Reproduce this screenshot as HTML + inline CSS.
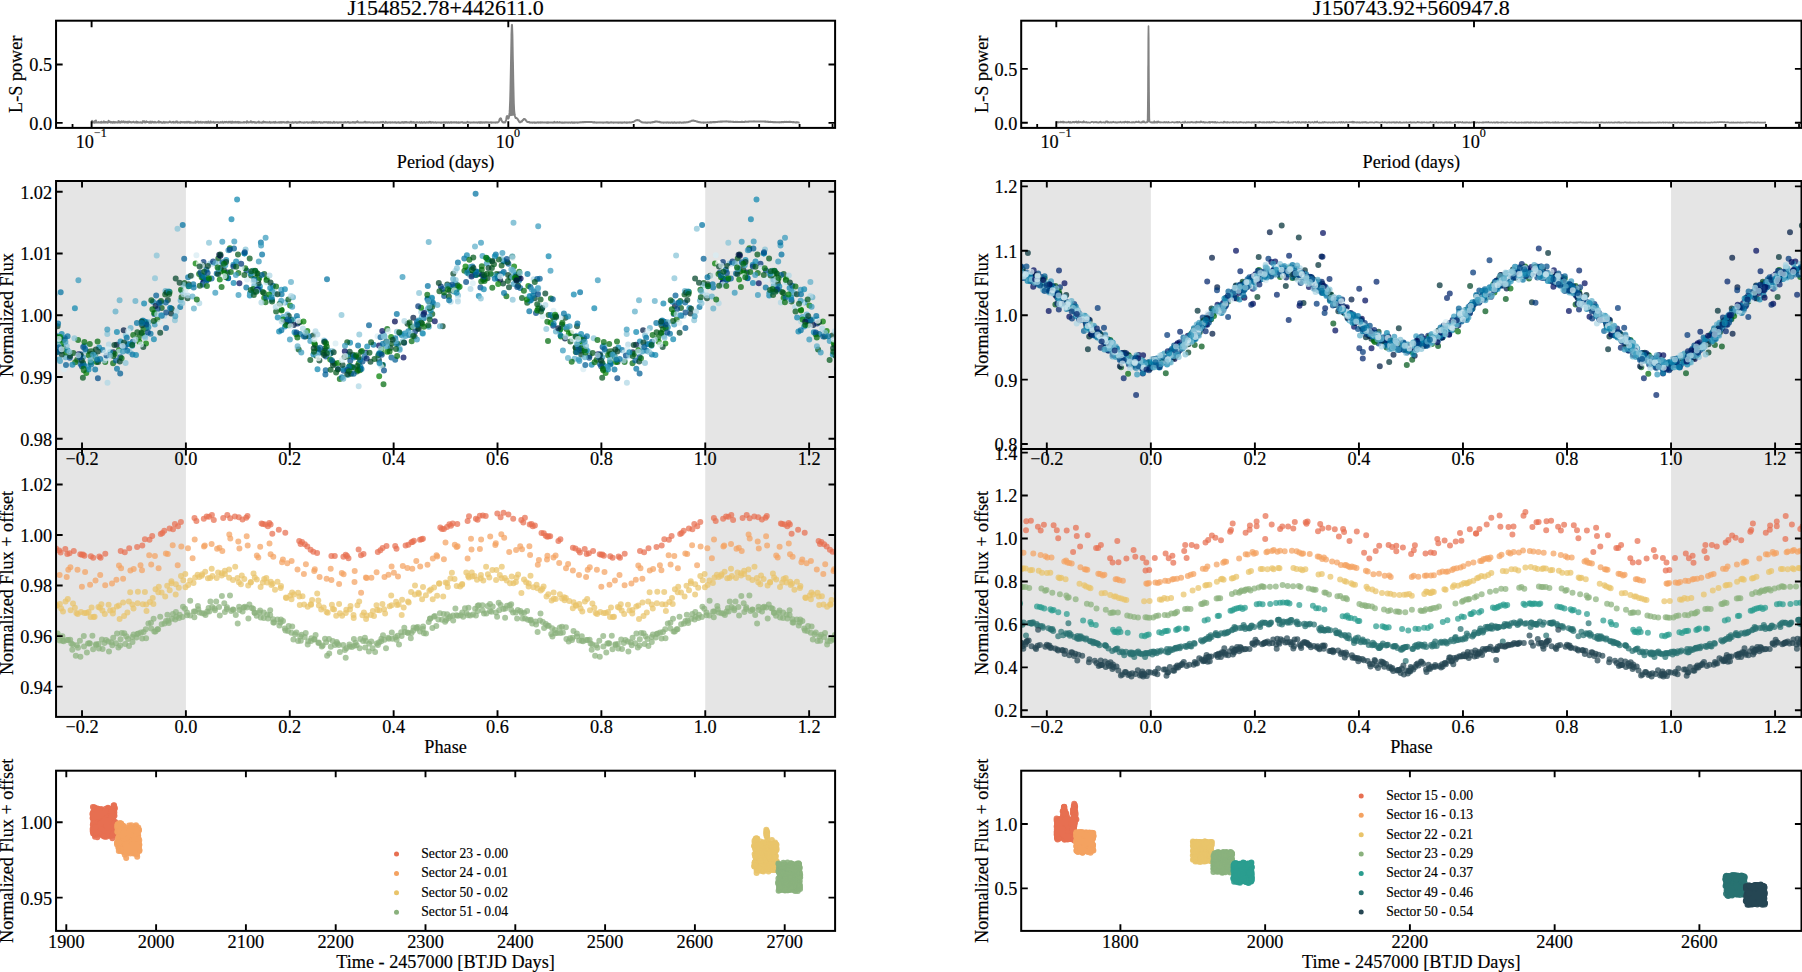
<!DOCTYPE html>
<html lang="en"><head><meta charset="utf-8"><title>Light curves</title>
<style>html,body{margin:0;padding:0;background:#fff;overflow:hidden}svg{display:block}</style>
</head><body>
<svg width="1802" height="972" viewBox="0 0 1802 972" font-family="'Liberation Serif', serif" fill="#000">
<style>text{stroke:#000;stroke-width:0.18px}.m{stroke:none}</style>
<style>.d{fill:none;stroke-linecap:round;stroke-width:6.00px}.e{stroke-width:6.00px}</style>
<rect width="1802" height="972" fill="#fff"/>
<path d="M91.6 121.3 92.1 120.9 92.5 122.4 93.0 122.3 93.5 122.4 94.0 122.6 94.4 121.3 94.9 122.6 95.4 122.1 95.9 120.4 96.3 122.6 96.8 122.5 97.3 122.5 97.7 122.3 98.2 122.0 98.7 122.5 99.2 122.4 99.6 122.6 100.1 122.1 100.6 122.6 101.0 122.7 101.5 121.7 102.0 122.4 102.5 122.4 102.9 122.6 103.4 122.4 103.9 121.4 104.4 122.5 104.8 122.6 105.3 122.0 105.8 122.1 106.2 122.5 106.7 122.1 107.2 122.3 107.7 122.7 108.1 122.3 108.6 120.8 109.1 122.0 109.5 122.1 110.0 121.6 110.5 122.5 111.0 122.3 111.4 122.4 111.9 122.0 112.4 122.7 112.9 122.7 113.3 121.8 113.8 122.2 114.3 122.6 114.7 122.0 115.2 122.6 115.7 122.1 116.2 122.3 116.6 122.3 117.1 122.6 117.6 122.2 118.0 122.6 118.5 121.1 119.0 122.3 119.5 122.4 119.9 121.6 120.4 122.7 120.9 122.1 121.4 122.2 121.8 121.4 122.3 122.1 122.8 122.3 123.2 122.0 123.7 121.3 124.2 122.4 124.7 122.5 125.1 122.3 125.6 121.7 126.1 121.9 126.5 122.5 127.0 122.0 127.5 121.8 128.0 122.7 128.4 122.5 128.9 121.6 129.4 121.6 129.9 122.2 130.3 122.2 130.8 122.0 131.3 122.5 131.7 122.3 132.2 122.2 132.7 122.2 133.2 121.8 133.6 121.8 134.1 122.3 134.6 122.5 135.1 122.6 135.5 122.4 136.0 121.9 136.5 121.6 136.9 122.7 137.4 122.0 137.9 122.2 138.4 122.6 138.8 122.5 139.3 122.5 139.8 122.6 140.2 122.2 140.7 122.2 141.2 122.6 141.7 122.7 142.1 122.4 142.6 122.6 143.1 121.1 143.6 121.8 144.0 121.8 144.5 121.4 145.0 122.5 145.4 122.3 145.9 122.4 146.4 121.3 146.9 122.0 147.3 122.1 147.8 121.9 148.3 122.1 148.7 122.2 149.2 122.7 149.7 122.3 150.2 121.5 150.6 122.6 151.1 122.3 151.6 122.6 152.1 121.6 152.5 122.3 153.0 121.9 153.5 122.1 153.9 122.6 154.4 122.2 154.9 121.8 155.4 122.3 155.8 122.5 156.3 122.4 156.8 122.4 157.2 122.3 157.7 122.2 158.2 122.4 158.7 121.2 159.1 122.6 159.6 122.4 160.1 122.0 160.6 121.9 161.0 122.4 161.5 122.2 162.0 122.7 162.4 122.5 162.9 122.7 163.4 122.6 163.9 121.8 164.3 122.5 164.8 122.7 165.3 122.3 165.7 122.4 166.2 122.2 166.7 122.5 167.2 122.2 167.6 122.5 168.1 122.6 168.6 122.2 169.1 122.3 169.5 121.7 170.0 121.5 170.5 122.2 170.9 122.4 171.4 122.6 171.9 122.2 172.4 122.1 172.8 122.1 173.3 122.6 173.8 121.8 174.3 122.6 174.7 122.6 175.2 122.3 175.7 122.4 176.1 121.5 176.6 122.1 177.1 121.5 177.6 122.7 178.0 122.5 178.5 122.6 179.0 122.3 179.4 122.4 179.9 122.5 180.4 122.7 180.9 121.8 181.3 122.3 181.8 122.1 182.3 122.4 182.8 122.2 183.2 122.3 183.7 122.0 184.2 122.6 184.6 122.1 185.1 122.6 185.6 122.4 186.1 121.8 186.5 122.6 187.0 122.6 187.5 122.6 187.9 121.8 188.4 122.3 188.9 121.7 189.4 122.4 189.8 122.7 190.3 122.1 190.8 122.7 191.3 122.3 191.7 122.5 192.2 122.4 192.7 122.6 193.1 122.7 193.6 122.6 194.1 122.6 194.6 122.3 195.0 122.6 195.5 121.5 196.0 122.6 196.4 122.1 196.9 122.1 197.4 122.0 197.9 121.6 198.3 122.6 198.8 122.7 199.3 122.1 199.8 122.4 200.2 122.5 200.7 121.7 201.2 122.6 201.6 122.6 202.1 122.7 202.6 122.0 203.1 122.4 203.5 122.3 204.0 122.1 204.5 122.4 204.9 122.7 205.4 122.4 205.9 121.8 206.4 122.6 206.8 122.2 207.3 122.3 207.8 122.7 208.3 121.5 208.7 122.6 209.2 122.7 209.7 122.4 210.1 122.7 210.6 121.5 211.1 122.4 211.6 122.3 212.0 122.6 212.5 122.4 213.0 122.1 213.5 121.8 213.9 122.7 214.4 122.7 214.9 122.2 215.3 122.3 215.8 122.4 216.3 122.2 216.8 122.3 217.2 122.1 217.7 122.3 218.2 122.7 218.6 122.3 219.1 122.4 219.6 122.7 220.1 122.3 220.5 122.0 221.0 122.6 221.5 122.5 222.0 122.3 222.4 121.7 222.9 122.6 223.4 122.7 223.8 122.7 224.3 122.1 224.8 121.8 225.3 122.5 225.7 122.1 226.2 122.3 226.7 121.9 227.1 122.4 227.6 122.4 228.1 122.6 228.6 121.9 229.0 122.4 229.5 121.8 230.0 122.3 230.5 121.8 230.9 122.7 231.4 122.2 231.9 122.7 232.3 121.6 232.8 122.4 233.3 122.6 233.8 122.1 234.2 122.0 234.7 122.5 235.2 122.4 235.6 121.9 236.1 122.4 236.6 122.3 237.1 122.5 237.5 122.2 238.0 121.9 238.5 122.7 239.0 122.1 239.4 122.1 239.9 122.7 240.4 122.3 240.8 122.6 241.3 122.4 241.8 122.5 242.3 122.6 242.7 122.5 243.2 122.6 243.7 122.1 244.1 121.9 244.6 122.5 245.1 122.2 245.6 122.2 246.0 122.4 246.5 122.7 247.0 121.3 247.5 122.3 247.9 122.4 248.4 122.3 248.9 122.5 249.3 122.4 249.8 122.2 250.3 122.3 250.8 121.2 251.2 122.3 251.7 122.4 252.2 122.0 252.7 122.4 253.1 122.1 253.6 122.0 254.1 122.2 254.5 122.6 255.0 122.0 255.5 122.7 256.0 122.7 256.4 122.7 256.9 122.3 257.4 122.3 257.8 122.4 258.3 122.4 258.8 121.6 259.3 122.6 259.7 122.3 260.2 122.4 260.7 122.5 261.2 122.6 261.6 122.7 262.1 122.2 262.6 122.4 263.0 122.7 263.5 121.5 264.0 122.3 264.5 122.0 264.9 122.4 265.4 122.4 265.9 122.1 266.3 122.4 266.8 122.6 267.3 122.2 267.8 122.4 268.2 122.6 268.7 122.4 269.2 122.4 269.7 121.9 270.1 122.5 270.6 122.7 271.1 122.5 271.5 122.6 272.0 122.3 272.5 122.6 273.0 122.2 273.4 122.5 273.9 122.1 274.4 122.3 274.8 122.7 275.3 121.8 275.8 122.6 276.3 122.4 276.7 122.6 277.2 122.5 277.7 122.5 278.2 122.5 278.6 122.3 279.1 122.1 279.6 122.7 280.0 122.5 280.5 122.1 281.0 122.7 281.5 122.1 281.9 122.5 282.4 122.4 282.9 122.1 283.3 122.1 283.8 122.3 284.3 122.4 284.8 122.2 285.2 122.5 285.7 122.4 286.2 122.4 286.7 122.0 287.1 122.6 287.6 121.8 288.1 121.8 288.5 122.4 289.0 122.3 289.5 122.6 290.0 122.5 290.4 122.4 290.9 122.5 291.4 122.5 291.9 122.7 292.3 122.3 292.8 122.1 293.3 122.7 293.7 122.7 294.2 122.6 294.7 122.3 295.2 122.2 295.6 122.1 296.1 122.7 296.6 122.2 297.0 122.5 297.5 122.7 298.0 122.5 298.5 122.2 298.9 122.4 299.4 121.9 299.9 122.5 300.4 122.0 300.8 122.2 301.3 122.4 301.8 122.5 302.2 122.4 302.7 122.5 303.2 122.5 303.7 122.7 304.1 122.7 304.6 122.3 305.1 122.4 305.5 122.5 306.0 122.5 306.5 122.2 307.0 122.3 307.4 122.2 307.9 122.7 308.4 122.7 308.9 122.4 309.3 122.6 309.8 122.4 310.3 122.4 310.7 122.4 311.2 122.7 311.7 122.7 312.2 122.0 312.6 121.6 313.1 122.7 313.6 122.7 314.0 121.7 314.5 122.6 315.0 122.7 315.5 122.3 315.9 122.4 316.4 122.0 316.9 122.6 317.4 122.7 317.8 122.2 318.3 122.4 318.8 122.3 319.2 122.1 319.7 122.1 320.2 122.5 320.7 122.7 321.1 122.2 321.6 122.6 322.1 122.7 322.5 122.7 323.0 122.4 323.5 122.6 324.0 122.0 324.4 122.1 324.9 122.4 325.4 122.3 325.9 122.2 326.3 122.4 326.8 122.2 327.3 122.4 327.7 122.7 328.2 122.0 328.7 122.7 329.2 122.5 329.6 122.6 330.1 122.0 330.6 122.7 331.1 122.6 331.5 122.6 332.0 122.5 332.5 122.7 332.9 122.7 333.4 122.6 333.9 121.9 334.4 122.6 334.8 122.7 335.3 122.6 335.8 122.4 336.2 122.2 336.7 122.4 337.2 122.7 337.7 122.5 338.1 122.7 338.6 122.5 339.1 122.4 339.6 122.5 340.0 122.1 340.5 122.6 341.0 122.6 341.4 122.5 341.9 122.3 342.4 122.6 342.9 122.6 343.3 122.6 343.8 122.7 344.3 122.2 344.7 122.3 345.2 122.0 345.7 122.6 346.2 122.6 346.6 122.6 347.1 122.4 347.6 122.1 348.1 122.1 348.5 122.5 349.0 122.2 349.5 122.7 349.9 122.6 350.4 122.7 350.9 122.4 351.4 122.4 351.8 122.6 352.3 122.5 352.8 122.0 353.2 122.2 353.7 122.5 354.2 122.7 354.7 122.3 355.1 122.3 355.6 122.7 356.1 122.0 356.6 122.3 357.0 121.8 357.5 121.4 358.0 122.3 358.4 122.3 358.9 122.5 359.4 122.6 359.9 122.5 360.3 122.4 360.8 122.6 361.3 122.4 361.7 122.5 362.2 122.6 362.7 122.5 363.2 122.5 363.6 122.6 364.1 122.2 364.6 121.7 365.1 122.4 365.5 121.9 366.0 122.6 366.5 122.6 366.9 122.3 367.4 122.3 367.9 122.4 368.4 122.4 368.8 122.2 369.3 122.3 369.8 122.3 370.3 122.6 370.7 122.4 371.2 122.5 371.7 122.4 372.1 122.4 372.6 122.3 373.1 122.6 373.6 122.7 374.0 122.6 374.5 122.3 375.0 122.6 375.4 122.5 375.9 122.4 376.4 122.6 376.9 122.4 377.3 122.4 377.8 122.3 378.3 122.6 378.8 122.6 379.2 122.2 379.7 122.6 380.2 122.5 380.6 122.1 381.1 122.3 381.6 122.1 382.1 122.6 382.5 122.5 383.0 121.8 383.5 122.3 383.9 122.4 384.4 122.7 384.9 122.7 385.4 122.7 385.8 121.8 386.3 122.4 386.8 122.5 387.3 122.7 387.7 122.7 388.2 122.4 388.7 122.6 389.1 122.4 389.6 122.5 390.1 122.2 390.6 122.6 391.0 122.2 391.5 122.6 392.0 122.5 392.4 122.2 392.9 122.4 393.4 122.4 393.9 122.5 394.3 122.6 394.8 122.3 395.3 122.4 395.8 122.3 396.2 122.7 396.7 122.7 397.2 122.6 397.6 122.6 398.1 122.2 398.6 122.3 399.1 122.7 399.5 122.4 400.0 122.5 400.5 122.7 400.9 122.7 401.4 122.6 401.9 122.1 402.4 122.4 402.8 122.3 403.3 122.7 403.8 122.5 404.3 122.2 404.7 122.6 405.2 122.0 405.7 122.5 406.1 122.5 406.6 122.1 407.1 122.4 407.6 122.4 408.0 122.6 408.5 122.4 409.0 122.4 409.5 122.7 409.9 122.4 410.4 121.8 410.9 122.4 411.3 121.9 411.8 122.7 412.3 122.6 412.8 122.3 413.2 122.1 413.7 122.5 414.2 122.7 414.6 122.2 415.1 122.7 415.6 122.4 416.1 122.7 416.5 122.5 417.0 122.2 417.5 122.6 418.0 122.4 418.4 122.5 418.9 122.6 419.4 122.3 419.8 122.1 420.3 122.7 420.8 122.7 421.3 122.5 421.7 122.0 422.2 122.7 422.7 122.7 423.1 122.6 423.6 122.3 424.1 122.6 424.6 122.1 425.0 122.6 425.5 122.7 426.0 122.7 426.5 122.3 426.9 122.2 427.4 122.5 427.9 122.6 428.3 122.7 428.8 122.1 429.3 122.1 429.8 121.7 430.2 122.6 430.7 122.0 431.2 122.7 431.6 122.6 432.1 122.3 432.6 122.3 433.1 122.3 433.5 122.6 434.0 122.7 434.5 122.4 435.0 122.4 435.4 122.3 435.9 122.5 436.4 122.7 436.8 122.6 437.3 122.6 437.8 122.4 438.3 122.6 438.7 122.5 439.2 122.6 439.7 122.6 440.1 122.5 440.6 122.7 441.1 122.6 441.6 122.7 442.0 122.4 442.5 122.4 443.0 122.4 443.5 122.7 443.9 122.2 444.4 122.4 444.9 122.7 445.3 122.2 445.8 122.6 446.3 122.2 446.8 122.6 447.2 122.5 447.7 122.7 448.2 122.2 448.7 122.6 449.1 122.5 449.6 122.7 450.1 122.6 450.5 122.5 451.0 122.1 451.5 122.7 452.0 122.2 452.4 122.6 452.9 122.6 453.4 122.2 453.8 122.6 454.3 122.5 454.8 122.3 455.3 122.4 455.7 122.6 456.2 122.1 456.7 122.7 457.2 122.4 457.6 122.5 458.1 122.7 458.6 122.2 459.0 122.7 459.5 122.5 460.0 122.6 460.5 122.5 460.9 122.3 461.4 122.2 461.9 122.3 462.3 122.4 462.8 122.2 463.3 122.7 463.8 122.7 464.2 122.6 464.7 122.7 465.2 122.6 465.7 122.7 466.1 122.7 466.6 122.7 467.1 122.1 467.5 121.8 468.0 122.5 468.5 122.2 469.0 122.6 469.4 122.5 469.9 122.6 470.4 122.6 470.8 122.7 471.3 122.4 471.8 122.5 472.3 122.4 472.7 122.5 473.2 122.6 473.7 122.3 474.2 122.5 474.6 122.4 475.1 122.4 475.6 122.5 476.0 122.4 476.5 122.6 477.0 122.4 477.5 122.7 477.9 122.4 478.4 122.4 478.9 122.2 479.3 122.7 479.8 122.2 480.3 122.6 480.8 122.1 481.2 122.7 481.7 122.3 482.2 122.3 482.7 122.7 483.1 122.4 483.6 122.5 484.1 122.2 484.5 122.7 485.0 122.4 485.5 122.3 486.0 122.5 486.4 122.2 486.9 122.3 487.4 122.6 487.9 122.2 488.3 122.7 488.8 122.7 489.3 122.5 489.7 122.6 490.2 122.6 490.7 122.3 491.2 122.3 491.6 122.7 492.1 122.5 492.6 122.5 493.0 122.6 493.5 122.4 494.0 122.5 494.5 122.4 494.9 122.4 495.4 122.7 495.9 122.6 496.4 122.3 496.8 122.6 497.3 122.6 497.8 122.5 498.2 122.0 498.7 121.6 499.2 120.6 499.7 119.1 500.1 118.6 500.6 118.3 501.1 118.8 501.5 120.5 502.0 121.2 502.5 122.1 503.0 122.3 503.4 122.5 503.9 122.3 504.4 122.5 504.9 122.6 505.3 122.2 505.8 121.0 506.3 119.2 506.7 116.6 507.2 116.0 507.7 117.5 508.2 118.6 508.6 118.2 509.1 116.2 509.3 115.1 509.6 112.7 509.8 110.2 510.0 104.7 510.2 100.5 510.5 88.5 510.6 83.2 511.0 63.6 511.1 58.5 511.5 37.3 511.5 35.0 511.9 25.0 512.0 24.9 512.4 35.2 512.4 35.7 512.8 58.7 512.9 61.7 513.3 83.1 513.4 87.5 513.7 100.5 513.8 103.8 514.1 110.1 514.3 112.0 514.6 114.5 514.8 115.4 515.2 116.8 515.7 118.0 516.2 117.9 516.7 118.3 517.1 118.4 517.6 119.1 518.1 120.0 518.5 120.4 519.0 121.5 519.5 122.2 520.0 122.3 520.4 122.3 520.9 121.9 521.4 121.2 521.9 121.5 522.3 120.8 522.8 120.0 523.3 119.9 523.7 119.2 524.2 118.9 524.7 119.1 525.2 119.4 525.6 119.9 526.1 120.6 526.6 121.2 527.1 121.7 527.5 122.1 528.0 122.0 528.5 122.1 528.9 122.2 529.4 122.0 529.9 122.7 530.4 122.4 530.8 122.5 531.3 122.6 531.8 122.6 532.2 122.7 532.7 122.5 533.2 122.5 533.7 122.5 534.1 122.7 534.6 122.5 535.1 122.5 535.6 122.7 536.0 122.7 536.5 122.7 537.0 122.4 537.4 122.4 537.9 122.3 538.4 122.6 538.9 122.7 539.3 122.5 539.8 122.4 540.3 122.2 540.7 122.7 541.2 122.6 541.7 122.5 542.2 122.2 542.6 122.5 543.1 122.5 543.6 122.4 544.1 122.6 544.5 122.6 545.0 122.6 545.5 122.6 545.9 122.6 546.4 122.5 546.9 122.7 547.4 122.5 547.8 122.2 548.3 122.7 548.8 122.6 549.2 122.6 549.7 122.5 550.2 122.5 550.7 122.6 551.1 122.5 551.6 122.4 552.1 122.6 552.6 122.6 553.0 122.7 553.5 122.6 554.0 122.2 554.4 121.9 554.9 122.5 555.4 122.6 555.9 122.5 556.3 122.5 556.8 122.6 557.3 122.0 557.7 122.5 558.2 122.5 558.7 122.5 559.2 122.5 559.6 122.1 560.1 122.4 560.6 122.6 561.1 122.5 561.5 122.7 562.0 122.7 562.5 122.5 562.9 122.7 563.4 122.7 563.9 122.6 564.4 122.4 564.8 122.7 565.3 122.6 565.8 122.6 566.3 122.6 566.7 122.4 567.2 122.4 567.7 122.6 568.1 122.7 568.6 122.6 569.1 122.5 569.6 122.6 570.0 122.6 570.5 122.7 571.0 122.6 571.4 122.5 571.9 122.2 572.4 122.7 572.9 122.5 573.3 122.5 573.8 122.7 574.3 122.6 574.8 122.7 575.2 122.4 575.7 122.4 576.2 122.6 576.6 122.6 577.1 122.6 577.6 122.7 578.1 122.5 578.5 122.6 579.0 122.6 579.5 122.4 579.9 122.2 580.4 122.2 580.9 122.5 581.4 122.2 581.8 122.2 582.3 122.2 582.8 122.1 583.3 122.2 583.7 122.2 584.2 122.0 584.7 122.0 585.1 122.2 585.6 121.9 586.1 122.1 586.6 121.9 587.0 122.1 587.5 121.9 588.0 122.1 588.4 122.0 588.9 122.0 589.4 122.0 589.9 121.9 590.3 122.1 590.8 122.0 591.3 122.0 591.8 122.1 592.2 122.1 592.7 122.3 593.2 122.4 593.6 122.5 594.1 122.0 594.6 122.6 595.1 122.5 595.5 122.4 596.0 122.6 596.5 122.4 596.9 122.7 597.4 122.4 597.9 122.5 598.4 122.6 598.8 122.6 599.3 122.6 599.8 122.4 600.3 122.6 600.7 122.6 601.2 122.6 601.7 122.6 602.1 122.6 602.6 122.5 603.1 122.7 603.6 122.7 604.0 122.5 604.5 122.5 605.0 122.4 605.5 122.4 605.9 122.4 606.4 122.6 606.9 122.2 607.3 122.4 607.8 122.7 608.3 122.5 608.8 122.6 609.2 122.7 609.7 122.6 610.2 122.5 610.6 122.6 611.1 122.3 611.6 122.5 612.1 122.4 612.5 122.5 613.0 122.6 613.5 122.7 614.0 122.5 614.4 122.5 614.9 122.5 615.4 122.5 615.8 122.4 616.3 122.5 616.8 122.5 617.3 122.6 617.7 122.5 618.2 122.7 618.7 122.6 619.1 122.7 619.6 122.4 620.1 122.6 620.6 122.4 621.0 122.7 621.5 122.5 622.0 122.7 622.5 122.6 622.9 122.7 623.4 122.4 623.9 122.5 624.3 122.2 624.8 122.5 625.3 122.4 625.8 122.4 626.2 122.7 626.7 122.6 627.2 122.7 627.6 122.4 628.1 122.6 628.6 122.6 629.1 122.6 629.5 122.3 630.0 122.4 630.5 122.6 631.0 122.4 631.4 122.4 631.9 122.2 632.4 122.1 632.8 122.1 633.3 121.7 633.8 121.7 634.3 121.4 634.7 121.1 635.2 120.7 635.7 120.6 636.1 120.2 636.6 120.2 637.1 120.1 637.6 119.9 638.0 120.3 638.5 120.3 639.0 120.2 639.5 120.8 639.9 121.0 640.4 121.3 640.9 121.7 641.3 122.0 641.8 122.2 642.3 122.3 642.8 122.4 643.2 122.5 643.7 122.4 644.2 122.4 644.7 122.5 645.1 122.7 645.6 122.6 646.1 122.6 646.5 122.7 647.0 122.6 647.5 122.7 648.0 122.6 648.4 122.4 648.9 122.5 649.4 122.5 649.8 122.6 650.3 122.7 650.8 122.5 651.3 122.5 651.7 122.2 652.2 122.2 652.7 122.4 653.2 122.0 653.6 122.0 654.1 122.0 654.6 121.9 655.0 121.6 655.5 121.7 656.0 121.5 656.5 121.6 656.9 121.5 657.4 121.7 657.9 121.7 658.3 121.8 658.8 121.9 659.3 121.8 659.8 122.2 660.2 122.1 660.7 122.3 661.2 122.5 661.7 122.5 662.1 122.5 662.6 122.5 663.1 122.6 663.5 122.7 664.0 122.5 664.5 122.5 665.0 122.5 665.4 122.4 665.9 122.6 666.4 122.7 666.8 122.5 667.3 122.6 667.8 122.3 668.3 122.6 668.7 122.7 669.2 122.5 669.7 122.5 670.2 122.6 670.6 122.7 671.1 122.6 671.6 122.4 672.0 122.3 672.5 122.7 673.0 122.7 673.5 122.6 673.9 122.7 674.4 122.3 674.9 122.5 675.3 122.7 675.8 122.7 676.3 122.6 676.8 122.7 677.2 122.6 677.7 122.6 678.2 122.4 678.7 122.7 679.1 122.7 679.6 122.5 680.1 122.3 680.5 122.5 681.0 122.6 681.5 122.7 682.0 122.7 682.4 122.6 682.9 122.6 683.4 122.7 683.9 122.4 684.3 122.3 684.8 122.4 685.3 122.5 685.7 122.5 686.2 122.3 686.7 122.3 687.2 122.3 687.6 122.2 688.1 122.2 688.6 121.9 689.0 121.8 689.5 121.7 690.0 121.6 690.5 121.3 690.9 121.1 691.4 120.8 691.9 120.7 692.4 120.6 692.8 120.7 693.3 120.6 693.8 120.6 694.2 120.8 694.7 120.9 695.2 121.1 695.7 121.0 696.1 121.3 696.6 121.4 697.1 121.7 697.5 121.6 698.0 121.9 698.5 121.9 699.0 122.2 699.4 122.3 699.9 122.1 700.4 122.3 700.9 122.4 701.3 122.4 701.8 122.6 702.3 122.5 702.7 122.6 703.2 122.5 703.7 122.7 704.2 122.5 704.6 122.5 705.1 122.5 705.6 122.5 706.0 122.4 706.5 122.5 707.0 122.6 707.5 122.3 707.9 122.4 708.4 122.4 708.9 122.5 709.4 122.2 709.8 122.5 710.3 122.4 710.8 122.0 711.2 122.4 711.7 122.4 712.2 122.2 712.7 122.2 713.1 122.0 713.6 122.2 714.1 122.0 714.5 122.0 715.0 122.2 715.5 122.0 716.0 122.0 716.4 121.9 716.9 121.9 717.4 121.9 717.9 121.8 718.3 121.8 718.8 121.8 719.3 121.8 719.7 121.7 720.2 121.6 720.7 121.7 721.2 121.6 721.6 121.5 722.1 121.7 722.6 121.6 723.1 121.6 723.5 121.5 724.0 121.6 724.5 121.6 724.9 121.6 725.4 121.4 725.9 121.6 726.4 121.3 726.8 121.5 727.3 121.6 727.8 121.6 728.2 121.5 728.7 121.7 729.2 121.7 729.7 121.6 730.1 121.5 730.6 121.7 731.1 121.8 731.6 121.7 732.0 121.8 732.5 121.8 733.0 121.9 733.4 121.8 733.9 121.9 734.4 122.0 734.9 122.0 735.3 121.8 735.8 121.9 736.3 122.0 736.7 121.8 737.2 122.1 737.7 121.8 738.2 122.1 738.6 121.9 739.1 122.0 739.6 121.9 740.1 122.0 740.5 121.9 741.0 122.0 741.5 122.0 741.9 121.6 742.4 122.0 742.9 122.0 743.4 121.9 743.8 122.0 744.3 121.9 744.8 121.9 745.2 121.5 745.7 121.7 746.2 121.7 746.7 121.7 747.1 121.8 747.6 121.8 748.1 121.6 748.6 121.7 749.0 121.6 749.5 121.6 750.0 121.5 750.4 121.6 750.9 121.6 751.4 121.6 751.9 121.6 752.3 121.5 752.8 121.6 753.3 121.5 753.7 121.5 754.2 121.3 754.7 121.6 755.2 121.5 755.6 121.5 756.1 121.5 756.6 121.5 757.1 121.6 757.5 121.5 758.0 121.4 758.5 121.4 758.9 121.5 759.4 121.5 759.9 121.4 760.4 121.6 760.8 121.5 761.3 121.5 761.8 121.5 762.2 121.4 762.7 121.5 763.2 121.6 763.7 121.4 764.1 121.5 764.6 121.5 765.1 121.7 765.6 121.5 766.0 121.7 766.5 121.7 767.0 121.7 767.4 121.6 767.9 121.9 768.4 121.8 768.9 121.9 769.3 121.9 769.8 122.0 770.3 121.8 770.8 122.0 771.2 121.9 771.7 121.9 772.2 122.1 772.6 122.0 773.1 122.2 773.6 122.2 774.1 122.1 774.5 122.3 775.0 122.1 775.5 122.2 775.9 122.2 776.4 122.2 776.9 122.2 777.4 122.2 777.8 122.3 778.3 122.2 778.8 122.3 779.3 122.4 779.7 122.2 780.2 122.3 780.7 122.3 781.1 122.0 781.6 122.0 782.1 122.2 782.6 122.1 783.0 121.9 783.5 122.2 784.0 122.0 784.4 122.0 784.9 121.8 785.4 121.9 785.9 121.9 786.3 121.9 786.8 121.8 787.3 121.9 787.8 121.9 788.2 121.9 788.7 122.0 789.2 121.8 789.6 122.0 790.1 121.7 790.6 122.0 791.1 122.0 791.5 122.0 792.0 122.1 792.5 122.2 792.9 122.2 793.4 122.1 793.9 122.2 794.4 122.2 794.8 122.2 795.3 122.4 795.8 122.4 796.3 122.3 796.7 122.4 797.2 122.2 797.7 122.5 798.1 122.5 798.6 122.5 799.1 122.6 799.6 122.4" fill="none" stroke="#838383" stroke-width="2.00" stroke-linejoin="round"/>
<path d="M509.1 116.2 509.3 115.1 509.6 112.7 509.8 110.2 510.0 104.7 510.2 100.5 510.5 88.5 510.6 83.2 511.0 63.6 511.1 58.5 511.5 37.3 511.5 35.0 511.9 25.0 512.0 24.9 512.4 35.2 512.4 35.7 512.8 58.7 512.9 61.7 513.3 83.1 513.4 87.5 513.7 100.5 513.8 103.8 514.1 110.1 514.3 112.0 514.6 114.5 514.8 115.4Z" fill="#838383"/>
<rect x="56.05" y="20.70" width="779.05" height="107.20" fill="none" stroke="#000" stroke-width="2.00"/>
<path d="M91.60 127.90v-6.60M91.60 20.70v6.60M508.30 127.90v-6.60M508.30 20.70v6.60" stroke="#000" stroke-width="1.90" fill="none"/>
<path d="M72.53 127.90v-3.80M217.04 127.90v-3.80M290.42 127.90v-3.80M342.48 127.90v-3.80M382.86 127.90v-3.80M415.86 127.90v-3.80M443.75 127.90v-3.80M467.92 127.90v-3.80M489.23 127.90v-3.80M633.74 127.90v-3.80M707.12 127.90v-3.80M759.18 127.90v-3.80M799.56 127.90v-3.80M832.56 127.90v-3.80" stroke="#000" stroke-width="1.80" fill="none"/>
<text x="91.30" y="147.60" text-anchor="middle" font-size="18.30">10<tspan dy="-10.4" font-size="12.08"><tspan class="m">−</tspan>1</tspan></text>
<text x="508.00" y="147.60" text-anchor="middle" font-size="18.30">10<tspan dy="-10.4" font-size="12.08">0</tspan></text>
<path d="M56.05 122.90h6.60M835.10 122.90h-6.60M56.05 64.50h6.60M835.10 64.50h-6.60" stroke="#000" stroke-width="1.90" fill="none"/>
<text x="52.15" y="129.80" text-anchor="end" font-size="18.30">0.0</text>
<text x="52.15" y="71.40" text-anchor="end" font-size="18.30">0.5</text>
<text x="445.57" y="168.10" text-anchor="middle" font-size="18.20">Period (days)</text>
<text transform="translate(22.20 74.30) rotate(-90)" text-anchor="middle" font-size="18.20">L-S power</text>
<text x="445.57" y="14.90" text-anchor="middle" font-size="22.00">J154852.78+442611.0</text>
<path d="M1056.3 122.2 1056.8 121.8 1057.2 122.5 1057.7 122.4 1058.2 121.9 1058.7 122.6 1059.1 122.3 1059.6 122.2 1060.1 122.2 1060.6 121.6 1061.0 122.5 1061.5 121.9 1062.0 122.1 1062.5 121.6 1062.9 122.5 1063.4 121.6 1063.9 122.6 1064.3 121.9 1064.8 122.3 1065.3 122.4 1065.8 122.2 1066.2 122.3 1066.7 122.6 1067.2 122.3 1067.7 122.4 1068.1 122.1 1068.6 121.6 1069.1 122.5 1069.6 122.1 1070.0 122.6 1070.5 121.9 1071.0 122.7 1071.4 122.6 1071.9 122.5 1072.4 122.0 1072.9 122.4 1073.3 122.0 1073.8 121.8 1074.3 122.5 1074.8 122.0 1075.2 121.9 1075.7 122.2 1076.2 121.4 1076.7 122.5 1077.1 122.0 1077.6 122.7 1078.1 122.6 1078.6 121.4 1079.0 122.5 1079.5 122.5 1080.0 122.1 1080.4 121.9 1080.9 122.2 1081.4 122.0 1081.9 122.5 1082.3 122.2 1082.8 121.8 1083.3 122.3 1083.8 121.2 1084.2 122.3 1084.7 122.2 1085.2 122.2 1085.7 122.3 1086.1 122.6 1086.6 121.9 1087.1 122.4 1087.5 122.6 1088.0 122.7 1088.5 122.3 1089.0 122.5 1089.4 122.6 1089.9 122.5 1090.4 122.6 1090.9 122.2 1091.3 122.1 1091.8 121.9 1092.3 122.0 1092.8 121.9 1093.2 122.1 1093.7 122.5 1094.2 122.1 1094.6 122.0 1095.1 122.4 1095.6 122.0 1096.1 121.9 1096.5 122.3 1097.0 122.0 1097.5 122.5 1098.0 122.7 1098.4 122.4 1098.9 122.6 1099.4 121.9 1099.9 122.4 1100.3 121.9 1100.8 121.6 1101.3 122.6 1101.7 122.5 1102.2 122.5 1102.7 122.4 1103.2 122.4 1103.6 122.2 1104.1 122.4 1104.6 122.6 1105.1 122.4 1105.5 122.6 1106.0 121.4 1106.5 121.8 1107.0 121.3 1107.4 121.5 1107.9 122.5 1108.4 122.1 1108.8 122.1 1109.3 122.7 1109.8 122.3 1110.3 122.3 1110.7 122.1 1111.2 122.6 1111.7 122.1 1112.2 122.5 1112.6 122.4 1113.1 121.6 1113.6 122.0 1114.1 122.5 1114.5 122.5 1115.0 122.1 1115.5 122.1 1116.0 122.7 1116.4 122.4 1116.9 122.4 1117.4 122.6 1117.8 122.3 1118.3 122.5 1118.8 122.2 1119.3 122.4 1119.7 122.4 1120.2 121.6 1120.7 122.3 1121.2 122.6 1121.6 122.3 1122.1 122.2 1122.6 122.5 1123.1 122.2 1123.5 122.3 1124.0 121.8 1124.5 122.7 1124.9 121.9 1125.4 121.6 1125.9 122.1 1126.4 122.1 1126.8 121.9 1127.3 122.7 1127.8 121.7 1128.3 122.4 1128.7 122.4 1129.2 121.8 1129.7 122.2 1130.2 122.5 1130.6 122.5 1131.1 122.5 1131.6 122.2 1132.0 122.6 1132.5 122.1 1133.0 122.3 1133.5 122.2 1133.9 122.0 1134.4 122.6 1134.9 122.3 1135.4 122.3 1135.8 121.8 1136.3 121.6 1136.8 122.2 1137.3 122.1 1137.7 122.2 1138.2 121.9 1138.7 121.4 1139.1 122.4 1139.6 122.5 1140.1 122.3 1140.6 122.6 1141.0 122.5 1141.5 122.6 1142.0 121.7 1142.5 121.5 1142.9 122.4 1143.4 122.2 1143.9 121.2 1144.4 122.1 1144.8 122.4 1145.3 122.7 1145.8 122.4 1146.3 122.1 1146.7 122.5 1147.2 122.2 1147.5 121.3 1147.7 118.3 1147.7 117.3 1147.8 109.8 1148.0 91.0 1148.1 68.0 1148.2 64.0 1148.3 38.2 1148.5 26.2 1148.6 32.7 1148.7 38.5 1148.8 64.2 1149.0 91.2 1149.1 102.3 1149.2 109.3 1149.3 118.1 1149.5 121.5 1149.6 121.1 1150.0 121.8 1150.5 122.2 1151.0 122.5 1151.5 122.1 1151.9 122.6 1152.4 122.6 1152.9 122.2 1153.4 122.7 1153.8 122.6 1154.3 121.2 1154.8 122.6 1155.2 122.0 1155.7 122.0 1156.2 122.6 1156.7 122.1 1157.1 121.5 1157.6 122.6 1158.1 122.2 1158.6 121.4 1159.0 122.1 1159.5 122.1 1160.0 122.5 1160.5 122.1 1160.9 122.5 1161.4 122.4 1161.9 122.3 1162.3 122.4 1162.8 122.5 1163.3 122.3 1163.8 122.6 1164.2 122.0 1164.7 122.5 1165.2 122.3 1165.7 122.6 1166.1 122.0 1166.6 122.3 1167.1 122.3 1167.6 122.6 1168.0 122.2 1168.5 121.8 1169.0 122.6 1169.4 122.5 1169.9 122.5 1170.4 122.5 1170.9 122.5 1171.3 122.5 1171.8 122.2 1172.3 122.2 1172.8 122.0 1173.2 122.3 1173.7 122.5 1174.2 122.6 1174.7 122.4 1175.1 122.5 1175.6 122.4 1176.1 122.1 1176.5 122.3 1177.0 121.8 1177.5 122.1 1178.0 122.7 1178.4 122.3 1178.9 122.0 1179.4 121.8 1179.9 122.3 1180.3 122.6 1180.8 122.5 1181.3 122.6 1181.8 122.6 1182.2 122.5 1182.7 122.1 1183.2 122.0 1183.7 122.7 1184.1 122.6 1184.6 122.6 1185.1 121.5 1185.5 122.4 1186.0 122.5 1186.5 122.5 1187.0 122.6 1187.4 122.2 1187.9 122.3 1188.4 122.3 1188.9 122.2 1189.3 122.3 1189.8 122.6 1190.3 122.3 1190.8 122.4 1191.2 121.9 1191.7 122.2 1192.2 122.2 1192.6 122.1 1193.1 122.6 1193.6 122.3 1194.1 122.4 1194.5 122.4 1195.0 122.2 1195.5 122.6 1196.0 122.2 1196.4 121.7 1196.9 122.6 1197.4 122.1 1197.9 122.2 1198.3 122.0 1198.8 122.4 1199.3 122.3 1199.7 122.0 1200.2 122.4 1200.7 121.4 1201.2 122.0 1201.6 121.7 1202.1 122.2 1202.6 122.4 1203.1 122.5 1203.5 121.8 1204.0 122.4 1204.5 122.6 1205.0 122.1 1205.4 122.6 1205.9 122.3 1206.4 122.3 1206.8 122.3 1207.3 122.6 1207.8 122.5 1208.3 122.3 1208.7 122.1 1209.2 122.6 1209.7 121.8 1210.2 122.7 1210.6 122.1 1211.1 122.1 1211.6 122.1 1212.1 122.3 1212.5 122.0 1213.0 122.5 1213.5 122.5 1213.9 122.0 1214.4 122.5 1214.9 122.1 1215.4 121.9 1215.8 122.6 1216.3 122.7 1216.8 122.4 1217.3 122.2 1217.7 122.4 1218.2 122.5 1218.7 122.5 1219.2 122.6 1219.6 122.5 1220.1 122.5 1220.6 122.4 1221.1 122.5 1221.5 122.4 1222.0 122.4 1222.5 122.5 1222.9 122.6 1223.4 122.7 1223.9 121.5 1224.4 121.5 1224.8 122.5 1225.3 122.5 1225.8 122.0 1226.3 122.3 1226.7 122.6 1227.2 122.7 1227.7 122.0 1228.2 122.3 1228.6 122.4 1229.1 122.4 1229.6 122.6 1230.0 122.5 1230.5 122.3 1231.0 122.5 1231.5 122.5 1231.9 122.3 1232.4 122.5 1232.9 121.9 1233.4 122.5 1233.8 122.1 1234.3 122.3 1234.8 122.3 1235.3 122.3 1235.7 122.2 1236.2 122.5 1236.7 122.0 1237.1 122.4 1237.6 122.7 1238.1 122.4 1238.6 122.5 1239.0 122.2 1239.5 122.0 1240.0 122.5 1240.5 122.0 1240.9 121.9 1241.4 122.2 1241.9 122.4 1242.4 122.4 1242.8 122.5 1243.3 122.6 1243.8 122.4 1244.2 122.3 1244.7 122.3 1245.2 122.6 1245.7 122.5 1246.1 122.6 1246.6 122.2 1247.1 122.1 1247.6 122.5 1248.0 122.5 1248.5 122.1 1249.0 122.4 1249.5 122.4 1249.9 122.1 1250.4 122.5 1250.9 122.5 1251.3 122.6 1251.8 122.0 1252.3 122.1 1252.8 122.5 1253.2 122.5 1253.7 122.2 1254.2 122.7 1254.7 122.1 1255.1 122.0 1255.6 122.5 1256.1 122.4 1256.6 122.4 1257.0 122.3 1257.5 122.5 1258.0 122.2 1258.5 122.4 1258.9 122.6 1259.4 121.8 1259.9 122.3 1260.3 122.1 1260.8 122.2 1261.3 122.4 1261.8 122.3 1262.2 122.3 1262.7 122.6 1263.2 122.3 1263.7 122.2 1264.1 122.6 1264.6 122.2 1265.1 122.5 1265.6 122.5 1266.0 122.4 1266.5 122.6 1267.0 121.9 1267.4 122.3 1267.9 122.4 1268.4 122.2 1268.9 122.5 1269.3 121.9 1269.8 122.6 1270.3 122.6 1270.8 122.5 1271.2 122.0 1271.7 122.4 1272.2 122.4 1272.7 122.5 1273.1 121.9 1273.6 122.0 1274.1 121.6 1274.5 121.9 1275.0 122.2 1275.5 122.3 1276.0 122.4 1276.4 122.5 1276.9 122.3 1277.4 122.5 1277.9 122.4 1278.3 122.6 1278.8 122.5 1279.3 122.5 1279.8 122.4 1280.2 122.5 1280.7 122.5 1281.2 122.1 1281.6 122.1 1282.1 122.0 1282.6 122.4 1283.1 122.3 1283.5 121.9 1284.0 122.4 1284.5 122.3 1285.0 122.3 1285.4 122.4 1285.9 122.4 1286.4 122.3 1286.9 122.3 1287.3 122.6 1287.8 122.6 1288.3 121.5 1288.8 122.6 1289.2 122.6 1289.7 122.6 1290.2 122.6 1290.6 122.5 1291.1 122.3 1291.6 122.5 1292.1 122.6 1292.5 122.3 1293.0 122.6 1293.5 122.1 1294.0 122.1 1294.4 122.0 1294.9 122.0 1295.4 121.9 1295.9 122.6 1296.3 122.6 1296.8 122.4 1297.3 122.3 1297.7 121.9 1298.2 122.6 1298.7 122.6 1299.2 121.9 1299.6 122.3 1300.1 122.4 1300.6 122.7 1301.1 122.6 1301.5 122.2 1302.0 122.2 1302.5 122.3 1303.0 122.2 1303.4 122.2 1303.9 122.5 1304.4 122.2 1304.8 122.6 1305.3 122.7 1305.8 121.9 1306.3 122.0 1306.7 122.4 1307.2 122.5 1307.7 122.6 1308.2 122.5 1308.6 122.0 1309.1 122.5 1309.6 122.3 1310.1 122.1 1310.5 122.7 1311.0 122.6 1311.5 122.3 1311.9 122.2 1312.4 122.0 1312.9 122.4 1313.4 122.6 1313.8 122.6 1314.3 122.5 1314.8 121.7 1315.3 122.5 1315.7 122.4 1316.2 122.1 1316.7 122.4 1317.2 121.5 1317.6 122.2 1318.1 122.5 1318.6 122.7 1319.0 122.6 1319.5 122.4 1320.0 122.6 1320.5 122.6 1320.9 122.6 1321.4 122.7 1321.9 122.6 1322.4 122.1 1322.8 122.1 1323.3 122.6 1323.8 122.4 1324.3 122.3 1324.7 121.8 1325.2 122.5 1325.7 122.3 1326.2 122.4 1326.6 122.5 1327.1 122.3 1327.6 122.7 1328.0 122.6 1328.5 122.4 1329.0 122.3 1329.5 122.4 1329.9 122.3 1330.4 122.6 1330.9 122.6 1331.4 122.6 1331.8 122.4 1332.3 122.2 1332.8 122.6 1333.3 122.3 1333.7 122.6 1334.2 122.0 1334.7 122.4 1335.1 122.6 1335.6 122.5 1336.1 122.4 1336.6 122.3 1337.0 122.5 1337.5 122.6 1338.0 122.4 1338.5 122.4 1338.9 122.1 1339.4 122.1 1339.9 122.4 1340.4 122.6 1340.8 122.6 1341.3 121.8 1341.8 122.3 1342.2 122.6 1342.7 122.6 1343.2 121.9 1343.7 122.4 1344.1 122.4 1344.6 122.6 1345.1 122.6 1345.6 122.3 1346.0 122.0 1346.5 122.3 1347.0 122.2 1347.5 122.6 1347.9 122.5 1348.4 122.4 1348.9 122.2 1349.3 122.0 1349.8 122.4 1350.3 122.2 1350.8 122.1 1351.2 121.9 1351.7 122.4 1352.2 122.5 1352.7 121.6 1353.1 122.6 1353.6 122.0 1354.1 122.5 1354.6 122.0 1355.0 122.4 1355.5 122.4 1356.0 122.3 1356.4 122.4 1356.9 122.6 1357.4 122.1 1357.9 122.5 1358.3 122.3 1358.8 122.7 1359.3 122.1 1359.8 122.5 1360.2 122.7 1360.7 122.6 1361.2 122.4 1361.7 122.4 1362.1 122.2 1362.6 122.6 1363.1 122.1 1363.6 122.4 1364.0 122.4 1364.5 122.4 1365.0 122.0 1365.4 122.4 1365.9 122.1 1366.4 122.6 1366.9 122.4 1367.3 122.5 1367.8 122.6 1368.3 122.6 1368.8 122.6 1369.2 122.4 1369.7 122.5 1370.2 122.2 1370.7 122.5 1371.1 122.5 1371.6 122.3 1372.1 122.2 1372.5 122.5 1373.0 122.5 1373.5 122.6 1374.0 122.6 1374.4 122.4 1374.9 122.6 1375.4 122.3 1375.9 122.1 1376.3 122.0 1376.8 122.4 1377.3 122.1 1377.8 122.5 1378.2 122.5 1378.7 122.4 1379.2 122.6 1379.6 122.5 1380.1 122.6 1380.6 122.5 1381.1 122.3 1381.5 122.3 1382.0 122.4 1382.5 122.1 1383.0 122.5 1383.4 122.5 1383.9 122.5 1384.4 122.3 1384.9 122.2 1385.3 122.4 1385.8 122.3 1386.3 122.6 1386.7 122.5 1387.2 122.7 1387.7 122.4 1388.2 122.5 1388.6 122.3 1389.1 122.3 1389.6 122.6 1390.1 122.3 1390.5 122.5 1391.0 122.6 1391.5 122.6 1392.0 122.1 1392.4 122.4 1392.9 122.4 1393.4 122.4 1393.8 122.2 1394.3 122.6 1394.8 122.4 1395.3 122.6 1395.7 122.4 1396.2 122.6 1396.7 122.2 1397.2 122.5 1397.6 122.3 1398.1 122.6 1398.6 122.5 1399.1 122.6 1399.5 122.3 1400.0 122.0 1400.5 122.6 1401.0 122.6 1401.4 122.6 1401.9 122.6 1402.4 122.6 1402.8 122.6 1403.3 122.6 1403.8 122.3 1404.3 122.5 1404.7 122.6 1405.2 122.4 1405.7 122.5 1406.2 122.6 1406.6 122.1 1407.1 122.5 1407.6 122.6 1408.1 122.5 1408.5 122.6 1409.0 122.4 1409.5 122.5 1409.9 122.4 1410.4 122.1 1410.9 122.6 1411.4 122.4 1411.8 122.5 1412.3 122.6 1412.8 122.3 1413.3 122.4 1413.7 122.4 1414.2 122.6 1414.7 122.3 1415.2 122.5 1415.6 122.6 1416.1 122.6 1416.6 122.5 1417.0 122.3 1417.5 121.9 1418.0 122.4 1418.5 122.2 1418.9 122.5 1419.4 122.3 1419.9 122.4 1420.4 122.5 1420.8 122.6 1421.3 122.7 1421.8 122.2 1422.3 122.6 1422.7 122.6 1423.2 122.3 1423.7 122.4 1424.1 122.2 1424.6 122.3 1425.1 122.5 1425.6 122.5 1426.0 122.5 1426.5 122.4 1427.0 122.6 1427.5 122.7 1427.9 122.4 1428.4 122.6 1428.9 122.6 1429.4 122.6 1429.8 122.4 1430.3 121.8 1430.8 122.4 1431.3 122.4 1431.7 122.4 1432.2 122.3 1432.7 122.5 1433.1 122.3 1433.6 122.4 1434.1 122.7 1434.6 122.6 1435.0 122.6 1435.5 122.4 1436.0 122.4 1436.5 122.0 1436.9 122.6 1437.4 122.5 1437.9 122.6 1438.4 122.4 1438.8 122.6 1439.3 122.5 1439.8 122.3 1440.2 122.5 1440.7 122.6 1441.2 122.2 1441.7 122.4 1442.1 122.4 1442.6 122.6 1443.1 122.6 1443.6 122.7 1444.0 122.6 1444.5 122.4 1445.0 122.6 1445.5 122.5 1445.9 122.2 1446.4 122.6 1446.9 122.2 1447.3 122.6 1447.8 122.6 1448.3 122.3 1448.8 122.6 1449.2 122.6 1449.7 122.1 1450.2 122.5 1450.7 122.1 1451.1 122.6 1451.6 122.6 1452.1 122.6 1452.6 122.6 1453.0 122.5 1453.5 122.5 1454.0 122.6 1454.4 122.4 1454.9 122.6 1455.4 122.2 1455.9 122.2 1456.3 122.5 1456.8 122.4 1457.3 122.5 1457.8 122.0 1458.2 122.6 1458.7 122.4 1459.2 122.1 1459.7 122.4 1460.1 122.3 1460.6 122.0 1461.1 122.5 1461.5 122.5 1462.0 122.6 1462.5 121.9 1463.0 122.6 1463.4 122.7 1463.9 122.6 1464.4 122.6 1464.9 122.4 1465.3 122.6 1465.8 122.4 1466.3 122.6 1466.8 122.3 1467.2 122.3 1467.7 122.4 1468.2 122.6 1468.7 122.6 1469.1 122.6 1469.6 122.4 1470.1 122.6 1470.5 122.5 1471.0 122.6 1471.5 122.5 1472.0 122.2 1472.4 122.4 1472.9 122.2 1473.4 122.4 1473.9 122.5 1474.3 122.6 1474.8 122.2 1475.3 122.6 1475.8 122.4 1476.2 122.6 1476.7 122.6 1477.2 122.3 1477.6 122.3 1478.1 122.5 1478.6 122.6 1479.1 122.7 1479.5 122.4 1480.0 122.5 1480.5 122.5 1481.0 122.5 1481.4 122.5 1481.9 122.6 1482.4 122.6 1482.9 122.2 1483.3 122.4 1483.8 122.6 1484.3 122.3 1484.7 122.4 1485.2 122.4 1485.7 122.2 1486.2 122.5 1486.6 122.3 1487.1 122.2 1487.6 122.3 1488.1 122.4 1488.5 122.0 1489.0 122.4 1489.5 122.5 1490.0 122.6 1490.4 122.5 1490.9 122.4 1491.4 122.3 1491.8 122.5 1492.3 122.6 1492.8 122.6 1493.3 122.5 1493.7 122.3 1494.2 122.4 1494.7 122.6 1495.2 122.6 1495.6 122.6 1496.1 122.4 1496.6 122.4 1497.1 122.1 1497.5 122.6 1498.0 122.4 1498.5 122.6 1498.9 122.5 1499.4 122.5 1499.9 122.5 1500.4 122.6 1500.8 122.4 1501.3 122.4 1501.8 122.6 1502.3 122.3 1502.7 122.3 1503.2 122.3 1503.7 122.6 1504.2 122.6 1504.6 122.6 1505.1 122.5 1505.6 122.7 1506.1 122.6 1506.5 122.6 1507.0 122.3 1507.5 122.4 1507.9 122.5 1508.4 122.5 1508.9 122.5 1509.4 122.5 1509.8 122.6 1510.3 122.5 1510.8 122.4 1511.3 122.5 1511.7 122.3 1512.2 122.6 1512.7 122.5 1513.2 122.5 1513.6 122.6 1514.1 122.6 1514.6 122.5 1515.0 122.1 1515.5 122.4 1516.0 122.6 1516.5 122.6 1516.9 122.5 1517.4 122.6 1517.9 122.6 1518.4 122.7 1518.8 122.4 1519.3 122.6 1519.8 122.5 1520.3 122.5 1520.7 122.5 1521.2 122.6 1521.7 122.3 1522.1 122.6 1522.6 122.5 1523.1 122.5 1523.6 122.7 1524.0 122.5 1524.5 122.6 1525.0 122.2 1525.5 122.6 1525.9 122.6 1526.4 122.6 1526.9 122.2 1527.4 122.3 1527.8 122.5 1528.3 122.6 1528.8 122.3 1529.2 122.7 1529.7 122.6 1530.2 122.4 1530.7 122.6 1531.1 122.3 1531.6 122.4 1532.1 122.6 1532.6 122.5 1533.0 122.5 1533.5 122.4 1534.0 122.4 1534.5 122.7 1534.9 122.6 1535.4 122.4 1535.9 122.6 1536.4 122.4 1536.8 122.3 1537.3 122.6 1537.8 122.5 1538.2 122.6 1538.7 122.5 1539.2 122.6 1539.7 122.4 1540.1 122.6 1540.6 122.6 1541.1 122.5 1541.6 122.7 1542.0 122.4 1542.5 122.6 1543.0 122.6 1543.5 122.5 1543.9 122.5 1544.4 122.3 1544.9 122.5 1545.3 122.4 1545.8 122.3 1546.3 122.6 1546.8 122.4 1547.2 122.2 1547.7 122.5 1548.2 122.6 1548.7 122.4 1549.1 122.3 1549.6 122.6 1550.1 122.6 1550.6 122.6 1551.0 122.6 1551.5 122.5 1552.0 122.5 1552.4 122.4 1552.9 122.6 1553.4 122.6 1553.9 122.4 1554.3 122.6 1554.8 122.4 1555.3 122.6 1555.8 122.1 1556.2 122.7 1556.7 122.7 1557.2 122.7 1557.7 122.6 1558.1 122.1 1558.6 122.6 1559.1 122.5 1559.5 122.6 1560.0 122.5 1560.5 122.5 1561.0 122.5 1561.4 122.5 1561.9 122.6 1562.4 122.6 1562.9 122.5 1563.3 122.6 1563.8 122.5 1564.3 122.4 1564.8 122.3 1565.2 122.6 1565.7 122.7 1566.2 122.3 1566.6 122.6 1567.1 122.6 1567.6 122.6 1568.1 122.6 1568.5 122.5 1569.0 122.6 1569.5 122.6 1570.0 122.3 1570.4 122.3 1570.9 122.4 1571.4 122.5 1571.9 122.5 1572.3 122.5 1572.8 122.6 1573.3 122.5 1573.8 122.7 1574.2 122.5 1574.7 122.7 1575.2 122.6 1575.6 122.5 1576.1 122.4 1576.6 122.6 1577.1 122.5 1577.5 122.6 1578.0 122.4 1578.5 122.5 1579.0 122.4 1579.4 122.5 1579.9 122.4 1580.4 122.5 1580.9 122.2 1581.3 122.5 1581.8 122.6 1582.3 122.6 1582.7 122.6 1583.2 122.3 1583.7 122.6 1584.2 122.7 1584.6 122.5 1585.1 122.5 1585.6 122.6 1586.1 122.3 1586.5 122.6 1587.0 122.5 1587.5 122.6 1588.0 122.7 1588.4 122.6 1588.9 122.5 1589.4 122.6 1589.8 122.5 1590.3 122.4 1590.8 122.6 1591.3 122.5 1591.7 122.5 1592.2 122.5 1592.7 122.6 1593.2 122.6 1593.6 122.4 1594.1 122.6 1594.6 122.6 1595.1 122.7 1595.5 122.3 1596.0 122.5 1596.5 122.7 1596.9 122.4 1597.4 122.5 1597.9 122.4 1598.4 122.5 1598.8 122.6 1599.3 122.6 1599.8 122.6 1600.3 122.6 1600.7 122.4 1601.2 122.6 1601.7 122.4 1602.2 122.4 1602.6 122.5 1603.1 122.7 1603.6 122.6 1604.0 122.7 1604.5 122.6 1605.0 122.6 1605.5 122.6 1605.9 122.6 1606.4 122.4 1606.9 122.5 1607.4 122.6 1607.8 122.6 1608.3 122.6 1608.8 122.3 1609.3 122.6 1609.7 122.6 1610.2 122.6 1610.7 122.5 1611.2 122.3 1611.6 122.5 1612.1 122.6 1612.6 122.6 1613.0 122.5 1613.5 122.6 1614.0 122.5 1614.5 122.7 1614.9 122.4 1615.4 122.4 1615.9 122.5 1616.4 122.6 1616.8 122.4 1617.3 122.4 1617.8 122.6 1618.3 122.5 1618.7 122.1 1619.2 122.6 1619.7 122.4 1620.1 122.5 1620.6 122.6 1621.1 122.5 1621.6 122.7 1622.0 122.6 1622.5 122.5 1623.0 122.5 1623.5 122.6 1623.9 122.5 1624.4 122.4 1624.9 122.4 1625.4 122.4 1625.8 122.3 1626.3 122.6 1626.8 122.5 1627.2 122.6 1627.7 122.7 1628.2 122.5 1628.7 122.6 1629.1 122.7 1629.6 122.4 1630.1 122.4 1630.6 122.6 1631.0 122.6 1631.5 122.7 1632.0 122.6 1632.5 122.6 1632.9 122.7 1633.4 122.6 1633.9 122.7 1634.3 122.6 1634.8 122.6 1635.3 122.5 1635.8 122.6 1636.2 122.5 1636.7 122.5 1637.2 122.6 1637.7 122.6 1638.1 122.4 1638.6 122.6 1639.1 122.4 1639.6 122.6 1640.0 122.6 1640.5 122.6 1641.0 122.6 1641.4 122.5 1641.9 122.7 1642.4 122.6 1642.9 122.4 1643.3 122.6 1643.8 122.6 1644.3 122.6 1644.8 122.6 1645.2 122.5 1645.7 122.6 1646.2 122.6 1646.7 122.5 1647.1 122.7 1647.6 122.6 1648.1 122.6 1648.6 122.7 1649.0 122.4 1649.5 122.5 1650.0 122.6 1650.4 122.4 1650.9 122.6 1651.4 122.6 1651.9 122.5 1652.3 122.6 1652.8 122.7 1653.3 122.5 1653.8 122.6 1654.2 122.6 1654.7 122.6 1655.2 122.6 1655.7 122.6 1656.1 122.6 1656.6 122.7 1657.1 122.6 1657.5 122.4 1658.0 122.4 1658.5 122.6 1659.0 122.7 1659.4 122.3 1659.9 122.4 1660.4 122.5 1660.9 122.6 1661.3 122.6 1661.8 122.5 1662.3 122.5 1662.8 122.3 1663.2 122.4 1663.7 122.7 1664.2 122.5 1664.6 122.5 1665.1 122.4 1665.6 122.6 1666.1 122.5 1666.5 122.5 1667.0 122.4 1667.5 122.5 1668.0 122.7 1668.4 122.6 1668.9 122.6 1669.4 122.6 1669.9 122.4 1670.3 122.7 1670.8 122.6 1671.3 122.7 1671.7 122.5 1672.2 122.5 1672.7 122.6 1673.2 122.5 1673.6 122.4 1674.1 122.5 1674.6 122.6 1675.1 122.4 1675.5 122.6 1676.0 122.6 1676.5 122.6 1677.0 122.6 1677.4 122.6 1677.9 122.4 1678.4 122.5 1678.9 122.4 1679.3 122.6 1679.8 122.5 1680.3 122.6 1680.7 122.6 1681.2 122.4 1681.7 122.6 1682.2 122.5 1682.6 122.6 1683.1 122.6 1683.6 122.3 1684.1 122.5 1684.5 122.5 1685.0 122.4 1685.5 122.7 1686.0 122.5 1686.4 122.5 1686.9 122.6 1687.4 122.6 1687.8 122.6 1688.3 122.5 1688.8 122.7 1689.3 122.7 1689.7 122.5 1690.2 122.6 1690.7 122.7 1691.2 122.4 1691.6 122.5 1692.1 122.6 1692.6 122.6 1693.1 122.6 1693.5 122.6 1694.0 122.7 1694.5 122.3 1694.9 122.6 1695.4 122.6 1695.9 122.4 1696.4 122.5 1696.8 122.4 1697.3 122.6 1697.8 122.5 1698.3 122.6 1698.7 122.6 1699.2 122.6 1699.7 122.6 1700.2 122.4 1700.6 122.4 1701.1 122.6 1701.6 122.6 1702.0 122.5 1702.5 122.6 1703.0 122.6 1703.5 122.5 1703.9 122.7 1704.4 122.4 1704.9 122.7 1705.4 122.4 1705.8 122.6 1706.3 122.5 1706.8 122.5 1707.3 122.6 1707.7 122.6 1708.2 122.6 1708.7 122.6 1709.1 122.6 1709.6 122.6 1710.1 122.6 1710.6 122.6 1711.0 122.4 1711.5 122.4 1712.0 122.5 1712.5 122.6 1712.9 122.4 1713.4 122.5 1713.9 122.5 1714.4 122.2 1714.8 122.5 1715.3 122.4 1715.8 122.3 1716.3 122.4 1716.7 122.4 1717.2 122.2 1717.7 122.2 1718.1 122.3 1718.6 122.3 1719.1 122.1 1719.6 122.1 1720.0 122.1 1720.5 122.2 1721.0 122.2 1721.5 122.2 1721.9 122.2 1722.4 122.2 1722.9 122.2 1723.4 122.3 1723.8 122.2 1724.3 122.2 1724.8 122.2 1725.2 122.4 1725.7 122.3 1726.2 122.4 1726.7 122.3 1727.1 122.2 1727.6 122.3 1728.1 122.5 1728.6 122.4 1729.0 122.5 1729.5 122.6 1730.0 122.6 1730.5 122.6 1730.9 122.6 1731.4 122.6 1731.9 122.4 1732.3 122.6 1732.8 122.6 1733.3 122.4 1733.8 122.6 1734.2 122.7 1734.7 122.5 1735.2 122.6 1735.7 122.7 1736.1 122.6 1736.6 122.5 1737.1 122.7 1737.6 122.4 1738.0 122.4 1738.5 122.5 1739.0 122.6 1739.4 122.6 1739.9 122.6 1740.4 122.4 1740.9 122.6 1741.3 122.6 1741.8 122.6 1742.3 122.6 1742.8 122.5 1743.2 122.6 1743.7 122.5 1744.2 122.5 1744.7 122.5 1745.1 122.5 1745.6 122.6 1746.1 122.7 1746.5 122.3 1747.0 122.5 1747.5 122.6 1748.0 122.4 1748.4 122.4 1748.9 122.4 1749.4 122.5 1749.9 122.4 1750.3 122.6 1750.8 122.3 1751.3 122.5 1751.8 122.6 1752.2 122.6 1752.7 122.6 1753.2 122.6 1753.7 122.5 1754.1 122.6 1754.6 122.4 1755.1 122.5 1755.5 122.6 1756.0 122.5 1756.5 122.6 1757.0 122.6 1757.4 122.6 1757.9 122.3 1758.4 122.5 1758.9 122.6 1759.3 122.6 1759.8 122.5 1760.3 122.7 1760.8 122.5 1761.2 122.6 1761.7 122.6 1762.2 122.6 1762.6 122.5 1763.1 122.6 1763.6 122.6 1764.1 122.6 1764.5 122.5 1765.0 122.4 1765.5 122.6 1766.0 122.6" fill="none" stroke="#838383" stroke-width="1.70" stroke-linejoin="round"/>
<path d="M1145.3 122.7 1145.8 122.4 1146.3 122.1 1146.7 122.5 1147.2 122.2 1147.5 121.3 1147.7 118.3 1147.7 117.3 1147.8 109.8 1148.0 91.0 1148.1 68.0 1148.2 64.0 1148.3 38.2 1148.5 26.2 1148.6 32.7 1148.7 38.5 1148.8 64.2 1149.0 91.2 1149.1 102.3 1149.2 109.3 1149.3 118.1 1149.5 121.5 1149.6 121.1 1150.0 121.8 1150.5 122.2 1151.0 122.5 1151.5 122.1Z" fill="#838383"/>
<rect x="1021.20" y="20.70" width="780.30" height="107.20" fill="none" stroke="#000" stroke-width="2.00"/>
<path d="M1056.30 127.90v-6.60M1056.30 20.70v6.60M1474.00 127.90v-6.60M1474.00 20.70v6.60" stroke="#000" stroke-width="1.90" fill="none"/>
<path d="M1037.19 127.90v-3.80M1182.04 127.90v-3.80M1255.59 127.90v-3.80M1307.78 127.90v-3.80M1348.26 127.90v-3.80M1381.33 127.90v-3.80M1409.30 127.90v-3.80M1433.52 127.90v-3.80M1454.89 127.90v-3.80M1599.74 127.90v-3.80M1673.29 127.90v-3.80M1725.48 127.90v-3.80M1765.96 127.90v-3.80M1799.03 127.90v-3.80" stroke="#000" stroke-width="1.80" fill="none"/>
<text x="1056.00" y="147.60" text-anchor="middle" font-size="18.30">10<tspan dy="-10.4" font-size="12.08"><tspan class="m">−</tspan>1</tspan></text>
<text x="1473.70" y="147.60" text-anchor="middle" font-size="18.30">10<tspan dy="-10.4" font-size="12.08">0</tspan></text>
<path d="M1021.20 122.80h6.60M1801.50 122.80h-6.60M1021.20 68.90h6.60M1801.50 68.90h-6.60" stroke="#000" stroke-width="1.90" fill="none"/>
<text x="1017.30" y="129.70" text-anchor="end" font-size="18.30">0.0</text>
<text x="1017.30" y="75.80" text-anchor="end" font-size="18.30">0.5</text>
<text x="1411.35" y="168.10" text-anchor="middle" font-size="18.20">Period (days)</text>
<text transform="translate(988.30 74.30) rotate(-90)" text-anchor="middle" font-size="18.20">L-S power</text>
<text x="1411.35" y="14.90" text-anchor="middle" font-size="22.00">J150743.92+560947.8</text>
<rect x="56.05" y="181.00" width="129.84" height="268.00" fill="#e5e5e5"/>
<rect x="705.26" y="181.00" width="129.84" height="268.00" fill="#e5e5e5"/>
<clipPath id="cL2"><rect x="56.05" y="181.00" width="779.05" height="268.00"/></clipPath>
<g clip-path="url(#cL2)">
<g class="d e" stroke-opacity="0.72"><path d="M105.4 359.8h0M130.6 328h0M180.6 300.5h0M85.7 350.7h0M115.5 311.5h0M144.6 336.1h0M170.3 308.1h0M165.5 291.1h0M119.6 300.2h0M158.8 302.9h0M181.7 291h0M62.9 346.7h0M65.5 357.3h0M148.5 322.3h0M55.2 358.7h0" stroke="#5eaec9"/><path d="M105.2 362h0M113.1 363.2h0M143.4 329.3h0M157.3 319.3h0M146.3 327.9h0M51.8 333h0M78.1 340.1h0M95.4 357.1h0M138.7 337.4h0M89.8 344h0M142 333.4h0M181 289.7h0" stroke="#006b0d"/><path d="M171.1 313.4h0" stroke="#002f36"/><path d="M154.8 324.6h0M78.4 280.3h0M59.5 340.4h0M142.4 320.9h0M94.4 354.3h0M56.7 335.8h0M59.4 340.6h0M87.5 366.4h0M83 357.2h0M50.2 326.3h0M84.4 345.8h0M88 366.9h0" stroke="#369abc"/><path d="M184.5 283.1h0M91.8 351.3h0M89.9 351.6h0M82.9 377.8h0M51.1 341.4h0M83.1 363.1h0M77.2 359.8h0M165.2 294.4h0M161.7 307.9h0M63.7 339.9h0M181.5 297.2h0M141.4 332.7h0M153.7 320.9h0M56.2 347.6h0" stroke="#00571b"/><path d="M154.3 313.9h0M120.2 357.1h0M144.1 321.6h0M81.8 366.3h0M69.8 357.8h0M83.2 347h0M157.7 309h0M97.9 378.2h0M80.7 354.2h0" stroke="#004a86"/><path d="M78.4 354.2h0" stroke="#000751"/><path d="M58.9 343.8h0M119 349.9h0M61 344h0M145.8 323.4h0M86.3 373.1h0M90.8 362.2h0M146 343.6h0M96.6 362.1h0M154.3 313.1h0" stroke="#008000"/><path d="M57.6 326.3h0M70.1 355.9h0M90.8 353.9h0M167.9 299.9h0M98.1 361.9h0M61.8 354.4h0M63.3 348.3h0M142.1 325.3h0M160.2 332.7h0M171.7 308.8h0M143.3 347.1h0M166.6 292.5h0" stroke="#004328"/><path d="M107.3 334.1h0M74.4 338.2h0M126 344.5h0M183.5 285h0M156.7 255.6h0M174.9 320.2h0M129.7 352.1h0M125.6 363h0M96.3 357.9h0M155 278.2h0" stroke="#86c3d7"/><path d="M108.8 344.5h0M125.7 334.7h0M104.4 360.6h0M183.6 294.2h0M164.3 316h0M119.1 351.8h0" stroke="#aed7e4"/><path d="M145.7 322h0M170.2 307.9h0M102.9 350h0M83.9 365.2h0M150.6 333.7h0M136.9 323h0M58.1 323.4h0M127.3 350.8h0M95.2 369.6h0M67.6 336.2h0M91.3 363.6h0M132.5 354.6h0M100.2 359h0M128.3 344h0M153 301.7h0M91.1 364.6h0M60.7 292.3h0M180.2 307h0" stroke="#0072a1"/><path d="M123.7 330.3h0M116.6 344.8h0M155.6 306.1h0M113.4 352.2h0" stroke="#001b43"/><path d="M106.2 358.3h0M89.9 356.4h0M185.4 290h0M53.1 339.3h0M64 369.2h0M160 322.7h0" stroke="#d7ebf2"/><path d="M148.4 327.3h0M54.4 294.4h0M120.5 341.6h0M88.6 369.6h0M144.1 303.4h0M99.1 347.4h0" stroke="#0d86ae"/><path d="M165.8 302.5h0M122.4 346.4h0M132.8 341.8h0M80.5 364.1h0M184.2 258.7h0M64.8 338.3h0M156.2 295.5h0M166 328h0M115.9 360.5h0M120.2 373.4h0" stroke="#005e94"/><path d="M114.6 353.9h0M88.7 355.2h0M83.8 370.2h0M169.6 292h0M61.4 348.4h0M66 352.5h0M121.6 358.3h0M52.3 361.8h0M133.2 335.1h0M75.2 362.3h0M84.4 342.1h0M65.2 350.3h0M152.4 309.3h0M97.6 341.4h0M83.5 368.7h0M229.9 248.3h0M201.6 277.2h0" stroke="#006b0d"/><path d="M53.7 331.1h0" stroke="#ffffff"/><path d="M130.3 344.2h0M153.9 339.2h0M168.8 291.4h0M72.4 364.8h0M61.7 333.9h0M116.9 332.1h0M142.9 320.5h0M136 354.9h0M67.4 350.3h0M160.4 302.4h0M132.2 345.7h0M110.1 352.2h0M74.9 308.2h0M541.9 308.9h0M259.9 286.5h0M667.8 327.3h0" stroke="#0d86ae"/><path d="M90.5 360.1h0M135.4 301.1h0M57.5 344h0M624.8 359.8h0M293 297.2h0M427.8 308.8h0" stroke="#5eaec9"/><path d="M97.9 351.5h0M61.3 350.7h0M80.5 355.3h0M95.9 349.6h0M119.8 361.4h0M179.6 282.8h0M175.7 278.5h0M56.2 347.8h0M81.8 360.5h0M124 342.4h0M141.7 321.5h0M114.4 344.9h0M390.6 348.1h0M313.1 335.6h0M503.1 283.6h0M223.9 270.1h0M516.2 279h0M487.5 278.2h0M471.9 274.8h0M534.8 298.3h0M577 326.3h0" stroke="#004328"/><path d="M161 300.9h0M113.4 356.1h0M169.2 294.1h0M73.3 352.9h0M56.3 336.8h0M137.3 332.2h0M151.3 300.3h0M132.2 345h0M56.4 352h0M218.3 258.5h0M703.8 283.1h0M391.6 343.6h0M432.3 314.1h0M357 371.5h0M258.4 280h0M324.5 350.8h0M264.3 274.1h0" stroke="#00571b"/><path d="M146.3 324.5h0M147.9 332.6h0M158.9 302.9h0M166.2 312.5h0M106.5 355.6h0M79.9 357.6h0M59.9 349.5h0" stroke="#004a86"/><path d="M60.1 337.1h0M139.3 341.7h0M256.4 273.1h0M578.3 343.8h0M381.5 348.8h0" stroke="#008000"/><path d="M58.6 346.2h0M107.5 382.7h0M157.2 314.2h0M135.4 339.5h0M176.6 311.6h0M78.2 355.2h0M533.7 279.2h0" stroke="#aed7e4"/><path d="M161.8 315.8h0M58.9 347.2h0M85.2 349h0M66 364.9h0M57.2 352.2h0M124.9 347h0M685.2 302.5h0M291.3 320.3h0M539.8 278.7h0" stroke="#005e94"/><path d="M145.2 337.8h0M69.4 352.1h0M125.9 336h0M109.8 355.5h0M177.5 228.7h0M182.2 303.3h0M66.7 346h0M539.3 305.8h0M324 340.6h0" stroke="#86c3d7"/><path d="M122.6 345.9h0M61.6 349.3h0M128.1 331.3h0M107.8 349.3h0M105 352.5h0M140.9 344.4h0M58.7 338.9h0M625.6 358.3h0M205.7 268.4h0M377.5 336.2h0" stroke="#d7ebf2"/><path d="M141.8 323.1h0M97.1 359.7h0M126.8 337.8h0M182.7 224.9h0M117 368.7h0M529.3 311.3h0M396.8 314.1h0M665 322h0" stroke="#0072a1"/><path d="M59.4 359.5h0M122.9 351.4h0M93 354.8h0M107.3 329.4h0M175.3 316.3h0M161.2 315.3h0M60 361.1h0M65.4 341.8h0M433.4 304h0M258.8 261.6h0M674.2 324.6h0M310.3 341.1h0" stroke="#369abc"/><path d="M348.3 374.8h0M554.4 319.1h0M486.8 263.5h0M489 261.1h0M597.8 280.3h0M538.2 226.3h0M578.9 340.4h0" stroke="#369abc"/><path d="M269.8 300.4h0M628.1 344.5h0M221 263.5h0M271.8 299h0" stroke="#aed7e4"/><path d="M503.5 261.6h0M641.7 346.4h0M391.4 357.4h0M212.2 263.7h0M272 299.8h0M395.2 359.8h0M380.5 337.2h0M652.1 341.8h0M472.4 266.4h0M497.7 278.2h0M503.7 272h0M211.6 278.6h0M599.9 364.1h0M273 285.7h0" stroke="#005e94"/><path d="M360.3 369h0M565 338.4h0M219.2 254.8h0M643.1 330.3h0" stroke="#001b43"/><path d="M381.3 353.3h0M624.6 362h0M348.1 356.5h0M632.5 363.2h0M359 368.3h0M358.8 363.2h0M257.6 290.1h0M291.4 320.1h0M456.6 289.4h0M550.9 298.6h0M199.1 274h0M478.2 274.3h0M359.9 370.3h0M662.8 329.3h0M339.8 378.9h0" stroke="#006b0d"/><path d="M449.6 286.1h0M337.9 369h0M399.4 332.9h0M246.5 270.4h0M362.5 361.4h0M467.6 270h0M673.7 313.9h0M444.2 296h0M639.5 357.1h0M350.3 360.8h0" stroke="#004a86"/><path d="M638.4 349.9h0M195.6 263.4h0M266.8 279.1h0M391.1 336.9h0M580.3 344h0M281.5 309.8h0M665.1 323.4h0M307.3 331h0M387.2 351.7h0M605.6 373.1h0M610.1 362.2h0" stroke="#008000"/><path d="M259.5 289.2h0M350.1 342.8h0M573.8 294.4h0M455.5 283.5h0M504.1 260.9h0M270.2 288.1h0M233.4 264.7h0M233.6 283.1h0M639.9 341.6h0" stroke="#0d86ae"/><path d="M560.1 317.2h0M196.4 255.3h0M609.3 356.4h0M297.2 348.7h0M704.8 290h0M266 282.5h0M247 279.6h0" stroke="#d7ebf2"/><path d="M330.5 353.5h0M187.6 298.3h0M442.7 326.2h0M453.3 273.8h0M351.1 373.8h0M338 369.5h0M589.5 355.9h0M315 344.8h0M610.2 353.9h0M407.5 323.7h0M687.3 299.9h0M220.9 268.1h0M617.5 361.9h0" stroke="#004328"/><path d="M220.5 255.7h0M597.8 354.2h0" stroke="#000751"/><path d="M649.9 328h0M428.7 242h0M700 300.5h0M605 350.7h0" stroke="#5eaec9"/><path d="M458.1 295.4h0M626.7 334.1h0M332.3 351.1h0M593.7 338.2h0M512.7 299.7h0M285.8 316.7h0M645.4 344.5h0M210.1 263.5h0" stroke="#86c3d7"/><path d="M297.7 323.5h0M499.5 274.2h0" stroke="#00226b"/><path d="M475.6 193.7h0M689.5 307.9h0M622.2 350h0M299.9 333.9h0M427.8 286h0M361.5 368.9h0M603.3 365.2h0M670 333.7h0M656.3 323h0M423.8 318.2h0M533 295.8h0M577.5 323.4h0M353.7 357.4h0M646.6 350.8h0M614.5 369.6h0M330.5 352.9h0M341.9 377.3h0" stroke="#0072a1"/><path d="M440.9 286.6h0M203.5 262h0M213.1 261.4h0" stroke="#003679"/><path d="M611.2 351.3h0M496.6 274h0M336.1 372.6h0M249.7 258.6h0M609.3 351.6h0M334.7 363.8h0M602.2 377.8h0M570.4 341.4h0M602.4 363.1h0M272.1 301.5h0M596.6 359.8h0M552.9 317.3h0M288.6 324.9h0M298.7 349.6h0M684.5 294.4h0" stroke="#00571b"/><path d="M343.7 370.7h0M228.2 278.3h0M200.4 272.6h0M203.6 281.2h0" stroke="#004a86"/><path d="M581.2 354.4h0M220.4 254.4h0M202.7 265.2h0M582.7 348.3h0M344.6 356.9h0M332.8 362.1h0M318.8 349.8h0M661.4 325.3h0M565.4 317.7h0M468.9 273.7h0M414.6 336.4h0M438.8 283.1h0M386.4 341.4h0M208.7 279.2h0M679.6 332.7h0M428.9 301.3h0M258.5 283.5h0" stroke="#004328"/><path d="M227.5 272.6h0" stroke="#00226b"/><path d="M281.6 310.4h0M220.7 271.5h0M492.3 287.8h0M238.4 273h0M676.7 319.3h0M665.7 327.9h0M288.7 325.2h0M566.5 329.1h0M479.1 273.3h0M571.1 333h0M597.5 340.1h0M411.7 341.3h0M614.8 357.1h0" stroke="#006b0d"/><path d="M452.9 289.9h0M335.5 343.6h0M572.5 339.3h0" stroke="#d7ebf2"/><path d="M645 334.7h0M623.7 360.6h0M538.3 287.8h0M317.4 334.5h0M538.1 292.1h0M256.7 279.4h0M702.9 294.2h0M204.4 273.1h0M422.1 310.2h0" stroke="#aed7e4"/><path d="M586.9 336.2h0M464.3 258.6h0M610.7 363.6h0M379.8 353.6h0M383 365h0M533.8 291.4h0M246.3 287.6h0M651.9 354.6h0M244.3 253.4h0M327 279.3h0M457.9 262.4h0" stroke="#0072a1"/><path d="M487.9 259.6h0M264.2 298h0M484.7 278.9h0M417.7 328.5h0M203 277.5h0M475.9 275.1h0M379.2 376.3h0M665.4 343.6h0M616 362.1h0M514.1 266.5h0M673.7 313.1h0M560.9 336.5h0" stroke="#008000"/><path d="M324.9 341.6h0M703.6 258.7h0M584.2 338.3h0M537.2 278.9h0M353.7 373.7h0M369 325.2h0M201.7 275.6h0M520.2 288h0M675.5 295.5h0M685.4 328h0M635.3 360.5h0" stroke="#005e94"/><path d="M470.1 266.9h0M482.5 256h0M661.8 320.9h0M281.3 289.7h0M235.9 275h0M283.1 317h0M458.4 287.5h0M292.3 319.5h0M428.8 326.8h0M238.5 295h0M562.9 350.6h0M513.6 284.1h0M297.6 319.4h0M253 270.7h0M566.9 327.1h0M285.2 302.6h0M234.3 241.5h0" stroke="#369abc"/><path d="M492.5 274.7h0M291 282.1h0M634.9 311.5h0M383.6 334h0M254.3 285.7h0M664 336.1h0M478.7 271.8h0M689.6 308.1h0M431.8 298.6h0M513.6 272.4h0M287.5 314.6h0M513.5 222.8h0" stroke="#5eaec9"/><path d="M500.1 279.7h0M636 344.8h0M293.8 325.1h0M674.9 306.1h0" stroke="#001b43"/><path d="M382.3 331h0M239.4 283.3h0M379 345.4h0" stroke="#000d5e"/><path d="M681 307.9h0M355.8 356.4h0M316.3 355.8h0M244.4 275h0M540.6 299.5h0M398.3 344.1h0M583 339.9h0M700.8 297.2h0M262.8 292.1h0M483.1 279.7h0M457.7 285.2h0M428.2 325.2h0M510.5 277.4h0M660.8 332.7h0M254.6 275.7h0" stroke="#00571b"/><path d="M466.9 255.3h0M348.4 354.6h0M226.2 260.1h0M272.1 291h0M279.1 331.6h0M313.4 354.6h0M452.3 287h0M608 369.6h0M515.8 274.8h0" stroke="#0d86ae"/><path d="M399.6 348.1h0M245.6 249.5h0M423 333.8h0M702.8 285h0" stroke="#86c3d7"/><path d="M203.2 282.7h0" stroke="#000d5e"/><path d="M522 297.9h0M251.2 275.5h0M548.6 314.9h0M518.9 276.7h0M448.9 296.6h0M382.3 365.1h0M238 254.4h0M432.2 306.8h0M673 320.9h0M352.8 354.8h0M347.2 342.3h0" stroke="#00571b"/><path d="M317.2 348.6h0M658.1 337.4h0M296.2 334.2h0M387.2 328.9h0M444 292.5h0M523.9 290.7h0M221.6 287.1h0M410.7 326.9h0M245.3 268.3h0M259.2 278.1h0M609.2 344h0M661.4 333.4h0M700.4 289.7h0M397.1 356h0" stroke="#006b0d"/><path d="M325.7 370.3h0M216.7 273.5h0M639.6 373.4h0M222.5 262.3h0M206.5 280.8h0M508.4 263.8h0M552.8 299.3h0" stroke="#005e94"/><path d="M480.4 287.4h0M663.4 321.6h0M601.1 366.3h0M452.3 284.5h0M589.2 357.8h0M538 294.3h0M353.2 367.6h0M289 321.2h0M319 352.7h0M536 313h0M602.6 347h0M677.1 309h0M617.3 378.2h0M404.2 342.7h0M529.6 297.3h0M600.1 354.2h0" stroke="#004a86"/><path d="M553.5 310.8h0M583.3 369.2h0M472.8 283.2h0M238.1 261.4h0M679.3 322.7h0M388.3 331.1h0M203 285.3h0" stroke="#d7ebf2"/><path d="M302.9 328.4h0M683.6 316h0M470.5 289.1h0M328.3 354.3h0M421.1 312.1h0M267.3 282.3h0M380.8 348.6h0" stroke="#aed7e4"/><path d="M378.9 359.9h0" stroke="#002f36"/><path d="M613.8 354.3h0M563.6 327h0M225.3 265.3h0M576.1 335.8h0M578.8 340.6h0M327.7 349.9h0M606.9 366.4h0M602.3 357.2h0M418.3 325.1h0M569.6 326.3h0M537.9 288.3h0M265.6 237.8h0M603.7 345.8h0" stroke="#369abc"/><path d="M424.2 313.1h0M394.9 321.6h0" stroke="#000751"/><path d="M396.7 344.1h0M427.4 299h0M204.2 276.7h0M360.1 360h0M254 291.7h0M619.6 359h0M647.6 344h0M262.1 254.4h0M254.2 279.7h0M308.7 336.3h0M360.4 366.8h0M188.1 277.3h0M228.1 277.9h0M672.4 301.7h0M296.9 315.9h0M560.5 335.6h0M610.4 364.6h0" stroke="#0072a1"/><path d="M430.6 310.4h0M317.5 369.2h0M478.8 296.1h0M663.4 303.4h0M317.6 353.9h0M284.9 289.2h0M568.1 316.5h0M519.1 280.6h0M618.4 347.4h0M236.1 261.6h0" stroke="#0d86ae"/><path d="M314.4 343.3h0M528.3 285.9h0M338 363.1h0" stroke="#008000"/><path d="M199 263.3h0" stroke="#ffffff"/><path d="M632.8 352.2h0M413.3 317.8h0" stroke="#001b43"/><path d="M676.1 255.6h0M341.5 315h0M501.7 259h0M396.9 331.8h0M694.2 320.2h0M649.1 352.1h0M517.6 284.9h0M645 363h0M359.3 334.5h0M615.7 357.9h0" stroke="#86c3d7"/><path d="M684.9 291.1h0M639 300.2h0M193.9 308.5h0M678.2 302.9h0M475 246.6h0M274.8 293.3h0M701.1 291h0M582.3 346.7h0M440 326.3h0" stroke="#5eaec9"/><path d="M370.5 361.8h0M691.1 308.8h0M471.6 274.6h0M305.4 336.6h0M349.7 351.7h0M324.9 348.6h0M508.1 275h0M324.2 342.1h0M288.8 316.1h0M662.7 347.1h0M447.3 284.5h0M226.1 262h0M509 287.2h0M686 292.5h0" stroke="#004328"/><path d="M584.9 357.3h0M667.9 322.3h0M574.6 358.7h0M512.1 277.4h0M384.6 336.6h0" stroke="#5eaec9"/><path d="M476.3 271.6h0M255.3 270.9h0M354 356.1h0M206.5 269.7h0M266.1 297.5h0M486.6 258.1h0M681.1 315.8h0M351.1 366.4h0M427.8 298.8h0M364.5 356.7h0" stroke="#005e94"/><path d="M674.4 278.2h0M664.5 337.8h0M317.2 354.8h0M377.8 356.8h0M455.7 280.1h0M285 316.8h0M588.8 352.1h0M419.1 292.9h0" stroke="#86c3d7"/><path d="M527.6 297h0M281.3 301.9h0M203.8 284.5h0M642 345.9h0M542.5 316.3h0M560.7 317.4h0M201.9 265.4h0M241.5 267.8h0M381.6 367h0M282.8 302.9h0M581 349.3h0M647.5 331.3h0M314.4 339.6h0" stroke="#d7ebf2"/><path d="M349.6 366.1h0M490.7 273.8h0M634 353.9h0M422.2 323.8h0M481.8 266.2h0M253.2 288.9h0M608.1 355.2h0M427.3 294.7h0M484.5 281h0M411.9 326.7h0M603.2 370.2h0M225.9 277.3h0M352 367.5h0M688.9 292h0M276.1 286.6h0M265.5 302.2h0" stroke="#006b0d"/><path d="M607.4 366.9h0M289.9 339.6h0M447.5 285.7h0M387.1 346.6h0M402.5 277h0M578.8 359.5h0M228.4 250.3h0M429.6 316.3h0M642.3 351.4h0M550.5 270.7h0" stroke="#369abc"/><path d="M288.4 299.5h0M360.8 351.9h0M575.6 347.6h0M680.3 300.9h0M562 324.4h0M429.8 307.9h0M512.3 256.7h0M204.2 271.8h0M527.2 302.7h0M537.2 304.2h0M330.6 369.7h0M358.5 357.5h0M276.1 311.6h0M378.4 355h0M498.8 259.6h0" stroke="#00571b"/><path d="M638.4 351.8h0M252.8 273.3h0M261.4 302.6h0M404.4 321.1h0M380.2 364.3h0M315.5 331.2h0M470.3 276.1h0M187.8 295.4h0M416.7 323.2h0M578 346.2h0M455.3 270.9h0M626.9 382.7h0" stroke="#aed7e4"/><path d="M568.8 333.6h0M290.1 305.5h0M579.4 337.1h0M269.1 294.5h0M486.1 257.7h0M537.2 310.6h0M219.8 279.4h0M658.7 341.7h0M283.3 319.5h0M224.9 273.1h0M421.1 307.8h0" stroke="#008000"/><path d="M382.9 343.8h0M580.1 292.3h0M379.2 353.2h0M699.5 307h0M281.6 294.3h0M432.8 302.4h0M281.4 330.2h0M475.6 271.7h0M193.7 287.6h0M409.2 334.9h0M395.3 338.3h0M661.2 323.1h0" stroke="#0072a1"/><path d="M408.3 331.3h0M649.7 344.2h0M673.2 339.2h0M497.5 276h0M483.8 289.3h0M688.2 291.4h0M431.9 297.7h0M250.7 273.7h0M404.6 333.6h0M529.9 300.7h0" stroke="#0d86ae"/><path d="M553.2 325.7h0M418.2 306.2h0M233.4 266.4h0" stroke="#003679"/><path d="M285.9 321.7h0" stroke="#001b43"/><path d="M344.8 351.2h0M365.6 352.7h0" stroke="#000d5e"/><path d="M518.2 277.1h0M449.7 290.8h0M507.5 262.3h0M617.3 351.5h0M580.6 350.7h0M218 274.1h0M333.7 352.3h0" stroke="#004328"/><path d="M466.1 282h0M665.7 324.5h0M667.3 332.6h0M442.4 289h0M325.9 356.5h0M258.1 289h0M678.3 302.9h0" stroke="#004a86"/><path d="M690.5 313.4h0" stroke="#002f36"/><path d="M256.9 289.7h0M471.6 276.5h0" stroke="#00226b"/><path d="M559.7 330.4h0M531.1 300.1h0M495.8 254.5h0M373.5 344.8h0M550.7 314.9h0M260.9 242.4h0M193.3 284.2h0M348.8 367h0" stroke="#0072a1"/><path d="M520.6 278.5h0" stroke="#000751"/><path d="M333 365.2h0M277.5 294.2h0M599.9 355.3h0M615.3 349.6h0M639.2 361.4h0M518.1 285.8h0M319.4 360.5h0M699 282.8h0M516 276.4h0M299.7 322.3h0M695.1 278.5h0M545.3 293.4h0M575.6 347.8h0" stroke="#004328"/><path d="M395.9 341.3h0M428 300.9h0M215.4 263.2h0M364.7 353.4h0M429.3 306.4h0M421.8 317.1h0M192.5 296.5h0M387.1 341.9h0M512.9 270.2h0" stroke="#5eaec9"/><path d="M530.4 287.1h0M417 321.8h0M320 347.7h0M578.3 347.2h0M234 248.4h0M604.5 349h0M206.1 279.9h0" stroke="#005e94"/><path d="M192 275.9h0M627.2 349.3h0M457.7 299.3h0M512.5 258h0M624.4 352.5h0M556.5 314.7h0M660.3 344.4h0" stroke="#d7ebf2"/><path d="M676.6 314.2h0M199.3 303.2h0M565.5 337.1h0M291.1 296h0M253.5 281.2h0M654.8 339.5h0M275.7 307h0M696 311.6h0M450.7 301.8h0" stroke="#aed7e4"/><path d="M685.5 312.5h0M517.2 286.9h0M202.8 284.6h0M483.7 276.8h0M625.9 355.6h0M207.6 273h0" stroke="#004a86"/><path d="M471.8 269.8h0M230.8 272h0M547.3 321.8h0M580.8 348.4h0M464.4 270.7h0M585.4 352.5h0M538.2 308.6h0M469.4 259.7h0M641 358.3h0M562.4 322.8h0M506.4 296.2h0M266.5 280h0M255.1 270.7h0M571.7 361.8h0M188.6 286.2h0M357.9 370.1h0M326.7 346.5h0M423.9 326.8h0M519.2 271.8h0M548 341h0M652.6 335.1h0M356.2 355.3h0" stroke="#006b0d"/><path d="M366.7 358.5h0M482 274.8h0" stroke="#00226b"/><path d="M498.2 283.9h0M550.7 322.7h0" stroke="#008000"/><path d="M292.2 306.8h0M612.4 354.8h0M218.6 269.1h0M626.7 329.4h0M694.7 316.3h0M399.7 349.7h0M301.3 352.6h0M416.9 339.4h0" stroke="#369abc"/><path d="M241.2 263.8h0M556 316.3h0M415.1 331.4h0" stroke="#003679"/><path d="M645.2 336h0M629.2 355.5h0M402.8 341.1h0M257 291.2h0M456.9 268.3h0M520 273.1h0M411 333.5h0M413.2 326.3h0M383.8 336.4h0" stroke="#86c3d7"/><path d="M573.1 331.1h0M318.3 358.2h0M298.4 320.7h0M212.2 267.9h0" stroke="#ffffff"/><path d="M591.7 364.8h0M581.1 333.9h0M231.5 219.2h0M494.8 256.2h0M367.2 346.4h0M401.5 335h0M422.6 333.2h0M249.8 295.5h0M418.6 320.6h0M636.2 332.1h0M379.5 362.9h0M343.7 369h0M662.2 320.5h0M277.7 317.6h0M250 293.3h0M244.7 253.4h0" stroke="#0d86ae"/><path d="M632.7 356.1h0M374.5 358.9h0M534.8 282h0M494 264.3h0M250.8 289.9h0M253.8 294.9h0M396 348.9h0M399.3 332.3h0M492.5 262h0M486.9 273.8h0M323.5 353h0M409.6 322.5h0M516.2 278.8h0M688.5 294.1h0M592.7 352.9h0M575.6 336.8h0M236.2 266.7h0M656.6 332.2h0M279.7 303.8h0" stroke="#00571b"/><path d="M418.7 328.9h0" stroke="#002f36"/><path d="M526.8 299.4h0M555.1 314.8h0M465.5 266.4h0M303.5 321.5h0M330.2 359.4h0M459.6 286.7h0M560.3 329.2h0M514.8 277.9h0M208.9 278.3h0" stroke="#008000"/><path d="M655.4 354.9h0M529.8 295.9h0M548.6 256.2h0M586.8 350.3h0M284.9 326.4h0M679.8 302.4h0M453.9 291.6h0M651.5 345.7h0M294.5 332.3h0M629.4 352.2h0M271.6 297.3h0M502.5 273.6h0M237.1 199.6h0M467.2 272.7h0M594.3 308.2h0" stroke="#0d86ae"/><path d="M585.3 364.9h0M331.8 360.3h0M287.5 319.6h0M303.9 336.6h0M261.7 275h0M325.4 374.4h0" stroke="#005e94"/><path d="M229.7 249.8h0M384 370.5h0M599.3 357.6h0M347.4 370.1h0M579.3 349.5h0M244.7 252.2h0M381.8 354.8h0" stroke="#004a86"/><path d="M361.8 350.9h0M594.6 362.3h0M447.9 289.3h0M224 263.8h0M285.9 324.9h0M326.1 343.3h0M453.6 290.2h0M389.6 351.5h0M603.8 342.1h0M584.6 350.3h0M671.8 309.3h0M418.2 324.5h0M348.9 371.2h0M196.8 299.4h0M617 341.4h0M206.9 286h0M383.5 384.3h0M481.8 269.8h0M217.6 267.4h0" stroke="#006b0d"/><path d="M326.9 353.2h0M263.9 293.1h0M199.8 285.7h0M429.8 319.5h0M484.2 274.9h0M507.9 280.9h0M257.5 273.5h0M670.7 300.3h0M256.1 291.8h0M556.1 317.1h0M413.2 335.9h0M251.4 271.3h0M310.3 359.9h0M651.5 345h0M575.8 352h0M501.6 265.6h0M439.4 291.3h0M541 311.6h0M491.9 268.1h0M369.5 352.7h0M357.2 366h0" stroke="#00571b"/><path d="M616.4 359.7h0M504 293h0M646.2 337.8h0M702.1 224.9h0M494.8 278.8h0M358.1 345.5h0M563.9 313.6h0M449.1 300.3h0M636.3 368.7h0M553.8 324.3h0" stroke="#0072a1"/><path d="M403.5 357.4h0M434.8 321.3h0" stroke="#000d5e"/><path d="M342.6 365h0M392.7 339.8h0M190.8 275.7h0M403.9 342.6h0M188.6 284.2h0M488.5 268h0M473.4 268.1h0M542.3 308.1h0M207.9 266.1h0M313.7 348.2h0M601.1 360.5h0M516.8 280h0M643.4 342.4h0M270.5 282.5h0M199.6 266.5h0M324.1 355.1h0M661.1 321.5h0" stroke="#004328"/><path d="M423.5 314.5h0" stroke="#00226b"/><path d="M511.3 269.4h0M453.1 279.1h0M555.9 331.6h0M609.9 360.1h0M437.4 305h0M297.6 346.3h0M654.8 301.1h0M576.8 344h0" stroke="#5eaec9"/><path d="M531.8 289.6h0M261.1 245.4h0M281.2 300.8h0M215.3 292.8h0M222.3 241.7h0M405.5 335.9h0M502.4 253.1h0M680.5 315.3h0M579.4 361.1h0" stroke="#369abc"/><path d="M696.8 228.7h0M305.7 332.7h0M546.3 329.1h0M209 242.7h0M701.6 303.3h0M512.3 256.2h0" stroke="#86c3d7"/><path d="M516.4 280.5h0M558.3 328.2h0" stroke="#001b43"/><path d="M224.4 276.2h0M345.2 355.9h0M279.1 305.3h0M341.8 360.2h0M500.3 276.4h0M290.5 326.3h0M454 290.5h0" stroke="#d7ebf2"/><path d="M281.7 321.5h0M597.6 355.2h0M358.7 386.3h0M457.9 301.4h0M269.5 275.5h0" stroke="#aed7e4"/><path d="M347.2 374.5h0M492.3 261.1h0M633.8 344.9h0M832.5 335.6h0M743.3 270.1h0M707 298.3h0M834.4 344.8h0M740.3 268.1h0M739.7 254.4h0M722.1 265.2h0M838.1 349.8h0M728.1 279.2h0M777.9 283.5h0M824.8 336.6h0" stroke="#004328"/><path d="M296.5 332.5h0M506.8 258.9h0M765.9 270.4h0M747.6 278.3h0M719.8 272.6h0M723 281.2h0M808.4 321.2h0M838.4 352.7h0" stroke="#004a86"/><path d="M456.6 292.7h0M188.9 285.9h0M779.3 286.5h0M778.9 289.2h0M789.6 288.1h0M752.8 264.7h0M752.9 283.1h0M745.5 260.1h0M791.4 291h0M798.4 331.6h0M832.8 354.6h0M836.9 369.2h0" stroke="#0d86ae"/><path d="M527.5 274h0M819.3 333.9h0M765.7 287.6h0M763.6 253.4h0M723.6 276.7h0M773.3 291.7h0M781.5 254.4h0M773.6 279.7h0" stroke="#0072a1"/><path d="M578.1 338.9h0M725 268.4h0M715.8 255.3h0M816.6 348.7h0M785.3 282.5h0M766.3 279.6h0M757.4 261.4h0" stroke="#d7ebf2"/><path d="M602.8 368.7h0M297.4 337.5h0M481.2 281.4h0M749.3 248.3h0M721 277.2h0M777 290.1h0M810.8 320.1h0M718.5 274h0M801 310.4h0M740.1 271.5h0M757.8 273h0M808.1 325.2h0M836.5 348.6h0M815.6 334.2h0M740.9 287.1h0" stroke="#006b0d"/><path d="M480.8 298.5h0M586.1 346h0M805.2 316.7h0M729.5 263.5h0M765 249.5h0" stroke="#86c3d7"/><path d="M481 242.8h0M584.7 341.8h0M345 345.7h0M778.2 261.6h0M829.7 341.1h0M800.7 289.7h0M755.2 275h0M802.5 317h0M811.7 319.5h0M757.9 295h0M817 319.4h0M772.3 270.7h0M804.6 302.6h0M753.7 241.5h0M744.7 265.3h0" stroke="#369abc"/><path d="M568 358.1h0M343.3 378.7h0M812.4 297.2h0M810.4 282.1h0M773.7 285.7h0M806.8 314.6h0M713.3 308.5h0M794.2 293.3h0" stroke="#5eaec9"/><path d="M739.8 255.7h0" stroke="#000751"/><path d="M371.1 342.3h0M421.2 322.8h0M314 351.7h0M473.3 257.4h0M737.7 258.5h0M777.7 280h0M783.7 274.1h0M769.1 258.6h0M791.5 301.5h0M808 324.9h0M818.1 349.6h0M835.6 355.8h0M763.8 275h0M782.1 292.1h0M773.9 275.7h0M770.6 275.5h0" stroke="#00571b"/><path d="M775.7 273.1h0M715 263.4h0M786.2 279.1h0M800.9 309.8h0M826.7 331h0M783.6 298h0M722.4 277.5h0M833.8 343.3h0" stroke="#008000"/><path d="M722.9 262h0M732.5 261.4h0" stroke="#003679"/><path d="M718.3 263.3h0" stroke="#ffffff"/><path d="M545.4 305h0M789.1 300.4h0M740.4 263.5h0M791.2 299h0M836.7 334.5h0M776.1 279.4h0M723.8 273.1h0M822.2 328.4h0" stroke="#aed7e4"/><path d="M758.8 283.3h0M722.6 282.7h0" stroke="#000d5e"/><path d="M738.6 254.8h0M813.2 325.1h0" stroke="#001b43"/><path d="M475.8 275.1h0M417.1 324.7h0M576.6 352.2h0M644.3 347h0M810.6 320.3h0M731.6 263.7h0M791.4 299.8h0M730.9 278.6h0M792.3 285.7h0M721 275.6h0M736 273.5h0" stroke="#005e94"/><path d="M817.1 323.5h0M746.8 272.6h0" stroke="#00226b"/><path d="M786.6 282.3h0M772.2 273.3h0M780.8 302.6h0M834.9 331.2h0M707.2 295.4h0M718.7 303.2h0M810.4 296h0M772.8 281.2h0M795.1 307h0M801.1 321.5h0M788.8 275.5h0" stroke="#aed7e4"/><path d="M836.5 354.8h0M804.4 316.8h0M776.4 291.2h0M825.1 332.7h0M728.3 242.7h0" stroke="#86c3d7"/><path d="M776.3 289.7h0" stroke="#00226b"/><path d="M741.9 262.3h0M725.8 280.8h0M774.7 270.9h0M725.9 269.7h0M785.5 297.5h0M839.3 347.7h0M753.4 248.4h0M725.5 279.9h0M806.8 319.6h0M823.2 336.6h0M781 275h0" stroke="#005e94"/><path d="M836.9 353.9h0M804.2 289.2h0M755.5 261.6h0M770.1 273.7h0M750.9 219.2h0M769.2 295.5h0M797.1 317.6h0M769.3 293.3h0M764.1 253.4h0M804.2 326.4h0M813.8 332.3h0M791 297.3h0M756.5 199.6h0M708.2 285.9h0" stroke="#0d86ae"/><path d="M809.4 305.5h0M788.5 294.5h0M739.2 279.4h0M802.6 319.5h0M744.3 273.1h0M822.9 321.5h0M728.3 278.3h0" stroke="#008000"/><path d="M752.8 266.4h0M760.5 263.8h0" stroke="#003679"/><path d="M808.2 316.1h0M745.5 262h0M737.4 274.1h0M796.8 294.2h0M838.7 360.5h0M819.1 322.3h0M710.2 275.7h0M707.9 284.2h0M727.3 266.1h0M833.1 348.2h0M789.9 282.5h0M719 266.5h0" stroke="#004328"/><path d="M777.5 289h0M722.2 284.6h0M726.9 273h0M749.1 249.8h0M764 252.2h0M815.8 332.5h0" stroke="#004a86"/><path d="M722.4 285.3h0M800.7 301.9h0M723.1 284.5h0M721.3 265.4h0M760.8 267.8h0M802.2 302.9h0M833.8 339.6h0M711.4 275.9h0M743.8 276.2h0M798.4 305.3h0M809.8 326.3h0" stroke="#d7ebf2"/><path d="M837.6 358.2h0M817.7 320.7h0M731.6 267.9h0" stroke="#ffffff"/><path d="M785 237.8h0M809.3 339.6h0M747.8 250.3h0M811.6 306.8h0M738 269.1h0M820.7 352.6h0M780.5 245.4h0M800.6 300.8h0M734.7 292.8h0M741.7 241.7h0" stroke="#369abc"/><path d="M805.2 321.7h0" stroke="#001b43"/><path d="M828.1 336.3h0M707.5 277.3h0M747.5 277.9h0M816.3 315.9h0M801 294.3h0M800.8 330.2h0M713.1 287.6h0M780.3 242.4h0M712.7 284.2h0" stroke="#0072a1"/><path d="M734.7 263.2h0M711.9 296.5h0M816.9 346.3h0" stroke="#5eaec9"/><path d="M764.7 268.3h0M778.6 278.1h0M772.5 288.9h0M745.3 277.3h0M795.5 286.6h0M784.9 302.2h0M750.2 272h0M785.8 280h0M774.4 270.7h0M708 286.2h0M743.3 263.8h0M805.2 324.9h0M716.2 299.4h0M726.3 286h0M737 267.4h0M816.8 337.5h0" stroke="#006b0d"/><path d="M757.4 254.4h0M807.7 299.5h0M723.5 271.8h0M795.5 311.6h0M770.1 289.9h0M773.1 294.9h0M755.5 266.7h0M799 303.8h0M783.3 293.1h0M719.1 285.7h0M776.8 273.5h0M775.4 291.8h0M770.8 271.3h0M829.6 359.9h0M833.3 351.7h0" stroke="#00571b"/></g>
</g>
<rect x="56.05" y="181.00" width="779.05" height="268.00" fill="none" stroke="#000" stroke-width="2.00"/>
<path d="M82.02 449.00v-6.60M82.02 181.00v6.60M185.89 449.00v-6.60M185.89 181.00v6.60M289.76 449.00v-6.60M289.76 181.00v6.60M393.64 449.00v-6.60M393.64 181.00v6.60M497.51 449.00v-6.60M497.51 181.00v6.60M601.38 449.00v-6.60M601.38 181.00v6.60M705.26 449.00v-6.60M705.26 181.00v6.60M809.13 449.00v-6.60M809.13 181.00v6.60" stroke="#000" stroke-width="1.90" fill="none"/>
<path d="M56.05 438.80h6.60M835.10 438.80h-6.60M56.05 377.05h6.60M835.10 377.05h-6.60M56.05 315.30h6.60M835.10 315.30h-6.60M56.05 253.55h6.60M835.10 253.55h-6.60M56.05 191.80h6.60M835.10 191.80h-6.60" stroke="#000" stroke-width="1.90" fill="none"/>
<text x="52.15" y="445.70" text-anchor="end" font-size="18.30">0.98</text>
<text x="52.15" y="383.95" text-anchor="end" font-size="18.30">0.99</text>
<text x="52.15" y="322.20" text-anchor="end" font-size="18.30">1.00</text>
<text x="52.15" y="260.45" text-anchor="end" font-size="18.30">1.01</text>
<text x="52.15" y="198.70" text-anchor="end" font-size="18.30">1.02</text>
<text transform="translate(13.40 315.00) rotate(-90)" text-anchor="middle" font-size="18.20">Normalized Flux</text>
<rect x="1020.80" y="181.00" width="130.05" height="268.00" fill="#e5e5e5"/>
<rect x="1671.05" y="181.00" width="130.05" height="268.00" fill="#e5e5e5"/>
<clipPath id="cR2"><rect x="1021.20" y="181.00" width="780.30" height="268.00"/></clipPath>
<g clip-path="url(#cR2)">
<g class="d e" stroke-opacity="0.72"><path d="M1043.8 280.8h0M1139.8 361h0M1051 281.3h0M1099.2 335.6h0M1105.7 343.8h0M1111.5 347.1h0M1138.7 364.1h0M1094.9 331.7h0M1095.9 334.2h0M1141.2 367.8h0M1121.5 358.9h0M1036 277.5h0" stroke="#369abc"/><path d="M1018.5 269.1h0M1150.5 364h0M1121.1 358.8h0M1121.2 360h0M1043.9 285.9h0M1126.3 357.9h0M1078.7 312.8h0M1107.8 339.2h0M1016 269.6h0M1109 342h0M1024.2 278h0M1057.2 292.6h0M1033.3 281h0M1104.1 339h0M1038.2 273.5h0" stroke="#004a86"/><path d="M1080.1 320.3h0M1079.4 319.5h0M1130.8 361.1h0M1117.5 354.5h0M1122.9 352.9h0M1091.5 334.8h0M1075.8 312h0M1140.2 364.6h0M1128.6 361h0M1111.4 347h0M1083.9 331.1h0M1018.8 268.5h0M1084.7 320.7h0M1015.1 269.1h0M1023.2 273.6h0M1048.8 284.1h0" stroke="#005e94"/><path d="M1087.9 349.2h0M1027.9 253.1h0M1025.6 276.2h0M1128 358.3h0M1138.4 364.4h0M1089.8 320.2h0M1148.3 362.4h0M1142.4 363.2h0M1086 322.3h0M1066.2 295h0M1038.2 284.2h0M1053 290.9h0M1089.2 336.5h0M1086.4 326.2h0M1021.2 273.5h0M1105.9 346.8h0M1124.6 352.8h0" stroke="#002f36"/><path d="M1069.3 316.8h0M1064.5 283.2h0M1048.7 310.9h0M1143.1 355.3h0M1142.6 369.3h0M1051.1 290.6h0M1021.7 277.9h0M1137.9 366.7h0M1034 274.7h0M1047.4 285.7h0M1058.6 294h0M1035.2 275.2h0M1117.2 353h0M1090.3 329.1h0M1114 354.9h0M1054.1 292.2h0M1107.7 349.9h0M1017.8 270.8h0M1132 364.2h0M1107.1 341.9h0M1016.3 266.6h0M1023.5 275.5h0M1066.2 303.2h0M1150.8 361.9h0M1120.6 356.2h0M1036.5 277.9h0M1142.8 373.5h0M1022.7 276.5h0M1033.7 270.3h0M1020.4 274.2h0M1138.8 355h0M1110.7 347h0M1055.9 295.7h0M1061.6 302.1h0M1094.7 334.8h0M1107.9 341h0M1033.2 286.8h0" stroke="#000d5e"/><path d="M1121.1 367.3h0M1055.4 304.6h0M1136.2 361.7h0M1118.7 355.2h0M1130.3 357.5h0M1055.4 285.9h0M1066.9 303h0M1073.1 306.7h0M1076.7 315h0M1148.7 363.6h0M1090.6 329.3h0M1044.6 278.6h0M1057.1 295h0M1030 275h0M1015 267h0" stroke="#00571b"/><path d="M1043.9 282.6h0" stroke="#008000"/><path d="M1057.3 303.6h0M1018.6 248.4h0M1136.1 394.9h0M1123.7 378.2h0M1059 270.6h0M1058.8 309.5h0M1030.4 274.5h0M1031.4 277.7h0M1085.8 323.6h0M1023.6 272h0M1030.4 277.4h0M1137.7 360.7h0M1100.6 347.8h0M1121.6 353h0M1056 290.6h0M1112.7 355h0M1145 362.5h0M1136.7 364.8h0M1088.8 319.4h0M1052.1 286.2h0M1037.1 284.3h0M1077.3 314.4h0M1016.9 272.7h0M1104.2 343.6h0M1105 335.2h0M1113.9 347.8h0M1136 367.5h0M1019.5 268.5h0M1135 367h0M1045.9 287.6h0M1051.2 289.6h0M1021 266.5h0M1144.9 368.5h0M1079.1 316.9h0" stroke="#00226b"/><path d="M1015.3 302.7h0M1104 327.7h0M1097.7 307.9h0M1050.9 289.6h0M1126 357.8h0M1140.5 362.9h0M1136.9 359h0M1128.9 364.6h0M1136.6 363.8h0M1041.2 277h0M1074.2 304h0M1066.7 301.7h0M1073.3 308.8h0M1099.2 332.4h0M1149 370.2h0M1034.5 277.8h0M1037 277.7h0M1072 318.4h0M1060 287.3h0M1132 361.4h0M1075.7 313.2h0M1034.6 281.9h0M1096.1 335.6h0M1108.4 350.8h0" stroke="#003679"/><path d="M1118 356.3h0M1022.7 269.2h0M1070.1 308h0M1059.4 293.7h0M1074.1 310.8h0M1125.1 360h0M1019.4 272.8h0" stroke="#004328"/><path d="M1127.9 355.3h0M1140.6 360.7h0M1032.1 276.6h0M1092.6 329.6h0M1059 296.3h0M1024.5 274h0M1110.2 349.2h0M1032.8 282.1h0M1031.2 279.8h0M1123.2 360.3h0M1135.9 364.2h0M1137.7 362.2h0M1056.4 295h0M1018.3 273.9h0M1027.6 272.8h0M1132 359.2h0M1140.8 361.9h0" stroke="#000751"/><path d="M1138.4 362.7h0M1117.7 354.6h0M1116.2 348.4h0" stroke="#d7ebf2"/><path d="M1076.7 323.4h0M1105.6 348.7h0M1072.1 307.2h0M1138.7 364.5h0" stroke="#aed7e4"/><path d="M1087.4 322.9h0M1119.9 366.3h0M1150.1 368.7h0M1036.4 274.8h0M1055.2 294.2h0M1127 357.6h0M1125.6 355.5h0M1053.9 293.1h0M1057.5 297.9h0M1055 288.7h0M1059.4 295.7h0M1111.5 344.8h0M1053.1 286.6h0M1051.6 290.5h0" stroke="#001b43"/><path d="M1112.7 342.6h0M1132.8 364.6h0M1122.9 358.6h0M1130.7 364h0M1084.8 315.8h0M1145.8 363.8h0M1057.9 298.2h0M1125.5 360h0M1027.6 280.9h0M1144.3 363.8h0M1099.7 333.8h0M1137.9 364.3h0M1149.3 361.9h0" stroke="#0d86ae"/><path d="M1061.9 305.3h0M1022.1 274.1h0M1127.8 360.8h0M1111.6 345.6h0M1133.4 358.7h0M1022.1 274.9h0M1121.5 354.4h0M1145.3 364.7h0M1039.1 285.5h0" stroke="#86c3d7"/><path d="M1128.1 373.7h0M1039.2 279.9h0M1064.1 302h0M1093.8 332.3h0M1134.7 364.7h0M1058.7 291.3h0M1046.8 285.2h0M1110.3 340h0M1043.7 284.8h0M1037.3 277.6h0M1090.3 324.5h0M1019.8 272.3h0M1128.7 355.2h0" stroke="#006b0d"/><path d="M1053.2 290.8h0M1017.3 272.7h0M1086.8 328.6h0M1127.2 361.4h0M1050.3 288.8h0M1111.7 342.7h0M1075.3 311.4h0M1136.1 368.3h0M1028.9 276.1h0M1045.9 283.3h0M1100.6 340.3h0M1088 330.1h0" stroke="#5eaec9"/><path d="M1030.4 281.3h0M1135.6 363.7h0M1018.8 266.8h0M1075.7 306.5h0M1126.2 357.3h0M1124.1 355.5h0M1047.3 288.8h0M1014.9 269.8h0M1098.4 333.7h0M1087.9 321.7h0M1045.8 289h0M1021.2 271.8h0M1064.1 303.7h0M1132.9 363.8h0" stroke="#0072a1"/><path d="M1076.2 312.7h0M1030 275.8h0M1070 304.2h0M1086.8 327.5h0M1138.2 365.5h0M1118.6 353.2h0M1094.7 335.8h0M1095.8 335.5h0M1143 373.1h0M1142.6 360.7h0M1122.5 357.8h0M1089.4 328.7h0M1069.2 302.9h0M1111.8 346.3h0" stroke="#0d86ae"/><path d="M1125.5 358.4h0M1034.5 282.8h0M1115.8 346.6h0M1112.5 356.5h0M1105.2 334.5h0M1086.7 322.5h0M1139.8 364.4h0M1129.9 357.1h0M1115.2 352.7h0M1077.6 310.1h0M1044 281.5h0M1064.8 297.1h0M1028.2 278.5h0M1039 284.2h0M1045.6 286.7h0M1138 363.4h0M1049.1 292.6h0M1069.6 302.6h0M1021.8 266.7h0M1136.6 355.2h0M1132.6 359.5h0M1022.7 277.5h0M1027.3 273h0M1101.3 340.6h0M1071.5 301h0M1112.3 351.3h0M1092.4 327h0M1140.7 359.7h0M1043.2 290h0" stroke="#5eaec9"/><path d="M1049.1 291.2h0M1044.6 276.3h0M1031.8 279.4h0M1079.8 316.8h0M1031.3 278.6h0M1142.3 366.6h0M1044.2 287.2h0M1102 339.1h0M1061.1 303.6h0M1058 295.8h0M1135.8 357.5h0M1053.2 288.2h0M1134.3 365.4h0M1055.6 292h0M1033.2 279.3h0" stroke="#005e94"/><path d="M1506.6 288.6h0M1351.5 299.6h0M1212 257.8h0M1269.8 232.2h0M1379.8 366.3h0M1321.5 256.6h0M1217.2 287.3h0" stroke="#001b43"/><path d="M1110.1 340.7h0M1117 348.5h0M1030.4 277.8h0M1019.3 268h0M1122.5 360.7h0M1123.9 355h0M1076 315.7h0M1019.5 276.9h0M1049.2 290.8h0M1110.6 348.2h0M1097.3 337.6h0M1066.6 308.9h0M1051.9 286.1h0" stroke="#0072a1"/><path d="M1108 348.9h0M1059.5 299.7h0M1096.4 334.5h0M1105.8 341.8h0M1115.8 356.9h0M1108.9 348.9h0M1135.7 361.5h0M1038.2 280h0M1104.4 349.4h0M1140.5 364.7h0M1136.5 359.7h0M1093.9 325.7h0M1053.6 293.4h0M1137.1 374.4h0M1030 279.3h0M1040 282.2h0M1022.4 275.5h0M1141.4 364.5h0M1077.5 316.8h0M1144.9 362.8h0M1115.9 353.9h0" stroke="#369abc"/><path d="M1031.8 279.4h0M1142.5 366h0M1104.9 339.4h0M1072.9 310.6h0M1043.9 288.6h0M1119.6 357.6h0M1140.1 364.1h0M1035.8 282.1h0M1109.8 348.2h0M1056.4 288.4h0M1140.3 361.3h0M1019.4 272.5h0M1077.5 314.2h0M1113 343.2h0M1092.2 328.8h0M1025.7 274.4h0M1122 357.8h0M1073.3 308h0M1114 352.6h0M1138.1 361.7h0M1076.4 314.8h0M1113.6 347.4h0M1113.2 348.7h0M1125.8 360.5h0M1086.9 317.2h0M1081.6 315h0M1138.4 367.1h0M1118.7 352.7h0M1097.3 335.1h0" stroke="#86c3d7"/><path d="M1049.7 284.4h0M1035.1 279.2h0M1138.1 358.3h0M1589.5 316.8h0M1584.7 283.2h0M1253 303.7h0M1299.5 305.7h0M1236 250.8h0M1568.9 310.9h0M1323 233.1h0" stroke="#000d5e"/><path d="M1135.2 358.5h0M1149.8 367.2h0M1017.1 277.5h0M1086.8 322.7h0M1040.1 285.6h0M1119.8 360h0M1122.6 361h0M1020.2 272.7h0M1026.5 266.5h0M1038.5 283.9h0M1121.9 358.9h0M1044.6 290.9h0M1057.4 292.9h0M1138.3 366.3h0" stroke="#004a86"/><path d="M1100.5 334.2h0M1439.7 285.2h0M1389.2 362h0M1531.9 302.3h0M1318.3 265.1h0M1281.7 225.4h0M1285.8 285.9h0M1258.7 256.9h0M1197.6 310.7h0M1608.1 349.2h0M1303.5 303h0" stroke="#002f36"/><path d="M1043.1 280.1h0M1091 334.2h0" stroke="#000751"/><path d="M1510.5 288.4h0M1648.3 373.7h0M1456.5 330h0M1458 331.6h0" stroke="#006b0d"/><path d="M1470.1 286h0M1188.3 352.5h0M1257.4 297h0" stroke="#004328"/><path d="M1641.3 367.3h0M1386.5 347.5h0M1505.8 299.1h0M1485.4 311.3h0M1438.1 345.9h0M1406.8 364.9h0M1194.7 345.1h0M1201.7 346.4h0M1575.6 304.6h0M1412.2 359.7h0M1165.8 373.2h0" stroke="#00571b"/><path d="M1046.4 285.3h0M1020.8 266.8h0M1063.7 301.2h0M1123.8 359.9h0M1037.1 279.6h0M1092.8 335h0M1071.7 311.4h0M1097.8 332.3h0M1049.6 290.4h0M1057.4 294.2h0M1079.3 319.5h0M1535.5 302.7h0M1324.6 312.9h0M1167.2 334.9h0M1473.1 272.5h0M1489.5 260.3h0M1228.1 316.9h0M1268.4 258.8h0M1316.7 303.7h0M1624.2 327.7h0M1217 290.3h0M1362.9 352.1h0" stroke="#003679"/><path d="M1059.2 304.3h0M1022.9 273.6h0M1118.8 355.5h0M1121.2 355.3h0M1110.9 342.6h0M1051.8 293.2h0M1015 268.5h0M1018.9 272.8h0M1130.1 367.9h0M1037.5 275.4h0M1059.3 303.4h0M1101.2 339.9h0M1037.3 282h0M1090.5 324.3h0M1068.6 302.3h0M1097.6 334.5h0M1105.7 337.4h0M1064.1 297.6h0M1058.6 295.5h0M1108.9 345.6h0M1077.7 310.9h0M1067.4 307.2h0M1134.8 363.3h0M1129.9 362h0" stroke="#aed7e4"/><path d="M1031.3 271.7h0M1015.4 270.2h0M1105.7 341.5h0M1135 361.9h0M1067.6 304.2h0M1061.8 303.8h0M1104.8 339.3h0M1115.2 351.7h0M1019.7 277.7h0M1092.4 330.2h0M1037.7 276.3h0M1037.2 279.3h0M1064 297.6h0M1087.8 325.9h0M1122.4 363.6h0M1023.7 276.3h0M1079.7 319.9h0M1134.8 362.4h0M1082.7 319.3h0M1143.5 367.8h0M1099.9 336.5h0M1086.6 319.2h0M1065 307.8h0M1052.6 290.2h0M1025.8 274.3h0" stroke="#d7ebf2"/><path d="M1101.7 341.4h0M1076.8 314h0M1126.2 353.2h0M1114.7 350.5h0M1096.9 328.6h0M1146.5 369.5h0M1180.1 331.8h0M1288.7 319.9h0M1240.3 271.3h0M1577.5 303.6h0M1329.5 279.1h0M1538.8 248.4h0M1376.5 281.7h0M1656.3 394.9h0M1359.3 348.2h0M1325.2 308.2h0M1289.1 255.7h0M1449.8 293.4h0M1207.2 281.4h0M1643.9 378.2h0M1447 298.1h0M1359.2 288.7h0M1276.9 294.8h0" stroke="#00226b"/><path d="M1298.8 237.5h0M1548.1 253.1h0M1398.8 328.2h0M1415.9 345.2h0M1545.8 276.2h0M1648.2 358.3h0M1658.6 364.4h0M1371.3 338.8h0M1201.4 328.4h0M1304.9 270.2h0M1512.9 269.5h0M1610 320.2h0M1388.2 343.2h0M1408.4 350.1h0M1238.1 290.7h0M1668.5 362.4h0M1345.8 308.2h0M1514.5 271h0M1662.6 363.2h0M1606.2 322.3h0M1243.5 284.7h0M1311.9 277.8h0M1586.4 295h0M1249.2 280.4h0M1310.2 281h0M1452.7 325.1h0M1260 277.5h0M1558.4 284.2h0M1338.3 311.2h0M1289.8 272.2h0" stroke="#002f36"/><path d="M1344.4 313h0M1381.9 339.3h0M1186.1 344.8h0M1412.6 352.2h0M1330.6 297.7h0M1213.7 312.9h0M1564.1 282.6h0M1243.5 288.7h0M1439.5 335.7h0M1172.9 358.4h0M1379.9 339.6h0" stroke="#008000"/><path d="M1429.6 338.7h0M1442.6 331.9h0M1210.2 315.4h0M1538.7 269.1h0M1670.7 364h0M1197.5 328.6h0M1333.8 297.5h0M1283.5 267.2h0M1518.1 272.5h0M1641.3 358.8h0M1519.4 272.5h0" stroke="#004a86"/><path d="M1508.6 279h0M1275.1 274.2h0M1648.1 355.3h0M1660.8 360.7h0M1552.3 276.6h0M1383.2 341.4h0M1330.1 294.4h0M1612.8 329.6h0M1174.5 359h0M1579.2 296.3h0M1469.9 313.3h0M1544.7 274h0M1388.2 336.6h0M1630.4 349.2h0M1167.2 356.4h0" stroke="#000751"/><path d="M1499.3 280.9h0M1344.5 310.1h0M1268.4 272.2h0M1376.9 335.7h0" stroke="#0d86ae"/><path d="M1288.6 268.4h0M1559.4 279.9h0M1584.3 302h0M1517 274.1h0M1614 332.3h0M1280.1 277.1h0M1381.4 340.4h0M1343.4 307.6h0M1185.7 339.3h0M1654.9 364.7h0M1432 344h0M1578.9 291.3h0M1242.9 283.5h0M1494.4 292.5h0M1166.8 354.7h0M1215.6 311h0M1425.8 341.2h0M1567 285.2h0M1630.5 340h0M1498.2 282.1h0M1234.7 291.1h0M1456 324.9h0M1439.4 333h0M1521.5 273.7h0M1355 318.6h0M1194.1 329.7h0M1563.9 284.8h0M1309.6 282.2h0M1423.5 342.6h0M1481.2 296h0M1515.4 277.8h0M1557.5 277.6h0M1525.1 266.4h0M1446.8 329.4h0" stroke="#006b0d"/><path d="M1330.7 298.5h0M1379 338h0M1156.2 362.7h0M1157.6 358.2h0" stroke="#369abc"/><path d="M1333.3 323.4h0M1656.4 361.7h0M1638.9 355.2h0M1529 278.6h0M1264.4 272.5h0M1441.7 334.3h0M1228.2 301.5h0M1650.5 357.5h0M1505.3 278.6h0M1575.6 285.9h0M1213.8 310.7h0M1245.5 287.2h0M1216.5 309.5h0M1174.3 353.1h0M1390.5 340.3h0M1315.5 281.4h0M1485.9 297.7h0M1167.5 357.7h0M1352.4 318.5h0M1525.5 275.5h0M1587.1 303h0M1259.3 277.3h0M1193.5 331.6h0M1489.9 296.3h0M1317.9 283.2h0M1366.7 330.8h0M1593.3 306.7h0M1596.9 315h0M1668.9 363.6h0M1354.8 322.9h0M1522.2 271.9h0" stroke="#00571b"/><path d="M1489.1 292.8h0M1638.2 356.3h0M1178.4 346.5h0M1242.6 281.8h0M1542.9 269.2h0M1202.8 321.6h0M1400.7 344.6h0M1590.3 308h0M1579.6 293.7h0M1158.3 359.7h0M1171.2 355.2h0M1163.6 359.1h0M1505.5 274.5h0M1331.4 297.6h0M1594.3 310.8h0M1645.3 360h0" stroke="#004328"/><path d="M1332.3 298.6h0M1573.4 290.8h0M1537.5 272.7h0M1356.1 320.9h0" stroke="#5eaec9"/><path d="M1600.3 320.3h0M1318.6 281.6h0M1511.8 278.4h0" stroke="#005e94"/><path d="M1579.2 270.6h0M1362.8 358.4h0M1300 303.2h0M1322.5 256.7h0M1579 309.5h0M1251.2 304.8h0M1550.6 274.5h0M1172.7 352.6h0M1443.3 326.7h0M1551.6 277.7h0M1195.9 329.2h0M1291.9 267.8h0M1369.1 335.9h0M1504.1 280.4h0M1521.8 264.1h0M1170.3 359.3h0M1428.2 335.8h0M1606 323.6h0M1443.7 325.4h0M1214.3 309.9h0M1385.2 342.2h0M1543.8 272h0M1550.6 277.4h0M1458.9 320.5h0M1657.9 360.7h0M1267.2 276.1h0M1620.8 347.8h0M1452.6 320.1h0M1182.4 347.7h0M1399.7 349.6h0M1641.8 353h0M1240.5 288.8h0M1446.1 326.3h0M1287.1 269.1h0" stroke="#00226b"/><path d="M1322.3 292.3h0" stroke="#86c3d7"/><path d="M1335.3 330.4h0M1371.5 348.2h0M1365.2 300.5h0M1663.3 355.3h0M1455.2 322h0M1494.6 285.3h0M1662.8 369.3h0M1571.3 290.6h0M1541.9 277.9h0M1255.4 274.3h0M1658.1 366.7h0M1252.5 276.4h0M1554.2 274.7h0M1252.3 276.9h0M1290.4 272.7h0M1290.5 270.5h0M1567.6 285.7h0M1184.2 343.1h0M1578.8 294h0M1416.3 342.3h0M1227.8 298.1h0M1555.4 275.2h0M1383.1 338.7h0M1225.5 306.3h0M1637.4 353h0M1346.8 307.3h0M1415.1 344.9h0M1194.6 339h0M1610.5 329.1h0M1308.9 286.9h0M1634.2 354.9h0M1230.6 296.5h0M1574.3 292.2h0M1627.9 349.9h0M1222.9 303.2h0M1166.9 359.6h0M1430.1 339.2h0M1278.8 271h0" stroke="#000d5e"/><path d="M1617.9 307.9h0M1440.1 337.5h0M1420.1 342h0M1233.3 291.6h0M1525.3 268.4h0M1519.3 272.1h0M1333.7 304.3h0M1207.3 324.7h0M1517.3 275h0M1251.7 282h0M1427.1 342.1h0M1250.5 278.7h0M1571.1 289.6h0M1646.2 357.8h0M1227.5 300.5h0M1198.1 332.8h0M1421.6 336.6h0M1158.7 361h0M1294.6 276.9h0" stroke="#003679"/><path d="M1425.9 343h0" stroke="#0072a1"/><path d="M1212.4 333.8h0M1369.6 335.7h0M1313.4 279.5h0M1153.7 358.9h0M1375.2 333h0M1245.3 282.8h0M1202.2 322.8h0M1349.5 313.2h0M1393.5 345.7h0M1260 271.3h0M1393.5 354.8h0M1414.7 355.7h0M1335.3 305h0M1507.4 276.2h0M1607.6 322.9h0M1226 297.8h0M1459.2 319.8h0M1471.1 304.9h0M1424.2 341h0M1437.8 337.4h0M1383 340h0" stroke="#001b43"/><path d="M1422.7 342.3h0M1440 335.8h0M1445.4 330h0M1573.2 290.9h0M1514.3 273h0M1454.3 322.6h0M1236.7 298.5h0M1233.2 294.5h0M1442.8 335.4h0M1365.9 337.2h0M1224.7 305.1h0M1479.3 301.5h0M1609.4 336.5h0M1472.6 308.5h0M1606.6 326.2h0M1176 355.7h0M1211.5 308.4h0" stroke="#002f36"/><path d="M1265.6 264.8h0M1384.5 336.6h0" stroke="#aed7e4"/><path d="M1348.2 318.9h0M1433.7 340.1h0M1417.3 340.9h0M1321.8 285.7h0M1440.3 333.5h0M1564 280.8h0M1253.9 283.1h0" stroke="#369abc"/><path d="M1328.1 290.4h0M1361.4 326.4h0M1444.3 328.6h0M1393.1 344.1h0M1378.6 331.7h0M1517.7 275.1h0M1384.5 341.4h0M1199.8 332.3h0" stroke="#004328"/><path d="M1493.4 284.3h0M1179.6 346.4h0M1322.1 289.3h0M1292.4 278h0M1610.5 324.5h0M1373.8 340.8h0M1395.6 347.3h0M1540 272.3h0M1258.9 270.1h0M1648.9 355.2h0" stroke="#006b0d"/><path d="M1550.6 281.3h0M1221.6 313h0M1316.1 286.4h0M1509.8 275.2h0M1296.9 269.2h0M1218.8 310.9h0M1482.8 292.7h0M1655.8 363.7h0M1326.7 290.1h0M1373.7 336.2h0M1337 302h0M1170.1 354.8h0M1153.1 367.1h0" stroke="#0072a1"/><path d="M1469.7 310.1h0M1453 324.5h0M1262.5 277.6h0M1414.6 342.5h0M1641.4 360h0M1461.5 320.6h0M1564.1 285.9h0M1455.4 325.8h0M1646.5 357.9h0M1368.3 332.8h0M1400.5 344.9h0M1198.1 335.1h0M1299.9 275.4h0M1238.2 288.9h0M1598.9 312.8h0M1246.2 283.7h0M1628 339.2h0M1412.7 348.9h0M1479.3 290.5h0M1504.4 277.1h0M1215.8 311.3h0M1192.5 334.8h0" stroke="#004a86"/><path d="M1488 290.7h0M1289.6 267.7h0" stroke="#008000"/><path d="M1238.8 293h0M1344.5 309.6h0M1538 270.8h0M1262.5 275.2h0M1652.2 364.2h0M1314 286.1h0M1483.9 299.2h0M1627.3 341.9h0M1179.8 350.3h0M1536.5 266.6h0M1543.7 275.5h0M1586.4 303.2h0M1671 361.9h0M1338.1 301.9h0M1343.7 312.4h0M1501.1 275.1h0M1275.2 261.4h0M1405.3 350h0M1486.5 291.4h0M1235.6 289.2h0M1640.8 356.2h0M1441.2 333.5h0M1224.5 301.6h0M1237.1 292h0M1556.7 277.9h0M1169.4 358.2h0M1663 373.5h0M1388.1 342.6h0M1505.5 277.1h0M1423.8 339.5h0M1391.2 342.7h0M1356.2 322.4h0M1420.2 344.2h0M1234.3 298.2h0M1183.9 346.8h0M1503.6 275.8h0M1447.4 326.7h0M1252.8 288.8h0M1542.9 276.5h0M1553.9 270.3h0M1206.4 324.5h0M1423.8 338.8h0" stroke="#000d5e"/><path d="M1313.5 281.7h0M1519.7 267.2h0M1660.7 362.9h0M1657.1 359h0M1413.2 347.1h0M1649.1 364.6h0M1364.8 323.1h0M1488.3 292.1h0M1246.5 286.5h0M1528.7 273.6h0M1458.4 318.3h0M1257 274.2h0M1442.2 337.8h0M1656.8 363.8h0M1561.4 277h0M1443.8 328.2h0M1401.5 346.1h0M1197.6 331.8h0M1313.6 282.9h0M1504.6 281.3h0M1366.5 334.3h0M1497.4 287.3h0M1397.9 343.8h0M1521 273.1h0M1274.4 273.1h0M1594.4 304h0M1480.3 298.6h0M1299.5 271h0M1407.1 352.5h0M1586.9 301.7h0M1382.1 340h0M1431.8 338h0" stroke="#003679"/><path d="M1244.4 284.1h0M1252.1 281.1h0M1632.9 342.6h0M1653 364.6h0M1284.5 271.5h0M1643.1 358.6h0M1427.1 343.8h0M1169.9 357h0" stroke="#0d86ae"/><path d="M1640.1 366.3h0M1491.2 292.8h0M1507 284.7h0M1670.3 368.7h0M1247.7 281.6h0M1255.3 280.9h0M1255.7 280.1h0M1556.6 274.8h0M1434.9 338.8h0M1575.4 294.2h0M1647.2 357.6h0M1645.8 355.5h0M1574.1 293.1h0" stroke="#001b43"/><path d="M1460 314h0M1227.6 299.8h0M1576.2 290.6h0M1341 307.2h0M1349.7 314.8h0M1207.4 316h0M1470.3 305.5h0M1383.7 337.4h0M1504 277.4h0M1483.2 294.5h0M1441.6 329.6h0M1179.7 342.2h0M1488.9 292.6h0M1296.5 276.6h0M1318.7 285h0M1527.2 272.9h0M1632.9 355h0M1333.2 297.3h0M1156.8 361.9h0M1264.3 274h0M1209.8 315.7h0M1300.4 277.3h0M1665.2 362.5h0M1403.9 344.2h0M1399.6 343.4h0M1317.5 286.5h0M1294.8 273.6h0M1215.5 309.3h0M1158.6 361.9h0M1223.4 310.1h0M1497 280.6h0M1656.9 364.8h0M1458.4 325.3h0M1490.9 296.9h0M1394.1 343.3h0" stroke="#00226b"/><path d="M1252.4 279.7h0M1607 328.6h0M1214.4 309.9h0M1437.3 331.3h0M1452.4 325.2h0M1647.4 361.4h0" stroke="#5eaec9"/><path d="M1434.7 334h0M1658.6 362.7h0" stroke="#d7ebf2"/><path d="M1553 282.1h0M1466.6 310.2h0M1439.5 338.6h0M1160.6 364.8h0M1528.5 271.9h0M1551.4 279.8h0M1177 344.6h0M1234.5 294.2h0M1643.4 360.3h0M1656.1 364.2h0M1320.8 288.3h0M1423.2 340.4h0M1657.9 362.2h0" stroke="#000751"/><path d="M1599.6 319.5h0M1651 361.1h0M1279 272.2h0M1637.7 354.5h0M1643.1 352.9h0M1505.6 274.4h0M1459.9 316.5h0M1442.6 333.2h0M1306.1 274.2h0M1318.6 290.6h0M1293.3 277.4h0M1287.8 270.6h0M1510.8 277.2h0M1396.6 343.4h0M1611.7 334.8h0M1297.7 273.5h0M1461.6 321.5h0M1368.4 332.2h0M1596 312h0M1209.8 319.8h0M1418.9 338.1h0M1505.9 275.4h0M1159.6 358.8h0M1292.8 270.8h0" stroke="#005e94"/><path d="M1507.9 276.7h0M1191.3 333.8h0M1610.8 329.3h0M1442.5 337.3h0M1213.2 309.6h0M1498.8 280.9h0M1466 310.2h0M1397.7 344.4h0M1564.8 278.6h0M1429.5 336.5h0M1577.3 295h0M1431.7 336.7h0" stroke="#00571b"/><path d="M1582.1 305.3h0M1498.4 286.1h0M1245.2 289h0M1351.9 320.4h0M1361.6 323.8h0M1542.3 274.1h0M1252.6 282.5h0M1378.8 338.2h0M1648 360.8h0" stroke="#86c3d7"/><path d="M1273.4 273.4h0M1313.6 282.7h0M1211.2 319.3h0M1550.2 275h0M1487.8 293.5h0M1286.6 273.4h0M1476.5 296.4h0M1535.2 267h0" stroke="#00571b"/><path d="M1387.3 344.6h0M1244.8 285.3h0M1326.7 294.9h0M1470.4 309h0M1175.5 348.8h0M1502.7 285.8h0M1204.9 320h0M1449.6 322.9h0M1593.5 308.8h0M1209 314.5h0M1619.4 332.4h0M1251.1 280.1h0M1387.1 342.1h0M1669.2 370.2h0M1300.6 283h0M1480 301.3h0M1236.3 286.1h0M1554.7 277.8h0M1156.7 362.3h0M1442.7 328.9h0M1557.2 277.7h0M1338.8 302.8h0M1395.3 345.1h0M1449.2 334.2h0M1202.7 317.5h0M1419.7 345h0M1592.2 318.4h0M1202.3 325.1h0" stroke="#003679"/><path d="M1163.5 361.1h0M1214 316.1h0" stroke="#006b0d"/><path d="M1381.9 337.9h0M1492.9 285.3h0M1570.5 288.8h0M1229.6 296h0M1242.3 288.1h0M1172.3 355.5h0M1631.9 342.7h0M1420.3 338.9h0M1595.5 311.4h0M1656.3 368.3h0M1549.1 276.1h0M1566.1 283.3h0M1438.3 340.2h0" stroke="#5eaec9"/><path d="M1390.1 342.8h0M1435.6 336h0M1396.2 346h0M1308 277h0M1192.3 333.5h0M1210.9 318.3h0M1239.6 299.5h0M1650.9 364h0M1403.3 342.9h0M1605 315.8h0M1666 363.8h0M1374.5 332.7h0M1578.1 298.2h0M1645.7 360h0M1440.5 335h0M1421.1 344.4h0M1260.1 275.7h0M1547.8 280.9h0M1664.5 363.8h0M1413.4 354.4h0" stroke="#0d86ae"/><path d="M1342.4 302.6h0M1256.5 275.4h0M1637.9 354.6h0" stroke="#d7ebf2"/><path d="M1501.1 285.3h0M1235.8 285.4h0M1541.4 273.5h0M1188.4 344.3h0M1499.3 277.8h0M1438.6 330.4h0M1500.5 275.2h0" stroke="#002f36"/><path d="M1349.6 320.5h0M1660 361h0M1391 345.3h0M1571.2 281.3h0M1282.9 269.9h0M1259.1 278.2h0M1413.9 349.9h0M1304.4 273.9h0M1510.8 281.2h0M1416.2 343.5h0M1619.4 335.6h0M1625.9 343.8h0M1631.7 347.1h0M1523.8 276.3h0M1658.9 364.1h0M1324.7 289.8h0M1485.4 300.2h0M1505 278.9h0" stroke="#369abc"/><path d="M1540.6 274.2h0M1352.5 320.6h0M1659 355h0M1412.3 345.7h0M1418.6 344.3h0M1630.9 347h0M1576.1 295.7h0M1339.6 309.5h0M1271.4 262h0M1354.1 326.7h0M1441.4 335.5h0M1473.5 305h0M1244.5 287.1h0M1295.9 271.4h0M1416.9 347.5h0M1245.2 287h0M1495.8 288.7h0M1298.1 275h0M1581.8 302.1h0M1532.7 272.5h0M1614.9 334.8h0M1628.1 341h0M1273.3 270h0" stroke="#000d5e"/><path d="M1426.5 340.9h0M1577.7 297.9h0M1575.2 288.7h0M1579.6 295.7h0M1488.8 291.5h0M1631.7 344.8h0M1329.8 299.9h0M1322.4 283.7h0M1258.9 279.5h0M1198.2 328.4h0M1278.2 269.9h0M1573.3 286.6h0" stroke="#001b43"/><path d="M1609 319.4h0M1572.3 286.2h0M1557.3 284.3h0M1597.5 314.4h0M1537.1 272.7h0M1624.4 343.6h0M1350.8 313.1h0M1625.2 335.2h0M1634.1 347.8h0M1656.2 367.5h0M1539.7 268.5h0M1398.8 349.1h0M1312.4 280.9h0M1458.9 315.2h0M1496.2 280.8h0M1655.2 367h0M1500.7 285.1h0M1566.1 287.6h0M1571.4 289.6h0M1343 306.1h0M1515.3 277.6h0M1505 280.8h0" stroke="#00226b"/><path d="M1596.9 323.4h0M1234.1 292.7h0M1625.8 348.7h0M1592.3 307.2h0M1181.3 347.3h0M1359.1 322.1h0M1658.9 364.5h0M1355.2 316.1h0M1448.9 327.3h0M1352.4 318.5h0" stroke="#aed7e4"/><path d="M1389.2 345.7h0M1539 266.8h0M1595.9 306.5h0M1263.6 274.9h0M1265.3 275.4h0M1319.2 282.9h0M1169.8 356.7h0M1192.5 334.8h0M1646.4 357.3h0M1423.7 343.4h0M1644.3 355.5h0M1203.1 326.1h0M1515.2 266.8h0M1567.5 288.8h0M1193.9 328.3h0M1426 346h0M1360.6 320.2h0M1522.9 279.7h0M1326 291.6h0M1274.8 268.4h0M1535.1 269.8h0M1618.6 333.7h0M1608.1 321.7h0M1566 289h0M1514.8 276.5h0M1471.1 304.9h0M1541.4 271.8h0M1262.8 278.9h0M1163.1 362.5h0M1447.6 328.5h0" stroke="#0072a1"/><path d="M1631.8 345.6h0M1391.3 348.2h0M1152.4 359h0M1406 352.9h0M1342.6 309.6h0M1653.6 358.7h0" stroke="#86c3d7"/><path d="M1335.2 301.1h0M1289.5 270.1h0M1423.2 340.6h0M1530.8 272.8h0M1302.4 277.2h0M1418.6 339.1h0M1187.9 335.7h0M1576.6 295h0M1453.3 326.6h0M1538.5 273.9h0M1262.6 273.8h0M1412 347.5h0M1547.8 272.8h0M1238.4 289.8h0M1652.2 359.2h0M1171.2 350.3h0M1244.4 297.8h0" stroke="#000751"/><path d="M1389.3 344.9h0M1332.9 305.5h0M1393.2 346.6h0M1387.6 338.5h0M1249.4 277.2h0M1326.5 290.6h0M1536.2 269.6h0M1469.8 312.7h0M1488.7 292.4h0M1309.9 277.4h0M1378.6 343.6h0M1226.2 304.7h0M1174.1 345.6h0M1408.4 350.7h0M1629.2 342h0M1447.4 325.9h0M1473.5 304.8h0M1443.6 330.8h0M1309.9 276.9h0M1358 329.1h0M1459.3 311.7h0M1502.3 283.1h0M1544.4 278h0M1495.3 285.9h0M1299.4 272.1h0M1371.6 332.8h0M1577.4 292.6h0" stroke="#004a86"/><path d="M1378.8 337.9h0M1539.6 272.8h0M1165.6 359h0M1405.7 349.6h0" stroke="#004328"/><path d="M1234.4 291.8h0M1360.6 320h0M1247.5 279.3h0M1372.5 336.6h0M1494.8 281.8h0M1660.4 364.6h0M1465.8 314.9h0M1324.7 291.5h0M1364.7 331.2h0M1648.8 361h0M1211.6 311.4h0M1314.3 286.1h0M1465.3 318.1h0M1631.6 347h0M1604.1 331.1h0M1316.5 284.8h0M1275.1 271.6h0M1294.8 272.7h0M1239.6 291.3h0M1461.8 317.7h0M1470.8 307.9h0M1484.8 289.3h0M1539 268.5h0M1604.9 320.7h0M1484.6 296.9h0M1394.9 341.5h0M1420.6 344.2h0" stroke="#005e94"/><path d="M1423.7 346.1h0M1571.8 290.5h0M1428.3 342.5h0M1202.4 324.1h0M1347.5 318.1h0" stroke="#001b43"/><path d="M1158.6 367.2h0M1407.7 350.6h0M1619.9 333.8h0M1422.9 340h0M1443.6 336.1h0M1506.3 273h0M1332.2 296.4h0M1658.1 364.3h0M1290.5 270.3h0M1669.5 361.9h0M1391.5 344.1h0M1296.5 272.9h0M1407.7 344.5h0M1229.4 297h0M1255.3 278.9h0M1429 338.4h0M1194.5 335.5h0M1596.4 312.7h0M1391.6 344.7h0M1550.2 275.8h0M1411.4 344.7h0M1206.5 317.5h0M1185.4 339h0M1288.4 274.6h0M1301.2 272.9h0M1373.1 335.7h0M1590.2 304.2h0M1304.5 278h0M1333.1 297.2h0M1451.6 330.6h0" stroke="#0d86ae"/><path d="M1289.3 268.7h0M1513.4 274.4h0" stroke="#00571b"/><path d="M1318.1 287.2h0M1626.1 346.8h0M1644.8 352.8h0" stroke="#002f36"/><path d="M1489.7 287.2h0M1366.5 329.4h0M1288.2 268.8h0M1252.6 282.2h0M1220.8 305.6h0M1385.6 345.8h0M1245.5 284.7h0M1584.3 303.7h0M1653.1 363.8h0M1184.7 341.8h0M1476.2 294.9h0M1189.7 335.5h0M1159.7 367.6h0M1363.3 327.7h0M1630.3 340.7h0M1637.2 348.5h0M1380 339.2h0M1346.4 311.9h0M1550.6 277.8h0M1440.6 327.4h0" stroke="#0072a1"/><path d="M1315.5 284.4h0M1615.1 331.7h0M1616.1 334.2h0M1293.4 273.2h0M1164.4 353.5h0M1525.4 271.1h0M1431.5 334.2h0M1661.4 367.8h0M1321.8 293h0M1641.7 358.9h0M1350.7 316.9h0M1450.1 326.6h0M1292 272.7h0M1363.1 325.9h0M1416.2 336.3h0M1346.1 311.4h0M1520.2 276.5h0M1308.1 278.3h0M1556.2 277.5h0M1356.1 318.4h0M1273.2 263.7h0M1628.2 348.9h0M1227.9 299.4h0M1489.1 293.6h0M1510 279.6h0M1579.7 299.7h0M1258.7 278.4h0M1238.6 285.3h0M1616.6 334.5h0M1340.8 311.6h0" stroke="#369abc"/><path d="M1381.3 339.1h0M1234.8 288.1h0M1620.8 340.3h0M1431.6 334.5h0M1413.5 346.1h0M1389.2 349.3h0M1516.5 271.3h0M1421 338.2h0M1464 315.6h0M1608.2 330.1h0M1196.7 324.6h0M1645.7 358.4h0M1254.4 287.8h0M1554.7 282.8h0M1160.4 356.9h0M1636 346.6h0M1346.1 314.7h0M1518.9 274.7h0" stroke="#5eaec9"/><path d="M1208.8 315h0M1396 341.2h0M1187.7 341.6h0M1553.5 281h0M1462 319.5h0M1403.6 342.6h0M1624.3 339h0M1314 281.6h0M1369.8 325.8h0M1278.6 274.7h0M1176.6 352.2h0M1275.7 270.4h0M1499 282.6h0M1234.3 297.2h0M1455 322.8h0M1558.4 273.5h0M1440.8 335.5h0M1489.6 290.2h0M1353.3 314.5h0M1304.4 276.1h0M1655.4 358.5h0M1208.9 322.4h0M1465.2 312.9h0M1173.7 355.5h0M1171.8 352.7h0M1449.8 328h0M1153.6 365h0M1670 367.2h0M1515.5 272.4h0M1218.9 306.6h0M1537.3 277.5h0" stroke="#004a86"/><path d="M1296.1 277.8h0M1203.9 320.2h0M1411.3 344.8h0" stroke="#004328"/><path d="M1337.7 298.6h0M1250.2 286.5h0M1636.4 348.4h0M1551.5 271.7h0M1477.3 298.8h0M1264.4 271.6h0M1294.7 272.2h0" stroke="#d7ebf2"/><path d="M1361.8 318.7h0M1416.9 340.7h0M1661 361.9h0M1563.3 280.1h0M1611.2 334.2h0M1350.5 317.7h0" stroke="#000751"/><path d="M1542.3 274.9h0M1641.7 354.4h0M1275.3 274.8h0M1665.5 364.7h0M1289.6 273.3h0M1444.9 334.4h0M1505.8 279.5h0M1559.3 285.5h0M1481.6 294.6h0M1356.1 320.7h0M1264.5 275.4h0M1170.9 362.5h0M1259.3 276.3h0M1529.8 273.9h0M1301.9 281.9h0M1395.1 345.8h0M1522.3 271.9h0M1471.1 309.2h0M1155.9 366.7h0M1178.3 352h0M1552 279.4h0" stroke="#86c3d7"/><path d="M1243.7 290.2h0M1194.3 334.4h0M1166.4 361.4h0M1553.4 286.8h0M1314.7 288.6h0M1442 337.2h0M1471.1 309.4h0M1569.9 284.4h0M1495 284h0" stroke="#000d5e"/><path d="M1286.2 277.5h0M1240 290.5h0M1240.3 284.7h0M1484.4 293.8h0M1374.2 329.9h0M1219.6 308.1h0M1211.1 314.7h0M1541.2 266.5h0M1665.1 368.5h0M1337 299.5h0M1272.8 271.1h0M1309.8 276.7h0M1469 307.1h0M1167.8 351.2h0M1289.7 274.1h0M1599.3 316.9h0M1338.9 303.3h0M1321.7 281.7h0M1621.9 341.4h0M1286.2 273.2h0M1529.1 270.7h0M1409.7 346h0M1227.2 299.6h0M1597 314h0M1646.4 353.2h0M1487.9 292.3h0M1529.2 275.3h0" stroke="#00226b"/><path d="M1580.2 287.3h0M1652.2 361.4h0M1279.8 269h0M1155.6 360.9h0M1595.9 313.2h0M1527.4 268.5h0M1479 302.7h0M1361.7 320.7h0M1554.8 281.9h0M1178 352.5h0M1259 277.6h0M1616.3 335.6h0M1628.6 350.8h0M1192.8 333.9h0M1566.6 285.3h0M1350.3 317.9h0M1342.2 299.4h0M1541 266.8h0M1583.9 301.2h0M1199.4 329.2h0M1510.1 274.8h0" stroke="#003679"/><path d="M1257.1 280.1h0M1307.3 278.4h0M1429.3 345.3h0M1522.6 276h0M1299.9 268.3h0M1238.5 290.8h0M1416.2 350.3h0M1322.9 289.9h0M1297.6 279.7h0M1491.7 288.4h0M1504 280.1h0M1518.7 279.7h0M1579.4 304.3h0M1543.1 273.6h0M1281.5 272.4h0" stroke="#aed7e4"/><path d="M1325.9 290h0M1475.7 303.3h0M1183.4 337.5h0M1440.2 336.8h0M1301.3 275.7h0M1487.4 292.1h0M1535.3 269.1h0M1199.6 330.5h0M1241.7 287h0M1192.7 331.7h0M1543.4 273.6h0M1569 284.1h0M1175.8 348h0M1569.3 291.2h0M1288.5 273.1h0M1308.5 278.5h0M1290.4 274.3h0M1325.6 287.1h0M1564.8 276.3h0M1552 279.4h0M1281.6 270.6h0M1466.7 317.6h0M1199 330.9h0M1260 279.8h0M1600 316.8h0M1415.8 346.3h0M1156 358.8h0M1280.7 267.2h0M1551.5 278.6h0" stroke="#005e94"/><path d="M1302 272.7h0M1469 309.3h0" stroke="#000751"/><path d="M1620.7 334.2h0" stroke="#002f36"/><path d="M1374.8 342h0" stroke="#006b0d"/><path d="M1352.8 314.8h0M1427.6 340.6h0M1472.4 302.3h0M1443.4 334.1h0M1192.3 341h0M1607 327.5h0M1396.1 341.4h0M1497.6 289.1h0M1658.4 365.5h0M1464.8 310.3h0M1500 280.4h0M1426.9 342h0M1488.7 289.3h0M1422.9 343.4h0M1204.5 323.3h0M1386.9 333.1h0M1638.8 353.2h0M1204.5 321.9h0M1366.5 326.6h0M1614.9 335.8h0M1413.4 345.3h0M1330.1 301.1h0M1152.1 362.3h0M1440.3 334.9h0M1453.9 324.1h0" stroke="#0d86ae"/><path d="M1317.7 289.9h0M1662.7 366h0M1159.4 363.4h0M1295.4 271.7h0M1625.1 339.4h0M1593.1 310.6h0M1289.3 266.5h0M1564.1 288.6h0M1280 263.9h0M1437.7 337.3h0M1510.3 278.1h0M1192.7 337.1h0M1639.8 357.6h0M1660.3 364.1h0M1171.9 354.2h0M1518.2 275.4h0M1308.7 279.4h0M1352.6 319.5h0M1556 282.1h0M1630 348.2h0M1482.7 291.4h0M1490.7 291.3h0M1533.9 271.8h0M1162.1 363.2h0M1530.3 276.4h0M1576.6 288.4h0M1477.8 298.3h0M1268.2 271.1h0M1375.5 334.3h0M1407.7 345.2h0M1660.5 361.3h0M1374.5 335.8h0M1539.6 272.5h0M1520.8 273.8h0M1248.4 282.2h0M1279.5 272.4h0M1461 317.3h0M1187.6 342.3h0M1259.6 271.6h0M1202.8 323.6h0M1363.8 325.8h0M1483 294.7h0M1490 296.9h0M1421.4 348.9h0M1412.3 343.2h0M1460.7 312.2h0" stroke="#86c3d7"/><path d="M1404.8 346.6h0M1291.7 274.3h0M1299.8 272.9h0M1170.6 355.5h0M1457.6 319.9h0M1518.5 269.4h0M1639 355.5h0M1169.2 356.1h0M1217.3 306.6h0M1641.4 355.3h0M1308 284h0M1463.1 310.8h0M1273.1 272.1h0M1631.1 342.6h0M1572 293.2h0M1176.6 350.4h0M1510.7 271.8h0M1361.8 324.8h0M1194.1 330.3h0M1326.1 289.6h0M1390.1 345.3h0M1198.2 332h0M1524.9 268.1h0M1265.6 266.2h0" stroke="#aed7e4"/><path d="M1644 359.9h0M1311.3 277.1h0M1159.4 367h0M1557.3 279.6h0M1488.7 294h0M1426.5 344.8h0M1305.7 278.3h0M1525.9 276.1h0M1494.5 287h0M1482.3 294.9h0M1394.9 347.3h0M1353.9 320.6h0M1613 335h0" stroke="#003679"/><path d="M1209.6 315.5h0M1378.3 336h0M1217.5 304.8h0M1437.5 342.2h0M1493.9 290.2h0M1441.3 332.5h0M1555.3 279.2h0M1658.3 358.3h0M1531.3 267.1h0M1449.1 334.7h0M1177.6 343.2h0M1323.9 286.1h0" stroke="#000d5e"/><path d="M1539.5 268h0M1466.8 320h0M1292.5 264.9h0M1642.7 360.7h0M1357.9 315.9h0M1219.5 307.1h0M1336.1 300.1h0M1513.1 271.2h0M1353 316.6h0M1482.2 291h0M1644.1 355h0M1153.8 362.6h0M1596.2 315.7h0M1472 309.3h0M1294.2 268.9h0M1279.5 268.5h0M1230.2 295h0M1255.8 278.3h0M1301.7 276.5h0" stroke="#0072a1"/><path d="M1318.7 287.5h0M1456.6 319.9h0M1245.4 282.6h0M1309.3 278.5h0M1458.8 308.5h0M1294.1 275.1h0M1498.5 282.4h0M1209.1 317.7h0M1492 288.7h0M1662.5 366.6h0M1201.6 327.5h0M1564.4 287.2h0M1507 278.4h0M1477.4 300h0M1425.9 343.2h0M1514.2 271.4h0M1622.2 339.1h0M1174.6 347.6h0M1517.1 271.8h0M1265.7 271.3h0M1219.5 305.9h0M1581.3 303.6h0M1475.3 301.6h0M1578.2 295.8h0M1531.7 274.3h0" stroke="#005e94"/><path d="M1634.9 350.5h0M1617.1 328.6h0M1445.9 331.7h0M1258 280.2h0" stroke="#00226b"/><path d="M1277 269.3h0M1462.2 312.4h0M1207.6 313.3h0M1516.7 275.8h0M1444.9 323.7h0M1535.6 270.2h0M1254.1 275.9h0M1168.3 357h0M1306.5 278.6h0M1315.2 285.6h0M1488.7 290.7h0M1412.9 344.5h0M1460.1 315.3h0M1199 329.6h0M1412.4 343.4h0M1505.5 278h0M1490.8 288.5h0M1481.7 297.9h0M1445.9 322.1h0M1534.1 270h0" stroke="#d7ebf2"/><path d="M1415 345.4h0M1632.7 356.5h0M1413.6 342.2h0M1297.1 265.4h0M1300.1 275.5h0M1270.6 276.2h0M1625.4 334.5h0M1291.3 268.6h0M1606.9 322.5h0M1495.8 283h0M1660 364.4h0M1650.1 357.1h0M1635.4 352.7h0M1597.8 310.1h0M1487.3 289.1h0M1564.2 281.5h0M1585 297.1h0M1267.3 268.6h0M1432.8 337.7h0M1448.3 325.4h0M1263.5 278.5h0M1261 273.2h0M1317.7 279.7h0M1548.4 278.5h0M1521.3 275.3h0M1458.8 312.9h0M1211.5 313.9h0M1257.1 275h0M1363.9 329.2h0M1523.7 272.8h0M1333.2 303.9h0M1201.3 328.3h0M1559.2 284.2h0M1350.3 317.6h0M1565.8 286.7h0M1403.3 348.2h0M1658.2 363.4h0" stroke="#5eaec9"/><path d="M1459.8 317.8h0M1326.5 295.9h0M1482.5 297.2h0M1314.3 281.7h0M1240.7 286.3h0M1220.2 307.5h0M1360.3 321.7h0M1416.9 349.4h0M1467.5 310.2h0M1626 341.8h0M1371 333.4h0M1280.5 271.7h0M1636 356.9h0M1248.6 285.8h0M1629.1 348.9h0M1512.3 275.9h0M1510.5 274.2h0M1214.3 308.9h0M1446.3 330.2h0M1655.9 361.5h0M1378.6 334.3h0M1284.3 266h0M1516.2 273.9h0M1391.7 348.7h0M1558.4 280h0M1160.4 364.2h0M1370.2 334.2h0" stroke="#369abc"/><path d="M1607 322.7h0M1560.3 285.6h0M1517.8 272h0M1176.1 353.5h0M1271.2 276.4h0M1167.5 356.3h0M1285.4 270.9h0M1640 360h0M1458.5 321.5h0M1155.9 365h0M1642.8 361h0M1540.4 272.7h0M1512.3 276h0M1427.2 345.6h0M1174.8 349.9h0M1247 287.2h0M1279.4 272.8h0M1546.7 266.5h0M1322.3 292.7h0M1221.8 307.6h0" stroke="#004a86"/><path d="M1331.1 294.5h0" stroke="#004328"/><path d="M1625.9 341.5h0M1350.6 319.9h0M1655.2 361.9h0M1366.1 328.8h0M1587.8 304.2h0M1231.1 300.1h0M1387.8 338h0M1451 327h0M1299.9 272.1h0M1523.2 268.9h0M1276.7 267.6h0M1219.4 310.2h0M1409.3 348.4h0M1582 303.8h0M1256.2 279.3h0M1441.7 330h0M1625 339.3h0M1509.2 276.1h0M1282.9 275.9h0M1635.4 351.7h0M1539.9 277.7h0M1334.5 296.8h0M1377.8 335.4h0M1612.6 330.2h0M1445.4 331.5h0M1557.9 276.3h0M1557.4 279.3h0M1301.4 276.6h0M1584.2 297.6h0M1265.8 280.3h0M1608 325.9h0M1187.1 343.5h0M1642.6 363.6h0M1543.9 276.3h0M1455.9 325.2h0M1164.3 356.5h0M1225.2 303.7h0" stroke="#d7ebf2"/><path d="M1444.4 331.9h0M1491.1 287.9h0M1324 293.3h0M1616 335.5h0M1525.4 271.4h0M1525.9 274.2h0M1376.2 336.8h0M1663.2 373.1h0M1264.9 274.2h0M1662.8 360.7h0M1484.9 295.3h0M1276.2 269.7h0M1642.7 357.8h0M1195.6 339.1h0M1167.1 364.6h0M1154 361.3h0M1191.8 340.8h0M1352.5 322.8h0" stroke="#0d86ae"/><path d="M1292.2 274.2h0" stroke="#002f36"/><path d="M1357.1 320.1h0M1516 270.9h0M1167.2 357.8h0M1198.7 325.3h0M1372.2 333.3h0M1656 357.5h0M1334.8 299.8h0M1573.4 288.2h0M1403.7 349.9h0M1416.7 345.5h0M1476.6 295.8h0M1244.3 285.6h0M1299.3 275.1h0M1197.8 327.1h0M1654.5 365.4h0M1163.2 357.5h0M1524.1 269.3h0M1228.4 291.5h0M1575.8 292h0M1268 275.3h0M1499 286.3h0M1419.3 344.5h0" stroke="#005e94"/><path d="M1225.3 300.5h0M1505.3 274.6h0M1569.3 292.6h0M1589.8 302.6h0M1494.7 285.8h0M1404.7 346.2h0M1169.9 362.3h0M1542 266.7h0M1377.6 339.4h0M1174.3 356h0M1656.8 355.2h0M1311.6 279.7h0M1652.8 359.5h0M1542.9 277.5h0M1500.1 275.9h0M1496.3 283.9h0M1161.9 355.1h0M1229.9 295h0M1378.8 337.8h0M1512.1 271.3h0M1534.3 265.1h0M1492 295.6h0M1431.8 343.1h0M1518.1 275.3h0M1547.5 273h0M1182.4 347.1h0M1621.5 340.6h0M1395.5 342.8h0M1514.9 267.1h0M1183.6 346.6h0M1342.3 310h0M1478.9 301.5h0M1198.9 335.8h0M1347.4 312.9h0M1591.7 301h0M1360 335.6h0M1153.6 367.5h0M1247.4 281.9h0M1427.4 341.4h0M1322.4 287.8h0" stroke="#5eaec9"/><path d="M1207 317.9h0" stroke="#001b43"/><path d="M1370.8 331.3h0" stroke="#000d5e"/><path d="M1508.4 283.7h0M1624.6 349.4h0M1660.7 364.7h0M1656.7 359.7h0M1614.1 325.7h0M1573.8 293.4h0M1394.3 336.8h0M1431.1 341.8h0M1397.3 350.1h0M1530.4 272.9h0M1301.3 272.9h0M1182.5 348.7h0M1350.7 315.6h0M1456.9 324.2h0M1657.3 374.4h0M1550.2 279.3h0M1560.2 282.2h0M1199.3 322.7h0M1542.6 275.5h0M1356.5 320.5h0M1661.6 364.5h0M1274.4 273h0M1597.7 316.8h0M1452.2 325.8h0M1468.4 317.4h0M1433.6 338.8h0M1338.9 297.8h0M1266.9 277.5h0M1402.6 345h0M1454 316.4h0M1665.1 362.8h0M1177.5 354.5h0M1468.4 306.9h0" stroke="#369abc"/><path d="M1539.7 276.9h0M1569.4 290.8h0M1630.8 348.2h0M1172.1 348.8h0M1362.8 331.2h0M1497.3 286.3h0M1180.5 345.6h0M1350.8 317.8h0M1617.5 337.6h0M1366.3 328.1h0M1390.4 340.8h0M1321.6 290.8h0M1223.7 308.4h0M1495.2 289.9h0M1586.8 308.9h0M1205.9 320h0M1572.1 286.1h0M1264.8 276.7h0M1244.3 290.1h0" stroke="#0072a1"/><path d="M1591.9 311.4h0M1618 332.3h0M1312 284h0M1417.4 342.7h0M1569.8 290.4h0M1399.2 349.7h0M1298.8 274.8h0M1513.5 277.4h0M1263.2 271.8h0M1515.7 273.1h0M1257.8 270.8h0M1577.6 294.2h0M1599.5 319.5h0" stroke="#003679"/><path d="M1485.9 294.6h0M1597.7 314.2h0M1633.2 343.2h0M1371 333h0M1331.2 297.7h0M1612.4 328.8h0M1306.3 277.1h0M1369.5 331.3h0M1545.9 274.4h0M1465.7 315.8h0M1373.3 334.7h0M1245.3 287.4h0M1642.2 357.8h0M1191.3 342.2h0M1593.5 308h0M1265 273.3h0M1499.1 282.3h0M1193.2 331.7h0M1272 272.1h0M1634.2 352.6h0M1156.5 359.5h0M1658.3 361.7h0M1459.1 319.9h0M1392.9 347.4h0M1223.3 306.1h0M1185.4 354.4h0M1169.8 355.4h0M1178.7 357h0M1298.9 272.7h0M1400.4 339.7h0M1596.6 314.8h0M1633.8 347.4h0M1633.4 348.7h0M1445.5 334.3h0M1217.1 307.2h0M1504.9 284.4h0M1646 360.5h0M1223.3 311.1h0M1513.1 273.4h0" stroke="#86c3d7"/><path d="M1397 343.5h0M1505.7 283.9h0M1535.2 268.5h0M1539.1 272.8h0M1260.4 272.9h0M1501.8 280.2h0M1417.5 348.9h0M1154.8 359.5h0M1469.6 310.4h0M1650.3 367.9h0M1176 346.6h0M1315.6 292h0M1440.2 330.6h0M1494.5 289.5h0M1356.2 321.8h0M1381.7 346.5h0M1218.5 312.6h0M1404.8 345.6h0M1366.1 331h0M1511 272.2h0M1505.4 272.6h0M1557.7 275.4h0M1579.5 303.4h0M1621.4 339.9h0M1494.3 285.4h0M1470.8 305.9h0M1413.3 343.5h0M1184.1 345.1h0M1312.9 280.7h0M1395.4 340.7h0M1310.3 283.5h0M1185 347h0M1557.5 282h0M1610.7 324.3h0M1185.3 345.2h0M1588.8 302.3h0M1617.8 334.5h0M1625.9 337.4h0M1584.3 297.6h0M1578.8 295.5h0M1481.6 300h0M1160.1 355.4h0M1451.9 326.9h0" stroke="#aed7e4"/><path d="M1558.7 283.9h0M1642.1 358.9h0M1564.8 290.9h0M1362.5 328.9h0M1519.9 268h0M1577.6 292.9h0" stroke="#004a86"/><path d="M1666.7 369.5h0M1294.9 273.2h0M1456.7 320.3h0M1205.7 331.2h0" stroke="#00226b"/><path d="M1460 314h0M1476.5 296.7h0M1195.3 337.1h0M1463 319.5h0M1452.3 328.3h0M1435.6 332.1h0M1599.9 319.9h0M1346.5 311.4h0M1301.9 274.2h0M1290.1 269.2h0M1655 362.4h0M1602.9 319.3h0M1313.9 282.9h0M1246.4 282.3h0M1663.7 367.8h0M1620.1 336.5h0M1347.8 314.7h0M1606.8 319.2h0M1341.2 301.2h0M1519.2 274h0M1585.2 307.8h0M1168 359.5h0M1572.8 290.2h0M1378.2 337.2h0M1433.7 340.2h0M1497.6 285.2h0M1281.5 269.7h0M1546 274.3h0M1342.8 308h0M1533.3 274.4h0M1188.1 340.3h0" stroke="#d7ebf2"/><path d="M1224.4 298.5h0M1169.1 353.3h0M1343.1 309.9h0M1349.6 313.7h0M1609.6 328.7h0M1589.4 302.9h0M1632 346.3h0M1788.6 272.2h0M1764.6 284.1h0M1772.3 281.1h0M1804.7 271.5h0M1690.1 357h0M1712.5 333.5h0M1731.1 318.3h0" stroke="#0d86ae"/><path d="M1629.1 345.6h0M1597.9 310.9h0M1348 316.2h0M1194.6 334.7h0M1499.7 283.6h0M1587.6 307.2h0M1264.3 274.4h0M1234.9 287.8h0M1655 363.3h0M1446.6 326.5h0M1433 338.5h0M1256.4 281.2h0M1341.8 309h0M1453.5 321.9h0M1333.6 298.8h0M1167.8 359.6h0M1650.1 362h0M1288.2 270.9h0M1257.6 278.5h0M1785.8 264.8h0" stroke="#aed7e4"/><path d="M1706.3 344.8h0M1733.9 312.9h0M1763.7 288.7h0M1693.1 358.4h0" stroke="#008000"/><path d="M1632.5 351.3h0M1265.8 267.4h0M1612.6 327h0M1393.2 346.8h0M1660.9 359.7h0M1215.5 310.5h0M1503.9 278.2h0M1295.7 273.5h0M1563.4 290h0M1772.6 279.7h0M1734.6 309.9h0" stroke="#5eaec9"/><path d="M1795.3 274.2h0M1694.7 359h0M1687.4 356.4h0M1680.8 364.8h0M1697.2 344.6h0M1754.7 294.2h0" stroke="#000751"/><path d="M1800.3 277.1h0M1705.9 339.3h0M1763.1 283.5h0M1687 354.7h0M1735.8 311h0M1754.9 291.1h0M1714.3 329.7h0M1699.8 346.4h0M1779.1 270.1h0M1683.7 361.1h0" stroke="#006b0d"/><path d="M1191.2 335.2h0M1477.8 299.8h0M1398.6 349.3h0M1636.1 353.9h0M1339.3 308.6h0M1312 279.5h0M1676.4 362.7h0M1677.8 358.2h0M1774.1 283.1h0" stroke="#369abc"/><path d="M1773.2 303.7h0M1756.2 250.8h0M1775.6 274.3h0M1772.7 276.4h0M1772.5 276.9h0M1704.4 343.1h0M1748 298.1h0M1745.7 306.3h0M1714.8 339h0M1750.8 296.5h0M1743.1 303.2h0M1687.1 359.6h0M1799 271h0M1759 293h0M1782.7 275.2h0M1700 350.3h0M1795.4 261.4h0M1755.8 289.2h0M1744.7 301.6h0M1757.3 292h0M1689.6 358.2h0M1754.5 298.2h0M1704.1 346.8h0M1773 288.8h0M1726.6 324.5h0" stroke="#000d5e"/><path d="M1714.9 345.1h0M1721.9 346.4h0M1686 373.2h0M1784.6 272.5h0M1748.4 301.5h0M1734 310.7h0M1765.7 287.2h0M1736.7 309.5h0M1694.5 353.1h0M1687.7 357.7h0M1779.5 277.3h0M1713.7 331.6h0M1711.5 333.8h0M1733.4 309.6h0M1793.6 273.4h0M1731.4 319.3h0M1806.8 273.4h0" stroke="#00571b"/><path d="M1732.2 257.8h0M1790 232.2h0M1737.4 287.3h0M1732.6 333.8h0M1673.9 358.9h0M1765.5 282.8h0M1722.4 322.8h0M1780.2 271.3h0M1746.2 297.8h0M1767.9 281.6h0M1775.5 280.9h0M1775.9 280.1h0" stroke="#001b43"/><path d="M1155.6 362.2h0M1429.9 339.8h0M1553.4 279.3h0M1799.2 272.2h0M1730 319.8h0M1679.8 358.8h0M1754.6 291.8h0M1767.7 279.3h0" stroke="#005e94"/><path d="M1227.8 295.7h0M1687.4 334.9h0M1748.3 316.9h0M1788.6 258.8h0M1737.2 290.3h0M1753.5 291.6h0M1727.5 324.7h0M1771.9 282h0M1770.7 278.7h0M1747.7 300.5h0M1718.3 332.8h0M1678.9 361h0M1766.7 286.5h0M1777.2 274.2h0M1717.8 331.8h0M1794.6 273.1h0M1765 285.3h0M1695.7 348.8h0M1725.1 320h0M1729.2 314.5h0" stroke="#003679"/><path d="M1259.4 284.5h0M1700.3 331.8h0M1760.5 271.3h0M1727.4 281.4h0M1797.1 294.8h0M1771.4 304.8h0M1692.9 352.6h0M1716.1 329.2h0M1690.5 359.3h0M1734.5 309.9h0M1787.4 276.1h0M1702.6 347.7h0M1760.7 288.8h0M1807.3 269.1h0M1747.8 299.8h0M1727.6 316h0M1699.9 342.2h0M1677 361.9h0M1784.5 274h0M1730 315.7h0M1735.7 309.3h0M1678.8 361.9h0M1743.6 310.1h0" stroke="#00226b"/><path d="M1801.9 225.4h0M1806 285.9h0M1778.9 256.9h0M1717.8 310.7h0M1721.6 328.4h0M1758.3 290.7h0M1763.7 284.7h0M1769.4 280.4h0M1780.2 277.5h0M1756.9 298.5h0M1753.4 294.5h0M1744.9 305.1h0M1696.2 355.7h0M1731.7 308.4h0M1756 285.4h0" stroke="#002f36"/><path d="M1243.4 295.2h0M1364.2 328.2h0M1485.4 290.6h0M1741.8 313h0M1739 310.9h0M1690.3 354.8h0M1673.3 367.1h0M1783.8 274.9h0M1785.5 275.4h0" stroke="#0072a1"/><path d="M1658.5 366.3h0M1312.1 279.5h0M1730.4 315.4h0M1717.7 328.6h0M1803.7 267.2h0M1782.7 277.6h0M1718.3 335.1h0M1758.4 288.9h0M1766.4 283.7h0M1736 311.3h0M1712.7 334.8h0" stroke="#004a86"/><path d="M1708.5 352.5h0M1777.6 297h0M1698.6 346.5h0M1762.8 281.8h0M1723 321.6h0M1678.5 359.7h0M1691.4 355.2h0M1683.8 359.1h0M1720 332.3h0" stroke="#004328"/><path d="M1313.6 288.8h0M1607.1 317.2h0M1601.8 315h0M1329.6 289.6h0M1658.6 367.1h0M1638.9 352.7h0M1443.9 328.3h0M1184.6 341h0M1327.4 292.3h0M1335.6 303.7h0M1617.5 335.1h0M1182.4 346.4h0M1464.9 313.2h0M1512.7 271.5h0M1197.6 328h0M1443.8 330h0M1166.4 361.8h0M1305.6 280.8h0M1239.8 287h0M1185.3 338.3h0M1309.9 282h0M1765.4 289h0M1772.8 282.5h0" stroke="#86c3d7"/><path d="M1685.8 359h0M1724.1 320.2h0" stroke="#004328"/><path d="M1672.6 359h0M1795.5 274.8h0M1784.7 275.4h0M1691.1 362.5h0M1779.5 276.3h0M1676.1 366.7h0M1698.5 352h0M1679.6 363.4h0M1800.2 263.9h0M1712.9 337.1h0M1692.1 354.2h0M1682.3 363.2h0M1788.4 271.1h0M1768.6 282.2h0M1799.7 272.4h0M1707.8 342.3h0M1779.8 271.6h0M1723 323.6h0M1765.5 287.4h0M1711.5 342.2h0M1785.2 273.3h0M1713.4 331.7h0M1792.2 272.1h0M1676.7 359.5h0M1743.5 306.1h0M1705.6 354.4h0M1690 355.4h0M1698.9 357h0M1737.3 307.2h0M1743.5 311.1h0M1704.8 341h0M1702.6 346.4h0M1717.8 328h0M1686.6 361.8h0M1760 287h0M1705.5 338.3h0" stroke="#86c3d7"/><path d="M1776.7 275.4h0M1770.4 286.5h0M1784.6 271.6h0M1797.2 269.3h0M1727.8 313.3h0M1774.3 275.9h0M1688.5 357h0M1719.2 329.6h0M1751.3 300.1h0M1796.9 267.6h0M1739.6 310.2h0M1776.4 279.3h0M1803.1 275.9h0M1786 280.3h0M1707.3 343.5h0M1684.5 356.5h0M1745.4 303.7h0M1715.5 337.1h0M1766.6 282.3h0M1688.2 359.5h0M1801.7 269.7h0M1708.3 340.3h0" stroke="#d7ebf2"/><path d="M1734.2 316.1h0" stroke="#006b0d"/><path d="M1803.1 269.9h0M1779.3 278.2h0M1684.6 353.5h0M1793.4 263.7h0M1748.1 299.4h0M1778.9 278.4h0M1758.8 285.3h0M1760.9 286.3h0M1740.4 307.5h0M1800.7 271.7h0M1768.8 285.8h0M1734.5 308.9h0M1804.5 266h0M1680.6 364.2h0M1702.7 348.7h0M1719.5 322.7h0M1794.6 273h0M1787.1 277.5h0M1697.7 354.5h0M1711.4 335.2h0" stroke="#369abc"/><path d="M1731.8 311.4h0M1795.3 271.6h0M1759.8 291.3h0M1703.6 337.5h0M1719.8 330.5h0M1761.9 287h0M1712.9 331.7h0M1696 348h0M1801.8 270.6h0M1719.2 330.9h0M1780.2 279.8h0M1676.2 358.8h0M1800.9 267.2h0M1765.6 282.6h0M1729.3 317.7h0M1721.8 327.5h0M1694.8 347.6h0M1785.9 271.3h0M1739.7 305.9h0M1687.4 357.8h0M1718.9 325.3h0M1764.5 285.6h0M1718 327.1h0M1683.4 357.5h0M1748.6 291.5h0M1788.2 275.3h0M1675.8 362.2h0" stroke="#005e94"/><path d="M1690 356.7h0M1712.7 334.8h0M1723.3 326.1h0M1714.1 328.3h0M1795 268.4h0M1783 278.9h0M1683.3 362.5h0M1772.8 282.2h0M1741 305.6h0M1765.7 284.7h0M1704.9 341.8h0M1709.9 335.5h0M1679.9 367.6h0M1739.7 307.1h0M1674 362.6h0M1799.7 268.5h0M1750.4 295h0M1776 278.3h0M1692.3 348.8h0M1700.7 345.6h0M1743.9 308.4h0M1726.1 320h0M1785 276.7h0M1764.5 290.1h0M1763.6 295.2h0" stroke="#0072a1"/><path d="M1769.6 277.2h0M1746.4 304.7h0M1694.3 345.6h0M1729 315h0M1707.9 341.6h0M1798.8 274.7h0M1696.8 352.2h0M1795.9 270.4h0M1754.5 297.2h0M1729.1 322.4h0M1693.9 355.5h0M1692 352.7h0M1673.8 365h0M1739.1 306.6h0M1696.3 353.5h0M1791.4 276.4h0M1687.7 356.3h0M1805.6 270.9h0M1676.1 365h0M1695 349.9h0M1767.2 287.2h0M1799.6 272.8h0M1742 307.6h0" stroke="#004a86"/><path d="M1749.8 296h0M1762.5 288.1h0M1692.5 355.5h0M1755 288.1h0M1716.9 324.6h0M1774.6 287.8h0M1680.6 356.9h0M1790.8 276.2h0M1787.5 268.6h0M1783.7 278.5h0M1781.2 273.2h0M1731.7 313.9h0M1777.3 275h0M1721.5 328.3h0M1745.5 300.5h0M1690.1 362.3h0M1694.5 356h0M1682.1 355.1h0M1750.1 295h0M1702.6 347.1h0M1703.8 346.6h0M1719.1 335.8h0M1673.8 367.5h0M1767.6 281.9h0M1786 267.4h0M1735.7 310.5h0" stroke="#5eaec9"/><path d="M1708.6 344.3h0" stroke="#002f36"/><path d="M1779.1 279.5h0M1718.4 328.4h0M1798.4 269.9h0M1722.6 324.1h0M1727.2 317.9h0" stroke="#001b43"/><path d="M1771.3 280.1h0M1756.5 286.1h0M1676.9 362.3h0M1722.9 317.5h0M1722.5 325.1h0M1800 269h0M1675.8 360.9h0M1698.2 352.5h0M1779.2 277.6h0M1713 333.9h0M1719.6 329.2h0M1679.6 367h0M1783.4 271.8h0M1778 270.8h0M1748 295.7h0" stroke="#003679"/><path d="M1759.8 299.5h0M1780.3 275.7h0M1678.8 367.2h0M1749.6 297h0M1775.5 278.9h0M1714.7 335.5h0M1726.7 317.5h0M1705.6 339h0M1712.5 341h0M1724.7 323.3h0M1724.7 321.9h0M1672.3 362.3h0M1785.1 274.2h0M1796.4 269.7h0M1715.8 339.1h0M1687.3 364.6h0M1674.2 361.3h0M1712 340.8h0M1744.6 298.5h0M1689.3 353.3h0" stroke="#0d86ae"/><path d="M1708.1 335.7h0M1782.8 273.8h0M1758.6 289.8h0M1691.4 350.3h0M1764.6 297.8h0" stroke="#000751"/><path d="M1791.6 262h0M1764.7 287.1h0M1765.4 287h0M1793.5 270h0M1763.9 290.2h0M1714.5 334.4h0M1686.6 361.4h0M1729.8 315.5h0M1737.7 304.8h0M1697.8 343.2h0" stroke="#000d5e"/><path d="M1806.4 277.5h0M1760.2 290.5h0M1760.5 284.7h0M1739.8 308.1h0M1731.3 314.7h0M1793 271.1h0M1688 351.2h0M1806.4 273.2h0M1747.4 299.6h0M1778.2 280.2h0M1725.9 331.2h0M1779.6 284.5h0" stroke="#00226b"/><path d="M1754.3 292.7h0M1701.5 347.3h0M1777.3 280.1h0M1758.7 290.8h0M1801.7 272.4h0M1690.8 355.5h0M1689.4 356.1h0M1737.5 306.6h0M1793.3 272.1h0M1696.8 350.4h0M1714.3 330.3h0M1718.4 332h0M1785.8 266.2h0M1780.6 272.9h0M1675 359.5h0M1696.2 346.6h0M1738.7 312.6h0M1704.3 345.1h0M1705.2 347h0M1705.5 345.2h0M1680.3 355.4h0M1714.8 334.7h0M1784.5 274.4h0M1755.1 287.8h0M1776.6 281.2h0M1688 359.6h0M1777.8 278.5h0" stroke="#aed7e4"/></g>
</g>
<rect x="1021.20" y="181.00" width="780.30" height="268.00" fill="none" stroke="#000" stroke-width="2.00"/>
<path d="M1046.81 449.00v-6.60M1046.81 181.00v6.60M1150.85 449.00v-6.60M1150.85 181.00v6.60M1254.89 449.00v-6.60M1254.89 181.00v6.60M1358.93 449.00v-6.60M1358.93 181.00v6.60M1462.97 449.00v-6.60M1462.97 181.00v6.60M1567.01 449.00v-6.60M1567.01 181.00v6.60M1671.05 449.00v-6.60M1671.05 181.00v6.60M1775.09 449.00v-6.60M1775.09 181.00v6.60" stroke="#000" stroke-width="1.90" fill="none"/>
<path d="M1021.20 444.00h6.60M1801.50 444.00h-6.60M1021.20 379.60h6.60M1801.50 379.60h-6.60M1021.20 315.20h6.60M1801.50 315.20h-6.60M1021.20 250.80h6.60M1801.50 250.80h-6.60M1021.20 186.40h6.60M1801.50 186.40h-6.60" stroke="#000" stroke-width="1.90" fill="none"/>
<text x="1017.30" y="450.90" text-anchor="end" font-size="18.30">0.8</text>
<text x="1017.30" y="386.50" text-anchor="end" font-size="18.30">0.9</text>
<text x="1017.30" y="322.10" text-anchor="end" font-size="18.30">1.0</text>
<text x="1017.30" y="257.70" text-anchor="end" font-size="18.30">1.1</text>
<text x="1017.30" y="193.30" text-anchor="end" font-size="18.30">1.2</text>
<text transform="translate(988.30 315.00) rotate(-90)" text-anchor="middle" font-size="18.20">Normalized Flux</text>
<rect x="56.05" y="449.00" width="129.84" height="267.90" fill="#e5e5e5"/>
<rect x="705.26" y="449.00" width="129.84" height="267.90" fill="#e5e5e5"/>
<clipPath id="cL3"><rect x="56.05" y="449.00" width="779.05" height="267.90"/></clipPath>
<g clip-path="url(#cL3)">
<g class="d" stroke="#e76f51" stroke-opacity="0.72"><path d="M53.5 547.7h0M90.9 556.2h0M152.2 536.1h0M206.7 516.4h0M261.5 523.4h0M304.8 544.2h0M361 555.3h0M413.9 540.8h0M467.6 521h0M521.3 520.1h0M550.2 536.2h0M601.2 554.8h0M661.7 545.6h0M713.9 518.1h0M761.9 519.5h0M818.6 540.9h0"/><path d="M56.1 548.5h0M93.2 557.8h0M160.8 534.1h0M209 516.8h0M262.9 523.9h0M307.3 546.5h0M363.5 553.9h0M420 539.7h0M469 516.3h0M523.3 522.4h0M558.4 540.9h0M602.5 554.4h0M664.3 539.2h0M715.7 521.1h0M765.6 517.7h0M820 544h0"/><path d="M59.2 550.4h0M99.3 556.5h0M162.4 533h0M211.9 515.1h0M265.4 524.6h0M310.6 549.7h0M377.8 552h0M421.6 539.3h0M475.9 518.7h0M524.9 517.8h0M560.4 539.2h0M603.9 555.8h0M668.9 539.8h0M723.1 518.7h0M766.8 515.9h0M821.4 541.9h0"/><path d="M60.6 552.4h0M100.6 557.7h0M164.3 530.7h0M213.8 520.1h0M267.9 526.3h0M313.3 551.7h0M380.4 550.3h0M422.9 538.7h0M477.6 519.8h0M529.7 524.4h0M572.9 547.7h0M610.2 556.2h0M671.6 536.1h0M726.1 516.4h0M780.9 523.4h0M824.1 544.2h0"/><path d="M65.3 548.9h0M105.3 553.7h0M169.6 528.5h0M223.2 518h0M269.3 523.1h0M317.1 553.1h0M382.6 548h0M440.3 527.6h0M479.8 515.8h0M531.5 524.1h0M575.4 548.5h0M612.6 557.8h0M680.2 534.1h0M728.4 516.8h0M782.2 523.9h0M826.7 546.5h0"/><path d="M67.3 553.9h0M120.7 551.1h0M173 529.2h0M227.3 515.1h0M270.6 524.4h0M331.4 555.9h0M386.5 546.1h0M442 528.9h0M482.8 515.4h0M532.8 526.2h0M578.6 550.4h0M618.6 556.5h0M681.7 533h0M731.3 515.1h0M784.8 524.6h0M829.9 549.7h0"/><path d="M69.5 553.2h0M124.8 552.2h0M174.9 523.9h0M230.2 518.2h0M272.3 533.8h0M334.8 555.9h0M395.2 545.9h0M443.9 528.9h0M485.7 516.1h0M534.9 525.5h0M579.9 552.4h0M620 557.7h0M683.7 530.7h0M733.1 520.1h0M787.3 526.3h0M832.6 551.7h0"/><path d="M73.8 550.9h0M129.2 548.2h0M178 526.2h0M234.9 516.5h0M278.8 529.8h0M343.4 556.8h0M396.5 548.8h0M447 527.1h0M497.3 513.4h0M541.5 532.9h0M584.7 548.9h0M624.7 553.7h0M688.9 528.5h0M742.6 518h0M788.7 523.1h0M836.5 553.1h0"/><path d="M80.3 554.2h0M137.1 546.9h0M180.9 522h0M238.8 517.3h0M285.3 532.7h0M345.7 554.7h0M405.6 545.5h0M449.4 524.3h0M500.6 517.2h0M543.8 533.2h0M586.7 553.9h0M640 551.1h0M692.4 529.2h0M746.7 515.1h0M789.9 524.4h0"/><path d="M81.8 554.8h0M142.3 545.6h0M194.5 518.1h0M242.5 519.5h0M299.2 540.9h0M347 556.1h0M408.3 544.7h0M450.9 525.8h0M503.5 512.8h0M545.7 535.8h0M588.9 553.2h0M644.1 552.2h0M694.3 523.9h0M749.6 518.2h0M791.6 533.8h0"/><path d="M83.1 554.4h0M144.9 539.2h0M196.4 521.1h0M246.2 517.7h0M300.6 544h0M348.5 558.2h0M411.4 542.2h0M452.7 523.4h0M508.4 514.4h0M547.3 536.8h0M593.1 550.9h0M648.5 548.2h0M697.3 526.2h0M754.3 516.5h0M798.1 529.8h0"/><path d="M84.5 555.8h0M149.5 539.8h0M203.8 518.7h0M247.5 515.9h0M302 541.9h0M358.6 549.4h0M412.5 542h0M457.3 523.9h0M513.2 518.7h0M548.6 536.3h0M599.7 554.2h0M656.5 546.9h0M700.3 522h0M758.2 517.3h0M804.7 532.7h0"/></g>
<g class="d" stroke="#f4a261" stroke-opacity="0.72"><path d="M53.5 570.5h0M112 583.5h0M158.6 568.3h0M217.1 548.8h0M269.5 543.5h0M319.6 577h0M371.4 577.8h0M427.5 564.8h0M481.1 539.5h0M530.1 554.9h0M586.1 577.1h0M638.3 565.6h0M687.2 554h0M741.7 550.9h0M792.6 556.8h0"/><path d="M59.6 574.9h0M116.4 579.8h0M165.9 553.5h0M219.4 547.7h0M270.6 554.2h0M326.6 578.7h0M376.6 572.2h0M432.8 558.6h0M479.9 549h0M537.8 564.8h0M587.7 569.8h0M640.5 568.3h0M692.1 545.2h0M749.7 538.4h0M802.3 559.6h0"/><path d="M66.7 577.1h0M119 565.6h0M167.8 554h0M222.3 550.9h0M273.3 556.8h0M331.4 580h0M384.5 577.1h0M437.2 556.4h0M490.2 536.4h0M538.9 559.9h0M589.8 567.3h0M642.4 578.7h0M697.1 565.2h0M748.6 534.4h0M801.4 562.3h0"/><path d="M68.3 569.8h0M121.1 568.3h0M172.7 545.2h0M230.3 538.4h0M282.9 559.6h0M330.7 568.7h0M388.5 574.8h0M436.5 555.3h0M495.3 545h0M547 559.6h0M596.9 569.8h0M649.8 570.4h0M700.6 546.4h0M757.7 541.5h0M806.6 563.3h0"/><path d="M70.4 567.3h0M123.1 578.7h0M177.7 565.2h0M229.3 534.4h0M282 562.3h0M339.1 583.9h0M391.6 566.4h0M443.9 559.3h0M495.8 543.3h0M547.4 555.7h0M601.3 586.7h0M653.1 569.1h0M707.4 548.3h0M758.8 548.4h0M810.9 561h0"/><path d="M77.5 569.8h0M130.4 570.4h0M181.3 546.4h0M238.3 541.5h0M287.3 563.3h0M341.8 573.1h0M393.9 572.8h0M445.5 542.4h0M501.3 534.2h0M553.5 557.4h0M604.5 572.1h0M659.9 565.3h0M711.9 558.3h0M766.1 536.2h0M816.8 569.4h0"/><path d="M81.9 586.7h0M133.7 569.1h0M188 548.3h0M239.4 548.4h0M291.6 561h0M343.6 574.2h0M398 576.5h0M454.8 544.7h0M504.2 537.7h0M555.6 555.6h0M609.5 584.8h0M661.4 570.3h0M714 539.5h0M767.1 545.5h0M825.2 564.2h0"/><path d="M85.1 572.1h0M140.5 565.3h0M192.6 558.3h0M246.7 536.2h0M297.5 569.4h0M354.5 581.9h0M402.8 565.9h0M456.6 547.1h0M509.2 551.9h0M559.2 562.9h0M614.9 580.5h0M668.6 555.2h0M723.4 546.4h0M776.2 555.4h0M823.3 574h0"/><path d="M90.1 584.8h0M142 570.3h0M194.7 539.5h0M247.7 545.5h0M305.9 564.2h0M354.7 571h0M407.4 567.9h0M457.6 546.3h0M516.1 549.9h0M566 568.3h0M619.5 575.1h0M670.6 564.4h0M724.2 545.6h0M777.7 557.5h0M834.1 569.2h0"/><path d="M95.5 580.5h0M149.2 555.2h0M204 546.4h0M256.8 555.4h0M303.9 574h0M361.1 592.7h0M412.3 568.7h0M467.6 558.6h0M520.2 546.3h0M568.1 564h0M624.6 585.3h0M674.3 556h0M731 544h0M779.6 546.7h0M833.5 571h0"/><path d="M100.2 575.1h0M151.2 564.4h0M204.8 545.6h0M258.3 557.5h0M314.8 569.2h0M365.9 577.5h0M416.3 560.9h0M471 538.7h0M522 549.3h0M572.9 570.5h0M631.4 583.5h0M677.9 568.3h0M736.5 548.8h0M788.8 543.5h0M838.9 577h0"/><path d="M105.2 585.3h0M154.9 556h0M211.6 544h0M260.2 546.7h0M314.2 571h0M366.7 578h0M420.2 566.6h0M471.5 549.5h0M529.4 546.3h0M579 574.9h0M635.8 579.8h0M685.3 553.5h0M738.8 547.7h0M790 554.2h0"/></g>
<g class="d" stroke="#e9c46a" stroke-opacity="0.72"><path d="M185.5 587.3h0M73 603.6h0M98.4 607h0M124.1 615.9h0M146.2 604.6h0M171.4 581.3h0M197.6 574.7h0M221.7 573.2h0M248.2 585.6h0M270.8 581.7h0M298.1 592.7h0M321.2 609.4h0M346.3 609.7h0M372.9 611h0M397 604.9h0M423 586.9h0M447.2 583.2h0M471.8 572.4h0M496.5 570h0M521.4 592.9h0M546.5 596.6h0M572.8 608.2h0M595.7 612.9h0M620.8 604.2h0M646.8 612.6h0M672 597.9h0M695.1 594.6h0M721.6 574.2h0M748.5 569.4h0M772.9 573.5h0M796.9 581.8h0M821.9 596.2h0"/><path d="M50 601.1h0M74.9 607.7h0M99.9 607.7h0M123.1 602.4h0M149.9 602.1h0M175.9 584.2h0M199.3 576.9h0M224.9 574h0M250.8 582h0M272.6 583.7h0M299.4 596.4h0M323.7 607.5h0M350 609.4h0M374 616h0M398.7 604.4h0M422.1 599.2h0M447.8 586.9h0M472.3 576.4h0M499.8 575h0M524 579.6h0M548.3 594.3h0M573.6 602.2h0M597.1 614.1h0M621.7 610.5h0M648.2 601.4h0M672.7 603.9h0M698.2 587.8h0M724.6 571.8h0M748.5 577.8h0M774.1 577.6h0M799.9 588h0M823.5 604.6h0"/><path d="M53.4 608.2h0M76.4 612.9h0M101.4 604.2h0M127.4 612.6h0M152.7 597.9h0M175.7 594.6h0M201.8 575.7h0M224.9 570.7h0M250.8 582.6h0M275 589.7h0M299.8 604.9h0M327.7 612.7h0M350.5 605.9h0M376.5 605.3h0M402.1 599.8h0M425.9 595.3h0M450.4 578.4h0M474.6 575.9h0M501.8 566.7h0M526.1 582.2h0M551.6 600.4h0M576 605.8h0M600.3 612h0M624.2 613.9h0M649.6 592.3h0M674.9 589.3h0M700.3 575.9h0M727.2 578.3h0M752.4 580h0M776.2 579.4h0M800.4 586h0M827.1 606.7h0"/><path d="M54.3 602.2h0M77.7 614.1h0M102.4 610.5h0M128.9 601.4h0M153.4 603.9h0M178.8 587.8h0M202.2 574.2h0M229.1 569.4h0M253.5 573.5h0M277.5 581.8h0M302.5 596.2h0M326.6 612h0M353.7 618h0M377.3 609.9h0M401.7 615h0M429.4 590.7h0M451.9 572.8h0M477 579.7h0M501.6 578.3h0M528.8 583.5h0M553.6 592.6h0M575.9 605.2h0M603.7 613.1h0M628 604.8h0M651.8 604.6h0M678.2 586.8h0M702.7 580.3h0M729.5 578h0M754.5 566.7h0M780 586.9h0M805.3 597.6h0M830.2 604.2h0"/><path d="M56.7 605.8h0M81 612h0M104.8 613.9h0M130.2 592.3h0M155.5 589.3h0M181 575.9h0M205.2 571.8h0M229.1 577.8h0M254.8 577.6h0M280.6 588h0M304.1 604.6h0M331.9 604.7h0M353.5 615h0M379.4 610.3h0M403.7 607.6h0M430.9 589.4h0M454.5 579.1h0M480.8 578.2h0M504.8 578.1h0M528.6 586.4h0M553.7 598.7h0M579.3 603.9h0M605.8 612.9h0M629.5 610.4h0M652.8 608.5h0M677.7 592.2h0M704.6 574.1h0M731 568.8h0M756.9 577.9h0M782.2 582.5h0M805.8 597.9h0M830.5 604.7h0"/><path d="M56.6 605.2h0M84.4 613.1h0M108.6 604.8h0M132.4 604.6h0M158.8 586.8h0M183.3 580.3h0M207.9 578.3h0M233 580h0M256.8 579.4h0M281 586h0M307.7 606.7h0M332.8 609.1h0M357.4 605.2h0M382.4 603.9h0M408.7 602.6h0M432.7 599.2h0M456.7 586h0M480.9 575h0M506.7 580.6h0M530.5 575.8h0M555.8 599.1h0M580.6 608.4h0M608 612h0M632.4 610h0M657.3 591.7h0M681 592.5h0M707.6 585.1h0M731.8 576.1h0M758.2 582.3h0M783.6 579h0M809.7 595.6h0M831.5 600h0"/><path d="M59.9 603.9h0M86.5 612.9h0M110.1 610.4h0M133.5 608.5h0M158.3 592.2h0M185.3 574.1h0M210.1 578h0M235.2 566.7h0M260.6 586.9h0M285.9 597.6h0M310.8 604.2h0M334.1 609.4h0M359.2 601.6h0M384.1 609.2h0M408 601.4h0M434.1 587.4h0M460.1 586.5h0M483.3 580.6h0M510 583.3h0M533.4 587.3h0M559.9 594.3h0M582.3 611.4h0M610 616.9h0M632.3 613.4h0M656.9 603.3h0M684.6 596.4h0M709.5 580.6h0M736 578h0M760.3 584.3h0M786.5 582.6h0M810.9 599.2h0M836.6 593.4h0"/><path d="M61.2 608.4h0M88.6 612h0M113.1 610h0M137.9 591.7h0M161.6 592.5h0M704.9 587.3h0M211.7 568.8h0M237.5 577.9h0M262.8 582.5h0M286.4 597.9h0M311.1 604.7h0M336.2 615.8h0M362.4 615.2h0M385.1 613.5h0M411.1 591.9h0M437.1 595.8h0M462 584.7h0M486.1 566.8h0M511.7 576.5h0M536.6 584.7h0M562 598.4h0M584.9 601.4h0M611 607.4h0M636.3 606.5h0M662.1 604.3h0M686.5 585.8h0M712.9 583h0M737.5 572.6h0M761.1 575.5h0M785.7 578h0M811.4 592.6h0M838.3 605.5h0"/><path d="M63 611.4h0M90.6 616.9h0M112.9 613.4h0M137.6 603.3h0M165.2 596.4h0M188.2 585.1h0M212.4 576.1h0M238.9 582.3h0M264.2 579h0M290.3 595.6h0M312.1 600h0M339.1 604.1h0M363.9 612.5h0M389.7 606.2h0M415 585.6h0M439 583.8h0M462.2 583.9h0M487.9 574.2h0M513.5 583.3h0M537.4 588.3h0M564.2 597.3h0M587.2 599h0M612.9 617h0M639 619h0M664.2 592h0M689 590.3h0M714.5 577.6h0M741.1 575.4h0M763.6 578.9h0M790.8 584.9h0M813.3 594.6h0M837.7 600.4h0"/><path d="M65.5 601.4h0M91.6 607.4h0M116.9 606.5h0M142.8 604.3h0M167.2 585.8h0M190.1 580.6h0M216.7 578h0M240.9 584.3h0M267.1 582.6h0M291.5 599.2h0M317.2 593.4h0M340 613.3h0M366.1 619.1h0M391.2 595.4h0M414.8 594.4h0M439.3 583.3h0M466.3 572.5h0M489.3 577.4h0M516.5 577.5h0M540.8 590.4h0M564.6 600.2h0M590 610.2h0M614 616.7h0M638.3 605.4h0M665.9 611h0M690.9 583.2h0M716.9 574.7h0M741.1 573.2h0M767.6 585.6h0M790.2 581.7h0M817.5 592.7h0M840.6 609.4h0"/><path d="M67.8 599h0M93.5 617h0M119.6 619h0M144.9 592h0M169.7 590.3h0M193.5 583h0M218.1 572.6h0M241.8 575.5h0M266.3 578h0M292.1 592.6h0M318.9 605.5h0M342.1 615.7h0M366.6 615.6h0M391.6 605.2h0M418.9 593.9h0M443.2 596.6h0M468.1 576h0M492.4 570.1h0M515.9 582h0M542.3 588.9h0M565.9 598.1h0M592.4 603.6h0M617.8 607h0M643.5 615.9h0M665.6 604.6h0M690.8 581.3h0M718.7 576.9h0M744.3 574h0M770.1 582h0M792 583.7h0M818.7 596.4h0"/><path d="M70.6 610.2h0M94.6 616.7h0M118.9 605.4h0M146.5 611h0M171.5 583.2h0M195.1 577.6h0M221.7 575.4h0M244.3 578.9h0M271.4 584.9h0M294 594.6h0M318.3 600.4h0M345.8 613h0M370.9 615.1h0M396.1 601.8h0M418.5 592.7h0M445.6 582.4h0M468.9 577.4h0M496.1 580.1h0M518.1 574.5h0M543.6 586.6h0M569.3 601.1h0M594.3 607.7h0M619.3 607.7h0M642.5 602.4h0M669.3 602.1h0M695.2 584.2h0M721.2 575.7h0M744.2 570.7h0M770.1 582.6h0M794.4 589.7h0M819.2 604.9h0"/></g>
<g class="d" stroke="#8ab17d" stroke-opacity="0.72"><path d="M50.6 638.2h0M70.2 639.8h0M88 643.5h0M106 640.1h0M124.3 633.2h0M142.2 638.6h0M160.2 616.8h0M179.1 618h0M197.9 606.1h0M214.5 608.5h0M233.5 609.7h0M253.3 608.7h0M270.2 610.2h0M288.7 626.1h0M308.2 641.2h0M326.1 642.2h0M344.9 650h0M363.1 640.9h0M381.2 641.3h0M399 644.4h0M416.2 627.7h0M434.8 616.1h0M453.2 620.4h0M473 614.4h0M490 603.9h0M509.7 605.3h0M527.1 611.1h0M545.8 624h0M562.9 632.6h0M581.8 640.8h0M599.8 656.8h0M617.8 644.1h0M637.8 647.6h0M655.7 637.4h0M673.6 631.4h0M692.3 613.9h0M709.6 600.8h0M728.7 611.5h0M746.1 608.9h0M766.2 607.4h0M783.1 618.1h0M802.4 621h0M820.2 640.7h0M838.2 642.5h0"/><path d="M53.2 637.7h0M71.3 643.6h0M89.3 643.3h0M108.4 641.4h0M125.2 644.1h0M143.6 632h0M161.7 624.2h0M179.6 614.8h0M198.3 609.2h0M216.2 601.6h0M235.8 614.9h0M254.6 612.7h0M273.1 619.2h0M291.4 632.8h0M307.7 644.5h0M327.1 655.8h0M345.7 657.7h0M364.9 637.7h0M381.4 638.8h0M401.2 632.2h0M417.7 627.1h0M436.3 625.9h0M455.4 608.4h0M475.1 608.8h0M491.4 611.8h0M511.2 604.2h0M527.9 619.7h0M547.5 625.7h0M566.4 639.1h0M583.1 641.2h0M603.2 636h0M621.2 639.5h0M639.8 639.2h0M656.6 634h0M674.8 631.5h0M694.6 619.6h0M713.1 611.4h0M729.8 601.5h0M749.4 595.5h0M767.7 618.5h0M786.6 614.8h0M804.2 628.4h0M821 634.7h0M841.2 646.4h0"/><path d="M52.7 639.9h0M72.3 649.7h0M89.9 643.6h0M109 651.4h0M126.2 636.2h0M145.8 629.3h0M164.5 623.4h0M183 606.8h0M199.4 612.4h0M219.8 615.5h0M237.7 623.5h0M254.7 612.8h0M273.3 622.4h0M292.2 626.6h0M311 641.1h0M329 639.1h0M346.4 648.2h0M365.2 647.5h0M383 635.2h0M401.6 636.1h0M420 631.6h0M438.3 619.5h0M456.4 615.3h0M475.9 615.6h0M492.7 606.4h0M511.2 609.7h0M530.4 620.4h0M548.7 625.7h0M565.9 627.3h0M586.1 640.1h0M603.4 646.6h0M622 648.9h0M639.6 645.5h0M657.8 633.4h0M676.7 629.2h0M695.3 612h0M713.8 617.2h0M731.6 606.9h0M750.6 611.1h0M768.8 604.4h0M787.4 618.5h0M804.9 630.6h0M824.1 636.9h0"/><path d="M54.1 631.1h0M72.9 644.5h0M92.4 635.8h0M111.4 642.5h0M128 639.1h0M146.1 638.2h0M166.1 620.9h0M182.5 617h0M202.1 613.2h0M219.1 606.9h0M239.4 610.1h0M256.6 615.8h0M274.2 622.6h0M293.4 639.5h0M311.4 638.2h0M329.2 653.5h0M349.4 644.5h0M366 641.1h0M384.4 639.8h0M404.3 627.8h0M423.1 626.6h0M439.9 613.3h0M458 615.7h0M477.7 605.7h0M495.9 612.6h0M513 612.4h0M530.8 619.7h0M551.2 634h0M568.7 641.5h0M587.6 640.1h0M606.3 652.5h0M623.8 642.9h0M641.1 633.1h0M660.2 632.5h0M677.5 629.3h0M695.7 616.8h0M714.3 611.6h0M734.3 610.2h0M752.2 609.4h0M771.1 608h0M789.6 615h0M807.4 630.9h0M825 633h0"/><path d="M57.6 636.6h0M75.8 655.8h0M93.1 649.3h0M112.3 645.3h0M129 645.9h0M148.4 623.5h0M167.4 614.8h0M185 608.8h0M204.2 613.4h0M221.9 595.9h0M239.1 606.7h0M259.5 612.5h0M277.4 619.4h0M295.1 634.2h0M314.2 639.5h0M330.8 646.8h0M349.7 646.4h0M368.9 651.4h0M386 648.2h0M404.9 632.1h0M422.8 629.1h0M442 619.7h0M460.7 615.3h0M477.6 610.9h0M497.1 616.8h0M515.7 612.4h0M532.2 623.4h0M552.1 628.3h0M570 638.2h0M589.6 639.8h0M607.4 643.5h0M625.4 640.1h0M643.6 633.2h0M661.5 638.6h0M679.5 616.8h0M698.4 618h0M717.3 606.1h0M733.9 608.5h0M752.8 609.7h0M772.6 608.7h0M789.6 610.2h0M808.1 626.1h0M827.6 641.2h0"/><path d="M57.6 633.6h0M76.8 645.2h0M96 644.2h0M113.2 637.8h0M132.5 642h0M151 622.7h0M168.3 620.8h0M187.1 615.2h0M205.5 614.9h0M224.3 603.3h0M242.6 611.5h0M260.1 610.5h0M279.4 625.4h0M296.4 632.6h0M314.5 639.3h0M332.7 641h0M351.9 646.9h0M369.2 643.8h0M388.2 637.7h0M407.4 632.6h0M423.9 633.3h0M443.7 614.1h0M462.3 612.6h0M478.8 605.3h0M498.7 602.7h0M517.1 618.4h0M536.1 624.5h0M552.4 636.4h0M572.5 637.7h0M590.6 643.6h0M608.6 643.3h0M627.8 641.4h0M644.6 644.1h0M663 632h0M681.1 624.2h0M699 614.8h0M717.7 609.2h0M735.5 601.6h0M755.2 614.9h0M774 612.7h0M792.5 619.2h0M810.8 632.8h0M827.1 644.5h0"/><path d="M59.7 640.5h0M78 647.8h0M96.2 644.9h0M115.9 643.3h0M132.3 636.9h0M151.2 628.5h0M168.8 623h0M187 612.4h0M207.3 611.6h0M224.9 611.9h0M243.7 607.6h0M260.7 617.4h0M280.9 619.6h0M298.1 640.9h0M315.6 634.9h0M334.9 645.1h0M353.9 639.1h0M371.3 641.5h0M388.9 638.7h0M408.2 633.1h0M426 633.5h0M445.1 621.7h0M463.2 616.7h0M482.5 610.6h0M499.2 610.2h0M517.8 610.1h0M535.6 621.5h0M555 630h0M572 639.9h0M591.7 649.7h0M609.3 643.6h0M628.4 651.4h0M645.6 636.2h0M665.2 629.3h0M683.9 623.4h0M702.4 606.8h0M718.7 612.4h0M739.1 615.5h0M757.1 623.5h0M774.1 612.8h0M792.6 622.4h0M811.6 626.6h0M830.4 641.1h0"/><path d="M62.4 636.2h0M79.9 640.8h0M98.9 648.5h0M117 633.6h0M133.6 634.5h0M153.6 618.7h0M171.8 618.8h0M190.1 615.6h0M208.6 607.9h0M227 607.3h0M244.8 606.7h0M263.8 612.4h0M280.5 622.4h0M300.2 636.4h0M318.4 643h0M337.3 643.6h0M354.3 645.7h0M372.6 648.3h0M392.4 638.8h0M410.8 638.2h0M428.7 622h0M446.1 620h0M465 608.2h0M482.4 605.3h0M500.6 605.1h0M520.4 611h0M537.6 632.1h0M555.2 633.2h0M573.5 631.1h0M592.3 644.5h0M611.8 635.8h0M630.7 642.5h0M647.4 639.1h0M665.5 638.2h0M685.5 620.9h0M701.9 617h0M721.4 613.2h0M738.4 606.9h0M758.8 610.1h0M776 615.8h0M793.6 622.6h0M812.8 639.5h0M830.8 638.2h0"/><path d="M62.5 640.8h0M80.4 656.8h0M98.5 644.1h0M118.4 647.6h0M136.4 637.4h0M154.3 631.4h0M172.9 613.9h0M190.2 600.8h0M209.3 611.5h0M226.8 608.9h0M246.8 607.4h0M263.8 618.1h0M283 621h0M300.8 640.7h0M318.8 642.5h0M336.7 642.1h0M355.5 642.7h0M375.1 652.1h0M391.8 632.5h0M411.5 633h0M430.2 618.6h0M447.1 614.2h0M466.5 613.2h0M484 613.4h0M503.4 609h0M521.7 613.1h0M540.5 613.4h0M557.3 632.9h0M577 636.6h0M595.1 655.8h0M612.5 649.3h0M631.7 645.3h0M648.4 645.9h0M667.8 623.5h0M686.8 614.8h0M704.3 608.8h0M723.6 613.4h0M741.3 595.9h0M758.5 606.7h0M778.8 612.5h0M796.8 619.4h0M814.5 634.2h0M833.6 639.5h0"/><path d="M63.7 641.2h0M83.8 636h0M101.9 639.5h0M120.5 639.2h0M137.2 634h0M155.5 631.5h0M175.2 619.6h0M193.8 611.4h0M210.4 601.5h0M230 595.5h0M248.4 618.5h0M267.2 614.8h0M284.8 628.4h0M301.6 634.7h0M321.8 646.4h0M338.8 645h0M356.7 645.3h0M376.7 643.5h0M395.5 637.3h0M413.1 630.7h0M430 618.7h0M448.4 618.3h0M468.5 607.7h0M486.4 613.6h0M505.1 617.8h0M522.6 618.5h0M540 620.5h0M560.4 633h0M576.9 633.6h0M596.2 645.2h0M615.4 644.2h0M632.6 637.8h0M651.8 642h0M670.4 622.7h0M687.7 620.8h0M706.5 615.2h0M724.9 614.9h0M743.7 603.3h0M762 611.5h0M779.5 610.5h0M798.7 625.4h0M815.8 632.6h0M833.9 639.3h0"/><path d="M66.8 640.1h0M84 646.6h0M102.6 648.9h0M120.2 645.5h0M138.4 633.4h0M157.4 629.2h0M175.9 612h0M194.4 617.2h0M212.2 606.9h0M231.2 611.1h0M249.4 604.4h0M268 618.5h0M285.5 630.6h0M304.7 636.9h0M322.7 645.5h0M339.9 652.1h0M360.3 639.1h0M377.9 644.9h0M396.6 639.7h0M413.6 627.4h0M432.4 627.9h0M450 616.4h0M468 615.2h0M487.6 606h0M505.4 608.4h0M524.2 612.7h0M542.8 622.1h0M559.8 627.5h0M579.1 640.5h0M597.4 647.8h0M615.6 644.9h0M635.3 643.3h0M651.6 636.9h0M670.5 628.5h0M688.2 623h0M706.4 612.4h0M726.6 611.6h0M744.3 611.9h0M763.1 607.6h0M780.1 617.4h0M800.2 619.6h0M817.5 640.9h0M834.9 634.9h0"/><path d="M68.2 640.1h0M86.9 652.5h0M104.4 642.9h0M121.7 633.1h0M140.9 632.5h0M158.1 629.3h0M176.4 616.8h0M195 611.6h0M215 610.2h0M232.8 609.4h0M251.7 608h0M270.2 615h0M288 630.9h0M305.7 633h0M325 638.8h0M343.2 645.1h0M359.7 648.2h0M379.1 642.3h0M397.6 635.7h0M417 628.5h0M433.9 616.7h0M453 615.5h0M470.2 615.4h0M490 611.1h0M507 605.7h0M525.1 618.4h0M544.1 628h0M562 626.8h0M581.8 636.2h0M599.3 640.8h0M618.3 648.5h0M636.4 633.6h0M652.9 634.5h0M673 618.7h0M691.2 618.8h0M709.4 615.6h0M727.9 607.9h0M746.3 607.3h0M764.2 606.7h0M783.1 612.4h0M799.8 622.4h0M819.5 636.4h0M837.7 643h0"/></g>
</g>
<rect x="56.05" y="449.00" width="779.05" height="267.90" fill="none" stroke="#000" stroke-width="2.00"/>
<path d="M82.02 716.90v-6.60M82.02 449.00v6.60M185.89 716.90v-6.60M185.89 449.00v6.60M289.76 716.90v-6.60M289.76 449.00v6.60M393.64 716.90v-6.60M393.64 449.00v6.60M497.51 716.90v-6.60M497.51 449.00v6.60M601.38 716.90v-6.60M601.38 449.00v6.60M705.26 716.90v-6.60M705.26 449.00v6.60M809.13 716.90v-6.60M809.13 449.00v6.60" stroke="#000" stroke-width="1.90" fill="none"/>
<text x="82.02" y="733.10" text-anchor="middle" font-size="18.30"><tspan class="m">−</tspan>0.2</text>
<text x="185.89" y="733.10" text-anchor="middle" font-size="18.30">0.0</text>
<text x="289.76" y="733.10" text-anchor="middle" font-size="18.30">0.2</text>
<text x="393.64" y="733.10" text-anchor="middle" font-size="18.30">0.4</text>
<text x="497.51" y="733.10" text-anchor="middle" font-size="18.30">0.6</text>
<text x="601.38" y="733.10" text-anchor="middle" font-size="18.30">0.8</text>
<text x="705.26" y="733.10" text-anchor="middle" font-size="18.30">1.0</text>
<text x="809.13" y="733.10" text-anchor="middle" font-size="18.30">1.2</text>
<path d="M56.05 686.65h6.60M835.10 686.65h-6.60M56.05 636.10h6.60M835.10 636.10h-6.60M56.05 585.55h6.60M835.10 585.55h-6.60M56.05 535.00h6.60M835.10 535.00h-6.60M56.05 484.45h6.60M835.10 484.45h-6.60" stroke="#000" stroke-width="1.90" fill="none"/>
<text x="52.15" y="693.55" text-anchor="end" font-size="18.30">0.94</text>
<text x="52.15" y="643.00" text-anchor="end" font-size="18.30">0.96</text>
<text x="52.15" y="592.45" text-anchor="end" font-size="18.30">0.98</text>
<text x="52.15" y="541.90" text-anchor="end" font-size="18.30">1.00</text>
<text x="52.15" y="491.35" text-anchor="end" font-size="18.30">1.02</text>
<text x="445.57" y="753.20" text-anchor="middle" font-size="18.20">Phase</text>
<text transform="translate(13.40 582.95) rotate(-90)" text-anchor="middle" font-size="18.20">Normalized Flux + offset</text>
<rect x="1020.80" y="449.00" width="130.05" height="267.90" fill="#e5e5e5"/>
<rect x="1671.05" y="449.00" width="130.05" height="267.90" fill="#e5e5e5"/>
<clipPath id="cR3"><rect x="1021.20" y="449.00" width="780.30" height="267.90"/></clipPath>
<g clip-path="url(#cR3)">
<g class="d" stroke="#e76f51" stroke-opacity="0.72"><path d="M1149.2 570.1h0M1066.7 530.4h0M1118.5 562.3h0M1172.4 555.7h0M1231 530h0M1288.1 526.6h0M1343.1 529.1h0M1396.3 545.7h0M1455.7 541.6h0M1513.5 526.6h0M1564.1 524.8h0M1618.3 548h0M1685.8 553.5h0M1735.6 537.7h0M1791.9 524.5h0"/><path d="M1016.3 522.3h0M1073.1 552.1h0M1126.4 558.4h0M1185.2 545h0M1232.7 523.4h0M1293.3 528.4h0M1344.1 532h0M1402.9 547.6h0M1460 532.9h0M1512.4 534.6h0M1573.8 525.3h0M1630.3 558.3h0M1688.9 558.3h0M1741.2 540.2h0M1802.5 526.5h0"/><path d="M1018.4 522.1h0M1076.8 536h0M1133.6 550.1h0M1184.2 550.9h0M1245.6 532.8h0M1294.8 522h0M1349.5 541h0M1411.1 554h0M1461.4 540.8h0M1523.5 515.8h0M1578.4 538.3h0M1632.8 562.5h0M1693.5 562.8h0M1750.3 531.7h0M1800.3 528.9h0"/><path d="M1026 530.3h0M1075.9 527.7h0M1135.3 556.7h0M1186.6 558h0M1249.9 525.5h0M1305.7 522.3h0M1356.8 531.5h0M1413.8 550.3h0M1469.8 529.2h0M1525.4 512.1h0M1577 530.3h0M1637.5 540.9h0M1692.6 555.7h0M1751.2 530h0"/><path d="M1026.3 521.2h0M1080.1 546.5h0M1142.7 558h0M1191.7 544.9h0M1249.6 529.7h0M1306.5 523.8h0M1366.2 535.3h0M1414.9 545.3h0M1476.2 533.4h0M1532.4 527.1h0M1586.9 530.4h0M1638.7 562.3h0M1705.4 545h0M1752.9 523.4h0"/><path d="M1030.9 520.7h0M1087.7 535.2h0M1145.5 570.5h0M1196.6 546.5h0M1256.6 521.6h0M1307.6 521.6h0M1364.1 552.8h0M1425.5 553.6h0M1475.9 533.6h0M1536.5 522.3h0M1593.3 552.1h0M1646.6 558.4h0M1704.4 550.9h0M1765.8 532.8h0"/><path d="M1037.9 526.8h0M1096.1 547.9h0M1146.3 562.6h0M1205.5 542.4h0M1256.6 526.2h0M1318 531.3h0M1369.3 558.5h0M1430.7 552.5h0M1479.4 528.9h0M1538.6 522.1h0M1597 536h0M1653.8 550.1h0M1706.8 558h0M1770.1 525.5h0"/><path d="M1040.7 530.4h0M1100.9 544.9h0M1669.4 570.1h0M1208.2 539.9h0M1265.2 539h0M1320.2 523.9h0M1375.7 551.1h0M1434.1 552.9h0M1486.7 524.4h0M1546.2 530.3h0M1596.1 527.7h0M1655.5 556.7h0M1711.9 544.9h0M1769.8 529.7h0"/><path d="M1043.9 524.8h0M1098.1 548h0M1154.8 558.1h0M1211.9 535.4h0M1265.5 516.1h0M1322.3 528.6h0M1379.2 545.8h0M1437.3 539.1h0M1491.3 517.7h0M1546.5 521.2h0M1600.3 546.5h0M1662.9 558h0M1716.8 546.5h0M1776.8 521.6h0"/><path d="M1053.6 525.3h0M1110.1 558.3h0M1165.6 553.5h0M1215.4 537.7h0M1271.7 524.5h0M1328.5 527.8h0M1388.6 545h0M1438.3 543.3h0M1500.4 526.7h0M1551.1 520.7h0M1607.9 535.2h0M1665.7 570.5h0M1725.7 542.4h0M1776.8 526.2h0"/><path d="M1058.2 538.3h0M1112.6 562.5h0M1168.7 558.3h0M1221 540.2h0M1282.3 526.5h0M1334.8 529.3h0M1392.2 547h0M1444.6 540.5h0M1499.6 515.4h0M1558.1 526.8h0M1616.3 547.9h0M1666.5 562.6h0M1728.4 539.9h0M1785.4 539h0"/><path d="M1056.8 530.3h0M1117.3 540.9h0M1173.3 562.8h0M1230.1 531.7h0M1280.1 528.9h0M1338.9 536.5h0M1396.3 551.3h0M1450 545.6h0M1508.5 527h0M1560.9 530.4h0M1621.1 544.9h0M1675 558.1h0M1732.1 535.4h0M1785.7 516.1h0"/></g>
<g class="d" stroke="#f4a261" stroke-opacity="0.72"><path d="M1018.2 552.1h0M1080.4 567.2h0M1146.3 583.5h0M1187.8 576.1h0M1247.7 554.5h0M1296.6 551.2h0M1340.9 564.9h0M1384.7 575.8h0M1446 571.8h0M1485.5 558.8h0M1533.4 551.5h0M1591.9 563.4h0M1643.1 580.8h0M1701.3 577.8h0M1765.9 554.2h0"/><path d="M1023.5 552.8h0M1084.6 569.2h0M1147.5 583.8h0M1190.7 574.8h0M1252.5 552h0M1299.3 552.5h0M1344.8 565.2h0M1389.2 575.6h0M1447.9 571.6h0M1487.5 557.9h0M1538.4 552.1h0M1600.6 567.2h0M1666.5 583.5h0M1708 576.1h0M1767.9 554.5h0"/><path d="M1033.3 553.4h0M1085.9 569.6h0M1148.9 582.9h0M1193.4 574.1h0M1253.9 553.7h0M1301.8 553.7h0M1346 564.9h0M1390.7 576.9h0M1452.1 570.1h0M1488.9 559.3h0M1543.7 552.8h0M1604.8 569.2h0M1667.7 583.8h0M1710.9 574.8h0M1772.7 552h0"/><path d="M1040.6 555h0M1087.3 569.8h0M1155.4 582.5h0M1202.8 568.8h0M1255.9 553h0M1303.1 553.6h0M1348 566.2h0M1411.8 577.1h0M1453.9 568.7h0M1490.5 557.4h0M1553.5 553.4h0M1606.1 569.6h0M1669.1 582.9h0M1713.6 574.1h0M1774.1 553.7h0"/><path d="M1045.3 556.3h0M1098.3 573.7h0M1157.9 583h0M1205.7 568.9h0M1266.4 552.2h0M1309.7 554h0M1350 567.3h0M1413.7 575.7h0M1456.8 568.3h0M1499.5 556.2h0M1560.8 555h0M1607.5 569.8h0M1675.6 582.5h0M1723 568.8h0M1776.1 553h0"/><path d="M1047.3 557.6h0M1100.1 574.1h0M1159.9 581.9h0M1207.4 566.5h0M1267.7 551.4h0M1317.7 556.4h0M1351.8 566.6h0M1418.3 576.8h0M1460.5 567.5h0M1501.5 554.8h0M1565.5 556.3h0M1618.5 573.7h0M1678.1 583h0M1725.9 568.9h0M1786.6 552.2h0"/><path d="M1051.5 557.5h0M1102.8 575.4h0M1165.1 580.8h0M1216.7 564.6h0M1272.1 550.9h0M1319.3 556.8h0M1354.2 567.2h0M1424.9 575.8h0M1463.4 566.3h0M1508.5 552.5h0M1567.5 557.6h0M1620.3 574.1h0M1680.1 581.9h0M1727.6 566.5h0M1787.9 551.4h0"/><path d="M1064.3 561.4h0M1104.4 574.8h0M1168.3 581.1h0M1223.2 562.7h0M1273.7 550h0M1322.2 559.1h0M1356.5 568h0M1426.6 575.6h0M1468.3 563.7h0M1510.4 553.5h0M1571.7 557.5h0M1623 575.4h0M1685.3 580.8h0M1736.9 564.6h0M1792.3 550.9h0"/><path d="M1066.1 560.4h0M1115.6 579.3h0M1172.2 579.4h0M1224.5 561.5h0M1277.4 551.7h0M1323.9 557.4h0M1365.9 570.8h0M1431 575.4h0M1473.4 562.5h0M1513.7 551.9h0M1584.5 561.4h0M1624.6 574.8h0M1688.5 581.1h0M1743.4 562.7h0M1793.9 550h0"/><path d="M1067.4 562.5h0M1117.3 579.3h0M1173.8 579.1h0M1226.1 561.7h0M1280 550.7h0M1326 559.4h0M1367.7 571.6h0M1433.9 575.2h0M1480.2 561h0M1518.9 552.5h0M1586.3 560.4h0M1635.8 579.3h0M1692.4 579.4h0M1744.7 561.5h0M1797.6 551.7h0"/><path d="M1069.3 563.1h0M1119.5 580.2h0M1177 578.8h0M1239.1 558.5h0M1284.7 551.3h0M1332.1 561.4h0M1373.4 574.2h0M1439.5 572.5h0M1481.8 561h0M1523.1 550.6h0M1587.6 562.5h0M1637.5 579.3h0M1694 579.1h0M1746.3 561.7h0M1800.2 550.7h0"/><path d="M1071.7 563.4h0M1122.9 580.8h0M1181.1 577.8h0M1245.7 554.2h0M1291.9 550.7h0M1337 562.4h0M1379 573.8h0M1442.5 571.5h0M1483.3 559.3h0M1529.8 551h0M1589.5 563.1h0M1639.7 580.2h0M1697.2 578.8h0M1759.3 558.5h0M1804.9 551.3h0"/></g>
<g class="d" stroke="#e9c46a" stroke-opacity="0.72"><path d="M1014.8 567.9h0M1059.8 578.2h0M1115.8 596.5h0M1183.6 594.6h0M1236.3 576.8h0M1300.6 569.2h0M1366.5 586.8h0M1411.8 595.7h0M1458 585.7h0M1491.3 573.1h0M1545.9 568.6h0M1604.4 585.3h0M1646.5 600h0M1726.9 585h0M1782.7 568.9h0"/><path d="M1017.3 569.1h0M1061.2 577.8h0M1118.8 597.9h0M1192.6 590.4h0M1248.8 572.1h0M1302.5 570.3h0M1367.9 588.7h0M1424.3 594.1h0M1461.6 584.5h0M1502.8 571h0M1550.4 570.3h0M1606.2 586.5h0M1664.3 601.2h0M1729.6 584.8h0M1787.7 569.2h0"/><path d="M1021.9 569.1h0M1065.6 579.3h0M1121.3 598.4h0M1198.3 588.1h0M1251 571h0M1305.4 569.3h0M1372.3 589.4h0M1426.2 591.6h0M1464 583.1h0M1506.2 571.3h0M1552.3 570h0M1609.1 587.6h0M1669.8 601h0M1737.1 581.7h0M1792.4 568.2h0"/><path d="M1023.2 568.2h0M1079.5 583.8h0M1124.2 599.4h0M1205.3 585.4h0M1260.7 568.9h0M1318.5 574.6h0M1375.7 591.2h0M1427.5 591.9h0M1466.5 583.6h0M1511.4 569.3h0M1558.9 570.7h0M1610.7 588.3h0M1680 599.4h0M1741.2 579.3h0M1793.8 569.3h0"/><path d="M1025.7 568.6h0M1084.2 585.3h0M1126.3 600h0M1206.7 585h0M1262.5 568.9h0M1321.8 574h0M1382 593.1h0M1429.9 593.1h0M1467.8 583.1h0M1515.2 569.3h0M1562.2 572.8h0M1621.8 593.2h0M1681.9 599.7h0M1742.4 578.7h0M1798.5 568h0"/><path d="M1030.2 570.3h0M1086 586.5h0M1144.1 601.2h0M1209.4 584.8h0M1267.5 569.2h0M1330.4 576.7h0M1387.5 593.5h0M1431.1 592.9h0M1469.7 581.8h0M1518.3 570.5h0M1567.2 573h0M1625.2 593h0M1684.4 598h0M1743.8 579.7h0M1799.7 568.2h0"/><path d="M1032.1 570h0M1088.9 587.6h0M1149.6 601h0M1216.9 581.7h0M1272.2 568.2h0M1340.1 579.4h0M1390.3 593.7h0M1432.4 591.5h0M1473.4 580.7h0M1525.4 567.4h0M1570.5 572.8h0M1630.4 595h0M1687.4 598.8h0M1752 578.6h0"/><path d="M1038.7 570.7h0M1090.5 588.3h0M1159.8 599.4h0M1221 579.3h0M1273.6 569.3h0M1344.5 581.1h0M1394 594.7h0M1433.8 591.9h0M1477.1 578.3h0M1530.8 567.1h0M1578.7 577.4h0M1634.3 596.6h0M1691.3 598.1h0M1753.6 578.1h0"/><path d="M1042 572.8h0M1101.6 593.2h0M1161.7 599.7h0M1222.2 578.7h0M1278.3 568h0M1346.1 581.8h0M1399.5 595h0M1444.4 589.2h0M1478.7 577.5h0M1535 567.9h0M1580 578.2h0M1636 596.5h0M1703.8 594.6h0M1756.5 576.8h0"/><path d="M1047 573h0M1105 593h0M1164.2 598h0M1223.6 579.7h0M1279.5 568.2h0M1351.2 583.3h0M1404.1 594.8h0M1445.6 589.8h0M1481.4 576.1h0M1537.5 569.1h0M1581.4 577.8h0M1639 597.9h0M1712.8 590.4h0M1769 572.1h0"/><path d="M1050.3 572.8h0M1110.2 595h0M1167.2 598.8h0M1231.8 578.6h0M1293.4 567.9h0M1353 584.6h0M1406.5 594.6h0M1452.8 587.1h0M1484.7 576.4h0M1542.1 569.1h0M1585.8 579.3h0M1641.5 598.4h0M1718.5 588.1h0M1771.2 571h0"/><path d="M1058.5 577.4h0M1114.1 596.6h0M1171.1 598.1h0M1233.4 578.1h0M1296.5 569h0M1355 584.7h0M1409.2 594.1h0M1454.1 585.2h0M1488.2 574.9h0M1543.4 568.2h0M1599.7 583.8h0M1644.4 599.4h0M1725.5 585.4h0M1780.9 568.9h0"/></g>
<g class="d" stroke="#8ab17d" stroke-opacity="0.72"><path d="M1018.7 586.5h0M1068.7 597.2h0M1134.1 616.9h0M1175.5 613.1h0M1231.9 594.1h0M1261.5 586.3h0M1313.9 589.8h0M1364.8 605.2h0M1411.9 609.8h0M1463.2 600.8h0M1521.4 587h0M1586.5 595.4h0M1647.4 615.6h0M1691.5 613.6h0M1738.5 598.2h0M1774.6 588.4h0"/><path d="M1021.3 586.9h0M1075.7 599.3h0M1138 617.4h0M1177.1 611.8h0M1235.6 592.3h0M1262.8 586.5h0M1315.6 589.7h0M1366.1 606.2h0M1420.5 610.4h0M1466.1 599.4h0M1524.3 588.8h0M1587.7 597.8h0M1650.5 616.2h0M1694.6 613.6h0M1740.4 598.3h0M1778.8 587.6h0"/><path d="M1022.8 587h0M1086.9 603.8h0M1145.4 617.3h0M1185.1 609h0M1239.1 592.8h0M1263.9 587.1h0M1324.4 592.6h0M1368.4 606h0M1421.8 611h0M1468.2 599.6h0M1538.9 586.5h0M1588.9 597.2h0M1654.3 616.9h0M1695.7 613.1h0M1752.1 594.1h0M1781.7 586.3h0"/><path d="M1025.6 586.9h0M1090.9 604.6h0M1147.2 617.6h0M1187.5 608.8h0M1240.4 591.4h0M1269.9 586.8h0M1325.8 592.8h0M1372 606.4h0M1424.2 610.7h0M1469.3 599.1h0M1541.5 586.9h0M1595.9 599.3h0M1658.2 617.4h0M1697.3 611.8h0M1755.8 592.3h0M1783 586.5h0"/><path d="M1029.2 588.1h0M1096.5 608.5h0M1149.4 617.8h0M1190.5 609.1h0M1241.5 590.5h0M1275.8 586.6h0M1329 594.5h0M1374.9 608.2h0M1425.8 609.3h0M1474.6 597.5h0M1543 587h0M1607.1 603.8h0M1665.6 617.3h0M1705.3 609h0M1759.3 592.8h0M1784.1 587.1h0"/><path d="M1041.4 588.5h0M1105.8 609.8h0M1153.3 617.5h0M1201.2 604.1h0M1244.1 590.9h0M1282.6 585h0M1337.4 596.3h0M1384 609.5h0M1430 609.3h0M1476.6 596.3h0M1545.8 586.9h0M1611.1 604.6h0M1667.4 617.6h0M1707.7 608.8h0M1760.6 591.4h0M1790.1 586.8h0"/><path d="M1045.1 590.8h0M1110.4 612.9h0M1156.1 615.9h0M1202.6 603.9h0M1245.3 589.8h0M1287.7 586.1h0M1340.2 596.1h0M1388.1 610.9h0M1431.1 608.7h0M1481.7 594.2h0M1549.4 588.1h0M1616.7 608.5h0M1669.6 617.8h0M1710.7 609.1h0M1761.7 590.5h0M1796 586.6h0"/><path d="M1046.5 590.1h0M1112.3 612.4h0M1158.4 615.5h0M1204.3 602.6h0M1246.4 589.5h0M1293.1 586.3h0M1343.3 598.3h0M1390.4 610.2h0M1433.5 608h0M1490 591.8h0M1561.6 588.5h0M1626 609.8h0M1673.5 617.5h0M1721.4 604.1h0M1764.3 590.9h0M1802.8 585h0"/><path d="M1052.3 592.8h0M1113.6 612.5h0M1164.7 614.9h0M1206.3 603.1h0M1248.9 589h0M1298.8 585.9h0M1345.9 598h0M1395.9 611.6h0M1436.2 607.8h0M1495.9 590.8h0M1565.3 590.8h0M1630.6 612.9h0M1676.3 615.9h0M1722.8 603.9h0M1765.5 589.8h0"/><path d="M1059.9 594.2h0M1117.9 612.5h0M1168 615.2h0M1216.6 598.6h0M1250.5 590.4h0M1300.6 587.1h0M1347 599.3h0M1398 611.5h0M1439 606.6h0M1501.2 588.8h0M1566.7 590.1h0M1632.5 612.4h0M1678.6 615.5h0M1724.5 602.6h0M1766.6 589.5h0"/><path d="M1066.3 595.4h0M1127.2 615.6h0M1171.3 613.6h0M1218.3 598.2h0M1254.4 588.4h0M1308.7 588.4h0M1359.4 603.9h0M1399.5 612.1h0M1455.4 603.6h0M1505.5 588.9h0M1572.5 592.8h0M1633.8 612.5h0M1684.9 614.9h0M1726.5 603.1h0M1769.1 589h0"/><path d="M1067.5 597.8h0M1130.3 616.2h0M1174.4 613.6h0M1220.2 598.3h0M1258.6 587.6h0M1312.3 589.3h0M1362.1 605.2h0M1405.3 612.2h0M1462 601.7h0M1519.2 587.8h0M1580.1 594.2h0M1638.1 612.5h0M1688.2 615.2h0M1736.8 598.6h0M1770.7 590.4h0"/></g>
<g class="d" stroke="#2a9d8f" stroke-opacity="0.72"><path d="M1015.4 603.7h0M1083.1 620.5h0M1144.8 636.3h0M1187 628.8h0M1244.9 607.8h0M1312.9 605.8h0M1376.1 626.2h0M1442.8 622.1h0M1497 607.5h0M1535.6 603.7h0M1603.3 620.5h0M1665 636.3h0M1707.2 628.8h0M1765.1 607.8h0"/><path d="M1018.7 604.2h0M1090.4 622.1h0M1146.8 634.9h0M1204.6 620.6h0M1256.7 604.2h0M1316.1 608.2h0M1382.4 626.2h0M1447.4 620.3h0M1498.2 606.7h0M1538.9 604.2h0M1610.6 622.1h0M1667 634.9h0M1724.8 620.6h0M1776.9 604.2h0"/><path d="M1020.1 603.5h0M1091.5 624.2h0M1148.7 634.5h0M1207.8 619.5h0M1259.4 603.8h0M1318.7 608.2h0M1384.4 626.9h0M1458 618.7h0M1500.5 605.7h0M1540.3 603.5h0M1611.7 624.2h0M1668.9 634.5h0M1728 619.5h0M1779.6 603.8h0"/><path d="M1037 606.6h0M1095.8 625.1h0M1159.2 632.2h0M1217.7 615.9h0M1262.6 604.3h0M1324.4 609.4h0M1386.1 627.8h0M1461.6 616.4h0M1503.5 604.6h0M1557.2 606.6h0M1616 625.1h0M1679.4 632.2h0M1737.9 615.9h0M1782.8 604.3h0"/><path d="M1039.8 607h0M1113 629.8h0M1161.8 633h0M1219 615.8h0M1270.2 604h0M1342.6 616.2h0M1388.7 627.3h0M1463.9 617.1h0M1505.3 605.7h0M1560 607h0M1633.2 629.8h0M1682 633h0M1739.2 615.8h0M1790.4 604h0"/><path d="M1041.6 607.6h0M1114.4 631.9h0M1164.6 631.3h0M1230.5 610.7h0M1276.1 603.1h0M1345.6 616.4h0M1402.1 629h0M1470.4 614h0M1507.2 604.9h0M1561.8 607.6h0M1634.6 631.9h0M1684.8 631.3h0M1750.7 610.7h0M1796.3 603.1h0"/><path d="M1044.3 608.4h0M1115.8 631.7h0M1166.3 630.9h0M1232.2 610.5h0M1280.1 602.7h0M1347.3 615.5h0M1408.3 630.5h0M1471.6 614.1h0M1523.5 603.8h0M1564.5 608.4h0M1636 631.7h0M1686.5 630.9h0M1752.4 610.5h0M1800.3 602.7h0"/><path d="M1050.4 609.2h0M1117.8 632.4h0M1167.9 630.8h0M1234.2 609.3h0M1282.9 602.5h0M1348.5 617.7h0M1415.4 628.7h0M1473.6 612.2h0M1525 605h0M1570.6 609.2h0M1638 632.4h0M1688.1 630.8h0M1754.4 609.3h0M1803.1 602.5h0"/><path d="M1052 610.4h0M1118.9 629.3h0M1176.1 630h0M1236.4 608.4h0M1286.3 602.8h0M1350.8 618.1h0M1418.6 629.1h0M1479 612.6h0M1529.2 603.4h0M1572.2 610.4h0M1639.1 629.3h0M1696.3 630h0M1756.6 608.4h0M1806.5 602.8h0"/><path d="M1053.6 610.1h0M1120.5 632.1h0M1177.5 629.2h0M1238.7 608.1h0M1287.6 602.5h0M1354.7 618.7h0M1424.1 627.8h0M1481.2 611.1h0M1530.5 603.4h0M1573.8 610.1h0M1640.7 632.1h0M1697.7 629.2h0M1758.9 608.1h0"/><path d="M1058.3 612.3h0M1127.7 632.8h0M1178.9 628.6h0M1240.6 607.4h0M1289.5 603.5h0M1357.9 621.1h0M1427.8 628.1h0M1492.9 607.6h0M1532.2 604.2h0M1578.5 612.3h0M1647.9 632.8h0M1699.1 628.6h0M1760.8 607.4h0"/><path d="M1066.8 614h0M1141.8 635.8h0M1185.5 628.5h0M1242.6 609.1h0M1299.3 605h0M1359.3 620.9h0M1430.7 626.2h0M1494.8 608.2h0M1533.9 603.6h0M1587 614h0M1662 635.8h0M1705.7 628.5h0M1762.8 609.1h0"/></g>
<g class="d" stroke="#287271" stroke-opacity="0.72"><path d="M1015 624h0M1033 622.2h0M1063.2 635.3h0M1080.8 636.3h0M1097.9 643.8h0M1123.1 652.5h0M1138.2 651.5h0M1058.2 636.3h0M1167.8 652.5h0M1185.3 646h0M1206.3 638.7h0M1224.2 633.7h0M1243.6 625h0M1262.6 622.4h0M1282.7 622.3h0M1304.3 623.7h0M1324.3 630.7h0M1344.8 635.1h0M1362.7 639.4h0M1380.1 647.4h0M1400.9 649.8h0M1417.2 646.4h0M1435.2 641.4h0M1456.4 640.2h0M1478.1 633.3h0M1490.2 628.5h0M1504.7 624.1h0M1524.9 623.7h0M1549.4 623.1h0M1570.8 629.3h0M1597.2 638.6h0M1612.7 641.6h0M1635.3 649.8h0M1652.8 654.1h0M1666.8 652.9h0M1671.3 651.7h0M1688.9 651.9h0M1706.4 647h0M1728.8 636.8h0M1745.1 632.4h0M1764.6 627h0M1784.9 622.8h0M1803.7 621.4h0"/><path d="M1015.6 623.9h0M1036.7 624.1h0M1066 633.2h0M1081.4 638.4h0M1099.5 645.2h0M1124.2 655.2h0M1139 653.2h0M1151.1 651.7h0M1168.7 651.9h0M1186.2 647h0M1208.6 636.8h0M1224.9 632.4h0M1244.4 627h0M1264.7 622.8h0M1283.5 621.4h0M1305.2 626.2h0M1325.5 630.3h0M1345.7 636.3h0M1364.2 641.6h0M1380.7 645.7h0M1402.1 649.4h0M1418 646.8h0M1436.7 646h0M1458.4 640h0M1478.7 632.8h0M1490.9 627.5h0M1506.3 625.3h0M1526.3 623.2h0M1550.6 622.8h0M1571.7 629.8h0M1597.7 636.1h0M1613.5 643.3h0M1636.4 649.1h0M1653.3 653.8h0M1668.7 653.4h0M1672.6 654.5h0M1690.3 648.9h0M1707.9 645.5h0M1729.4 639.1h0M1746.7 633.2h0M1765.4 628.9h0M1785.6 622.8h0M1807 621.7h0"/><path d="M1016.5 625h0M1037.4 625.4h0M1067.3 633.9h0M1083 638.1h0M1104.9 645.2h0M1125.9 651.7h0M1140 653.4h0M1152.4 654.5h0M1170.1 648.9h0M1187.7 645.5h0M1209.2 639.1h0M1226.5 633.2h0M1245.2 628.9h0M1265.4 622.8h0M1286.8 621.7h0M1306.6 624.2h0M1327.7 628.9h0M1347.3 638.1h0M1364.8 641.9h0M1381.8 645.6h0M1402.7 647.7h0M1418.8 644.2h0M1440.3 642.7h0M1460.7 639.2h0M1479.6 631h0M1491.6 625.5h0M1507.3 624.2h0M1530.9 622.8h0M1551.3 623.3h0M1572.6 629.1h0M1598.2 637.8h0M1614.3 641.9h0M1637.6 648.6h0M1653.9 653.3h0M1669.4 653h0M1673.7 651.6h0M1691 650.3h0M1709.9 643.8h0M1730 637.8h0M1748 632.3h0M1768.4 628.1h0M1788.7 624.4h0"/><path d="M1017.2 623.7h0M1040.6 625.9h0M1069.3 633.1h0M1085.5 639.5h0M1105.4 645.2h0M1129.7 653.4h0M1141.8 654.3h0M1153.5 651.6h0M1170.8 650.3h0M1189.7 643.8h0M1209.8 637.8h0M1227.8 632.3h0M1248.2 628.1h0M1268.5 624.4h0M1287.8 622.8h0M1309 624.6h0M1328.2 630.2h0M1348.6 635.3h0M1367.5 641.6h0M1382.9 643.5h0M1403.5 648h0M1421.1 644.7h0M1441.1 641.7h0M1462.6 639.6h0M1480.4 628.4h0M1492.3 628.7h0M1508.1 624.9h0M1531.6 622.4h0M1551.8 623.8h0M1573.4 631h0M1599 638.9h0M1616.1 643.1h0M1639.8 652.3h0M1654.5 656.9h0M1354 642.9h0M1674.3 652h0M1693 649.7h0M1710.5 646.1h0M1730.9 635.3h0M1748.7 631.8h0M1769.6 628.6h0M1789.8 624.2h0"/><path d="M1019.7 621.5h0M1042.5 626.2h0M1069.9 635.8h0M1086.3 638.4h0M1106.1 646.1h0M1130.3 652.4h0M1144.4 653.4h0M1154.1 652h0M1172.8 649.7h0M1190.3 646.1h0M1210.7 635.3h0M1228.5 631.8h0M1249.4 628.6h0M1269.6 624.2h0M1288.8 621.3h0M1310.1 623.8h0M1330.3 630.3h0M1349.2 638.4h0M1368.7 644.9h0M1386.2 645.6h0M1404.1 647.4h0M1421.7 645.3h0M1442.8 642.8h0M1464.9 637.8h0M1481.8 630.7h0M1494.8 626.4h0M1509.3 626h0M1533.3 624.2h0M1552.6 622.9h0M1581.4 631.7h0M1599.9 636.8h0M1617.6 643.4h0M1642.1 651.4h0M1657 652.5h0M1588.6 623.2h0M1674.8 652.7h0M1695 648.8h0M1711.5 646.5h0M1731.8 637h0M1752 630.3h0M1770.3 627.9h0M1790.5 622.9h0"/><path d="M1022.5 624.7h0M1043 627.8h0M1070.8 634.4h0M1089.8 641h0M1108.4 648.6h0M1130.9 654.5h0M1145.1 657.1h0M1154.6 652.7h0M1174.8 648.8h0M1191.3 646.5h0M1211.6 637h0M1231.8 630.3h0M1250.1 627.9h0M1270.3 622.9h0M1290.2 622.6h0M1314 624.5h0M1335.5 630.4h0M1353.9 640.3h0M1372.1 645.3h0M1387 645h0M1405.2 647.2h0M1423.5 646.4h0M1444.8 641.6h0M1465.5 638.8h0M1482.9 632.5h0M1496.2 626.4h0M1511.3 623.2h0M1535.2 624h0M1553.2 622.2h0M1583.4 635.3h0M1601 636.3h0M1618.1 643.8h0M1643.3 652.5h0M1658.4 651.5h0M1546.2 635.6h0M1676.9 653.3h0M1695.5 648.1h0M1714.3 643.1h0M1735.6 634.2h0M1753.2 629.5h0M1771.3 626.1h0M1791.3 622.4h0"/><path d="M1023.7 622.6h0M1048.4 628.3h0M1074.3 636.9h0M1090.7 641.4h0M1112.2 651.1h0M1132 652.6h0M1145.8 653.3h0M1156.7 653.3h0M1175.3 648.1h0M1194.1 643.1h0M1215.4 634.2h0M1233 629.5h0M1251.1 626.1h0M1271.1 622.4h0M1290.8 620h0M1319.2 628.7h0M1336.3 633.2h0M1354.7 640.8h0M1372.9 642.8h0M1387.9 644.7h0M1405.8 646.9h0M1424.6 644.4h0M1445.9 642.3h0M1466.8 633.5h0M1483.5 630.8h0M1497.2 628.1h0M1513.9 622.4h0M1535.8 623.9h0M1556.9 624.1h0M1586.2 633.2h0M1601.6 638.4h0M1619.7 645.2h0M1644.4 655.2h0M1659.2 653.2h0M1460.6 628.9h0M1678 651.3h0M1696.3 647.8h0M1714.9 643.7h0M1736.1 633.1h0M1754.6 627h0M1772 625.4h0M1798 620.1h0"/><path d="M1029.2 623.1h0M1050.6 629.3h0M1077 638.6h0M1092.5 641.6h0M1115.1 649.8h0M1132.6 654.1h0M1146.6 652.9h0M1157.8 651.3h0M1176.1 647.8h0M1194.7 643.7h0M1215.9 633.1h0M1234.4 627h0M1251.8 625.4h0M1277.8 620.1h0M1291.5 620h0M1320.2 630.5h0M1336.9 633h0M1355.9 638.3h0M1373.6 645h0M1392.9 646.6h0M1407.4 646.7h0M1426.2 647.1h0M1446.8 643.4h0M1468 635.7h0M1485.7 627.1h0M1497.8 627.4h0M1516.2 623.3h0M1536.7 625h0M1557.6 625.4h0M1587.5 633.9h0M1603.2 638.1h0M1625.1 645.2h0M1646.1 651.7h0M1660.2 653.4h0M1502.8 641.6h0M1680.2 651.8h0M1697.1 648.4h0M1721.2 640.2h0M1736.7 635.1h0M1755.4 629h0M1774.3 626.9h0M1798.7 619.8h0"/><path d="M1030.4 622.8h0M1051.5 629.8h0M1077.5 636.1h0M1093.3 643.3h0M1116.2 649.1h0M1133.1 653.8h0M1148.5 653.4h0M1160 651.8h0M1176.9 648.4h0M1201 640.2h0M1216.5 635.1h0M1235.2 629h0M1254.1 626.9h0M1278.5 619.8h0M1296 622.6h0M1321 627.4h0M1337.8 632.9h0M1357 641.1h0M1374.4 644.3h0M1394 646.5h0M1412.5 649.1h0M1431.1 645h0M1451.4 639.7h0M1472.5 636.5h0M1486.9 628.7h0M1498.5 626.9h0M1517.6 625.1h0M1537.4 623.7h0M1560.8 625.9h0M1589.5 633.1h0M1605.7 639.5h0M1625.6 645.2h0M1649.9 653.4h0M1662 654.3h0M1578.4 636.3h0M1681.5 650.6h0M1699.1 647.1h0M1722.5 641.5h0M1737.7 635.3h0M1755.9 627.7h0M1779.6 625h0M1799.2 619.8h0"/><path d="M1031.1 623.3h0M1052.4 629.1h0M1078 637.8h0M1094.1 641.9h0M1117.4 648.6h0M1133.7 653.3h0M1149.2 653h0M1161.3 650.6h0M1178.9 647.1h0M1202.3 641.5h0M1217.5 635.3h0M1235.7 627.7h0M1259.4 625h0M1279 619.8h0M1296.9 621.4h0M1321.7 629.9h0M1339.1 632.3h0M1358 637.5h0M1376.9 646.1h0M1394.7 646.1h0M1413 648.7h0M1432.1 646.6h0M1453.7 641.3h0M1473.3 634.9h0M1487.6 626.7h0M1499.1 627h0M1519 623.7h0M1539.9 621.5h0M1562.7 626.2h0M1590.1 635.8h0M1606.5 638.4h0M1626.3 646.1h0M1650.5 652.4h0M1664.6 653.4h0M1449.8 641.6h0M1685.9 651.6h0M1700 648.3h0M1724 640.6h0M1738.8 635.2h0M1760.1 628h0M1780.4 627h0M1799.8 623.7h0"/><path d="M1031.6 623.8h0M1053.2 631h0M1078.8 638.9h0M1095.9 643.1h0M1119.6 652.3h0M1134.3 656.9h0M1068.4 623.2h0M1165.7 651.6h0M1179.8 648.3h0M1203.8 640.6h0M1218.6 635.2h0M1239.9 628h0M1260.2 627h0M1279.6 623.7h0M1297.5 624.2h0M1322.7 629.6h0M1339.7 634.1h0M1360.9 642.3h0M1378.7 647.9h0M1395.7 646h0M1414.8 646h0M1433.6 644.1h0M1455 637.9h0M1474 634.5h0M1489 627.1h0M1503.3 626.6h0M1520.1 621.2h0M1542.7 624.7h0M1563.2 627.8h0M1591 634.4h0M1610 641h0M1628.6 648.6h0M1651.1 654.5h0M1665.3 657.1h0M1530.6 627.1h0M1687.2 648.9h0M1701.2 646.6h0M1725.2 639.6h0M1741.3 633.2h0M1762.4 627.8h0M1781 623.6h0M1802.2 624.5h0"/><path d="M1032.4 622.9h0M1061.2 631.7h0M1079.7 636.8h0M1097.4 643.4h0M1121.9 651.4h0M1136.8 652.5h0M1026 635.6h0M1167 648.9h0M1181 646.6h0M1205 639.6h0M1221.1 633.2h0M1242.2 627.8h0M1260.8 623.6h0M1282 624.5h0M1299.3 624h0M1323.3 629.8h0M1341.6 635.3h0M1361.8 640.8h0M1379.3 647.9h0M1397.4 648.1h0M1416.3 645h0M1434.2 645.7h0M1455.6 636.9h0M1474.6 632.2h0M1489.5 628h0M1504 626.3h0M1520.8 622.6h0M1543.9 622.6h0M1568.6 628.3h0M1594.5 636.9h0M1610.9 641.4h0M1632.4 651.1h0M1652.2 652.6h0M1666 653.3h0M1405.7 661h0M1688 652.5h0M1705.5 646h0M1726.5 638.7h0M1744.4 633.7h0M1763.8 625h0M1782.8 622.4h0M1802.9 622.3h0"/></g>
<g class="d" stroke="#264653" stroke-opacity="0.72"><path d="M1017.6 639h0M1035.3 647.7h0M1058.1 650.5h0M1082.2 655.8h0M1108.1 663.6h0M1125.9 672.2h0M1144.6 674.6h0M1166.5 675.7h0M1182.2 663.8h0M1204.6 661.1h0M1218.5 653.7h0M1233.4 651.2h0M1245.9 649.1h0M1265.7 642.6h0M1285.4 642.6h0M1302.7 643.2h0M1319.5 649.2h0M1341.6 652.6h0M1362.3 659.1h0M1382.6 662h0M1399.3 669.9h0M1413.3 669.6h0M1430 669h0M1449.3 657.6h0M1466.9 654.4h0M1482.1 655h0M1500 645.7h0M1519.6 642.8h0M1546.2 642.6h0M1569.6 645.4h0M1592.5 652.5h0M1620.9 660.5h0M1636.7 666.4h0M1660.2 675.6h0M1453.3 664.3h0M1686.7 675.7h0M1702.4 663.8h0M1724.8 661.1h0M1738.7 653.7h0M1753.6 651.2h0M1766.1 649.1h0M1785.9 642.6h0M1805.6 642.6h0"/><path d="M1018.4 643.5h0M1036.1 649h0M1062.1 649.9h0M1088.9 662.3h0M1108.9 666h0M1128.2 675.1h0M1146.8 676h0M1167.5 672.4h0M1183.8 662.1h0M1205.1 659.9h0M1220.1 654h0M1234.1 652.6h0M1249.5 648.9h0M1267.6 641.5h0M1287 638.3h0M1304.3 642h0M1322.6 645.6h0M1343.9 653.2h0M1363.8 660.2h0M1383.8 662.9h0M1400.7 673.1h0M1415.1 667h0M1431.4 666.7h0M1450.3 657.4h0M1467.7 651.9h0M1482.9 649h0M1502.3 646.2h0M1523.8 642.9h0M1546.9 641.4h0M1570.3 647.8h0M1594.3 655.9h0M1621.6 664.9h0M1638.5 670.5h0M1661.4 674.1h0M1478.4 653.4h0M1687.7 672.4h0M1704 662.1h0M1725.3 659.9h0M1740.3 654h0M1754.3 652.6h0M1769.7 648.9h0M1787.8 641.5h0M1807.2 638.3h0"/><path d="M1020.9 643.1h0M1037.6 645.8h0M1062.9 650.4h0M1089.4 659.3h0M1110.5 662.2h0M1129.6 674h0M1148.4 672h0M1168.3 672.2h0M1186.7 665.9h0M1205.8 657.7h0M1220.9 656.9h0M1234.7 649.7h0M1252.3 643.3h0M1269.3 643.4h0M1287.5 642.2h0M1305.2 642.4h0M1323.3 646h0M1344.8 657.5h0M1367.7 661.1h0M1384.3 666.7h0M1401.7 668.4h0M1416.4 664.4h0M1433.9 667h0M1451.2 661.4h0M1468.8 658.1h0M1484.5 650.6h0M1504.8 646.8h0M1529.5 635.4h0M1547.4 640.9h0M1571.5 647.8h0M1595.6 653.8h0M1622.1 665.1h0M1641.1 675.4h0M1662.5 671.6h0M1333.1 652.3h0M1688.5 672.2h0M1706.9 665.9h0M1726 657.7h0M1741.1 656.9h0M1754.9 649.7h0M1772.5 643.3h0M1789.5 643.4h0"/><path d="M1021.5 643h0M1039.9 644.9h0M1064.6 654h0M1094.8 660.8h0M1111.2 665.7h0M1131.4 676.4h0M1150.5 672.5h0M1169.9 667.1h0M1189.3 664.8h0M1206.6 655h0M1221.9 652.2h0M1235.3 650.3h0M1252.8 643.7h0M1272.4 643.1h0M1290.2 642h0M1306.9 642.8h0M1323.8 648.7h0M1345.9 652.4h0M1369.9 663.9h0M1386.1 664.1h0M1403.4 665.6h0M1417.6 663.5h0M1435.9 666.5h0M1452.1 661h0M1470.4 655.4h0M1485.9 649h0M1505.9 646.1h0M1531.3 642.6h0M1548.9 640.4h0M1575.3 648.5h0M1597.5 660.4h0M1625.3 661.5h0M1642.6 674.4h0M1663.4 676.5h0M1496.2 659.9h0M1690.1 667.1h0M1709.5 664.8h0M1726.8 655h0M1742.1 652.2h0M1755.5 650.3h0M1773 643.7h0M1792.6 643.1h0"/><path d="M1022.6 646.2h0M1045.3 646.7h0M1065.3 650.8h0M1096.5 663.1h0M1112.4 668.9h0M1132.2 673.2h0M1141.9 675.3h0M1173.2 670.4h0M1193.7 664.7h0M1207.7 661.7h0M1223.6 652.3h0M1236.1 649.7h0M1254.3 644.8h0M1273.2 639.4h0M1291.2 644.6h0M1307.5 643.7h0M1324.7 645.5h0M1346.8 654.7h0M1370.5 666.4h0M1389 667.9h0M1403.9 674.4h0M1418.5 665.5h0M1439.6 666h0M1454.2 658h0M1471.5 652.3h0M1487.6 648.7h0M1507.9 644.7h0M1533 645.7h0M1551.7 646.3h0M1577.6 649.5h0M1598.7 654.7h0M1626 667h0M1645.2 671.9h0M1664 673.6h0M1294.6 639.4h0M1693.4 670.4h0M1713.9 664.7h0M1727.9 661.7h0M1743.8 652.3h0M1756.3 649.7h0M1774.5 644.8h0M1793.4 639.4h0"/><path d="M1023.3 648.7h0M1046.8 644.8h0M1069.3 655.2h0M1098.7 665.9h0M1113 664.5h0M1135.5 673.9h0M1038.1 629.8h0M1174.2 670.8h0M1194.8 662.1h0M1208.6 656.7h0M1224.3 648.2h0M1237.1 647h0M1255.4 639.8h0M1276.2 644.6h0M1292.7 642.4h0M1308.7 644.9h0M1329.4 651h0M1351.9 655.2h0M1372.5 664h0M1389.8 666.8h0M1406.3 670.4h0M1421 661.4h0M1441 667.5h0M1455.6 659.5h0M1474.5 656.4h0M1489.6 648.9h0M1508.7 645.3h0M1537.8 639h0M1555.5 647.7h0M1578.3 650.5h0M1602.4 655.8h0M1628.3 663.6h0M1646.1 672.2h0M1664.8 674.6h0M1435.2 664.9h0M1694.4 670.8h0M1715 662.1h0M1728.8 656.7h0M1744.5 648.2h0M1757.3 647h0M1775.6 639.8h0M1796.4 644.6h0"/><path d="M1025.5 644.4h0M1048.2 645.7h0M1071.2 652.3h0M1100 664.9h0M1113.6 667.2h0M1137.8 670.3h0M1154.6 673.3h0M1175.5 667.3h0M1195.7 663.3h0M1209.2 656.8h0M1225 653.2h0M1237.6 649.2h0M1256.5 642.1h0M1276.7 648.7h0M1293.3 648.4h0M1309.7 645.1h0M1330.6 650.9h0M1352.5 657.7h0M1374.6 659.9h0M1391.8 668.9h0M1407.8 673.5h0M1421.7 662h0M1442.1 664.3h0M1456.9 657.4h0M1475.2 650.6h0M1490.5 646.7h0M1511.2 644.7h0M1538.6 643.5h0M1556.3 649h0M1582.3 649.9h0M1609.1 662.3h0M1629.1 666h0M1648.4 675.1h0M1667 676h0M1674.8 673.3h0M1695.7 667.3h0M1715.9 663.3h0M1729.4 656.8h0M1745.2 653.2h0M1757.8 649.2h0M1776.7 642.1h0M1796.9 648.7h0"/><path d="M1026 642.6h0M1049.4 645.4h0M1072.3 652.5h0M1100.7 660.5h0M1116.5 666.4h0M1140 675.6h0M1155.3 671.8h0M1176.5 667.5h0M1197.1 663.5h0M1209.8 661.2h0M1225.6 654.7h0M1239.1 651.3h0M1257.7 642.7h0M1277.3 638.8h0M1294.1 646.2h0M1310.9 647.3h0M1331.8 650.7h0M1354.4 657.6h0M1375.1 661.1h0M1392.3 667.9h0M1408.6 671h0M1423.1 663.8h0M1442.6 666.5h0M1459.5 656.3h0M1475.7 653.1h0M1493.3 650.2h0M1512.9 644.3h0M1541.1 643.1h0M1557.8 645.8h0M1583.1 650.4h0M1609.6 659.3h0M1630.7 662.2h0M1649.8 674h0M1668.6 672h0M1675.5 671.8h0M1696.7 667.5h0M1717.3 663.5h0M1730 661.2h0M1745.8 654.7h0M1759.3 651.3h0M1777.9 642.7h0M1797.5 638.8h0"/><path d="M1026.7 641.4h0M1050.1 647.8h0M1074.1 655.9h0M1101.4 664.9h0M1118.3 670.5h0M1141.2 674.1h0M1157.4 674.3h0M1177.2 665.5h0M1199.2 658.2h0M1211.1 656.5h0M1228.3 655.3h0M1240.2 647.1h0M1262.1 644.3h0M1278.6 642.5h0M1297.3 639.3h0M1313.9 645.9h0M1332.6 650.2h0M1355.8 658.3h0M1376 665.5h0M1393.2 671.1h0M1409.6 670.9h0M1426 669.5h0M1444.6 663.2h0M1460.8 656.4h0M1476.9 656.1h0M1495.7 648.9h0M1514.1 642.9h0M1541.7 643h0M1560.1 644.9h0M1584.8 654h0M1615 660.8h0M1631.4 665.7h0M1651.6 676.4h0M1670.7 672.5h0M1677.6 674.3h0M1697.4 665.5h0M1719.4 658.2h0M1731.3 656.5h0M1748.5 655.3h0M1760.4 647.1h0M1782.3 644.3h0M1798.8 642.5h0"/><path d="M1027.2 640.9h0M1051.3 647.8h0M1075.4 653.8h0M1101.9 665.1h0M1120.9 675.4h0M1142.3 671.6h0M1158.1 668.6h0M1178.2 667.6h0M1201.7 659.4h0M1216 655h0M1229.6 651.3h0M1241.2 647.9h0M1263.6 643.5h0M1279.4 643.8h0M1299.6 644.5h0M1317 647.4h0M1333.6 651.1h0M1357.6 658.1h0M1378 668h0M1397 670.5h0M1410.2 671.4h0M1426.5 671.9h0M1445.3 662.9h0M1462.7 656.3h0M1477.9 654.1h0M1496.5 650h0M1516.8 643.4h0M1542.8 646.2h0M1565.5 646.7h0M1585.5 650.8h0M1616.7 663.1h0M1632.6 668.9h0M1652.4 673.2h0M1662.1 675.3h0M1678.3 668.6h0M1698.4 667.6h0M1721.9 659.4h0M1736.2 655h0M1749.8 651.3h0M1761.4 647.9h0M1783.8 643.5h0M1799.6 643.8h0"/><path d="M1028.7 640.4h0M1055.1 648.5h0M1077.3 660.4h0M1105.1 661.5h0M1122.4 674.4h0M1143.2 676.5h0M1163.8 669.4h0M1179.7 665.6h0M1203.1 661.2h0M1217.2 654.8h0M1232.2 648.6h0M1241.7 649.8h0M1264.3 643.3h0M1280.7 639.2h0M1300.5 645.9h0M1317.6 646.3h0M1338.1 650.4h0M1358.3 661.2h0M1380.6 664.4h0M1398 670h0M1410.7 666.9h0M1428.5 664.8h0M1445.9 664.2h0M1464.8 656.2h0M1479.4 651.8h0M1497.2 649.8h0M1517.5 643.9h0M1543.5 648.7h0M1567 644.8h0M1589.5 655.2h0M1618.9 665.9h0M1633.2 664.5h0M1655.7 673.9h0M1463.5 654.6h0M1684 669.4h0M1699.9 665.6h0M1723.3 661.2h0M1737.4 654.8h0M1752.4 648.6h0M1761.9 649.8h0M1784.5 643.3h0M1800.9 639.2h0"/><path d="M1031.5 646.3h0M1057.4 649.5h0M1078.5 654.7h0M1105.8 667h0M1125 671.9h0M1143.8 673.6h0M1165.4 669.5h0M1181.7 664.9h0M1203.6 660.2h0M1217.8 657.1h0M1232.9 654.4h0M1244.6 649.3h0M1264.9 642.4h0M1282.6 640.5h0M1301.2 648h0M1319 648.3h0M1340.8 654.1h0M1359.2 658.8h0M1381.1 661.5h0M1398.6 670.3h0M1411.6 668.3h0M1429 668.3h0M1448.6 660.6h0M1466 656.3h0M1480.4 652.8h0M1497.9 646.7h0M1518.5 643.4h0M1545.7 644.4h0M1568.4 645.7h0M1591.4 652.3h0M1620.2 664.9h0M1633.8 667.2h0M1658 670.3h0M1558.3 629.8h0M1685.6 669.5h0M1701.9 664.9h0M1723.8 660.2h0M1738 657.1h0M1753.1 654.4h0M1764.8 649.3h0M1785.1 642.4h0M1802.8 640.5h0"/></g>
</g>
<rect x="1021.20" y="449.00" width="780.30" height="267.90" fill="none" stroke="#000" stroke-width="2.00"/>
<path d="M1046.81 716.90v-6.60M1046.81 449.00v6.60M1150.85 716.90v-6.60M1150.85 449.00v6.60M1254.89 716.90v-6.60M1254.89 449.00v6.60M1358.93 716.90v-6.60M1358.93 449.00v6.60M1462.97 716.90v-6.60M1462.97 449.00v6.60M1567.01 716.90v-6.60M1567.01 449.00v6.60M1671.05 716.90v-6.60M1671.05 449.00v6.60M1775.09 716.90v-6.60M1775.09 449.00v6.60" stroke="#000" stroke-width="1.90" fill="none"/>
<text x="1046.81" y="733.10" text-anchor="middle" font-size="18.30"><tspan class="m">−</tspan>0.2</text>
<text x="1150.85" y="733.10" text-anchor="middle" font-size="18.30">0.0</text>
<text x="1254.89" y="733.10" text-anchor="middle" font-size="18.30">0.2</text>
<text x="1358.93" y="733.10" text-anchor="middle" font-size="18.30">0.4</text>
<text x="1462.97" y="733.10" text-anchor="middle" font-size="18.30">0.6</text>
<text x="1567.01" y="733.10" text-anchor="middle" font-size="18.30">0.8</text>
<text x="1671.05" y="733.10" text-anchor="middle" font-size="18.30">1.0</text>
<text x="1775.09" y="733.10" text-anchor="middle" font-size="18.30">1.2</text>
<path d="M1021.20 710.30h6.60M1801.50 710.30h-6.60M1021.20 667.35h6.60M1801.50 667.35h-6.60M1021.20 624.40h6.60M1801.50 624.40h-6.60M1021.20 581.45h6.60M1801.50 581.45h-6.60M1021.20 538.50h6.60M1801.50 538.50h-6.60M1021.20 495.55h6.60M1801.50 495.55h-6.60M1021.20 452.60h6.60M1801.50 452.60h-6.60" stroke="#000" stroke-width="1.90" fill="none"/>
<text x="1017.30" y="717.20" text-anchor="end" font-size="18.30">0.2</text>
<text x="1017.30" y="674.25" text-anchor="end" font-size="18.30">0.4</text>
<text x="1017.30" y="631.30" text-anchor="end" font-size="18.30">0.6</text>
<text x="1017.30" y="588.35" text-anchor="end" font-size="18.30">0.8</text>
<text x="1017.30" y="545.40" text-anchor="end" font-size="18.30">1.0</text>
<text x="1017.30" y="502.45" text-anchor="end" font-size="18.30">1.2</text>
<text x="1017.30" y="459.50" text-anchor="end" font-size="18.30">1.4</text>
<text x="1411.35" y="753.20" text-anchor="middle" font-size="18.20">Phase</text>
<text transform="translate(988.30 582.95) rotate(-90)" text-anchor="middle" font-size="18.20">Normalized Flux + offset</text>
<g class="d" stroke="#e76f51" stroke-opacity="0.90"><path d="M100.9 828h0M102.4 820.3h0M98.5 811.9h0M104.6 827.8h0M97.6 812.3h0M113.1 813.9h0M99.9 814.1h0M114.8 826.3h0M104 815.9h0M101 830.9h0M112 833.1h0M95.1 815.6h0M96.7 817.1h0M109.9 811.3h0M100 829.2h0M98.5 820.3h0M108 807.7h0M99.7 828.2h0M108.8 824.9h0M107.4 823.9h0M93.5 824.3h0M101 833.4h0M110.5 830.2h0M93.3 813.2h0M101.9 833.9h0M100.5 834.4h0M95.6 811.7h0M111.3 813.7h0"/><path d="M93.3 827.8h0M98.7 833.2h0M96 819.6h0M96.2 813h0M105.6 822.5h0M98.6 825.2h0M94.1 832.7h0M106.1 829.8h0M111.4 822.4h0M96.3 833.8h0M95.2 808h0M108.7 828.4h0M93.7 822h0M108.5 813.5h0M96.2 818.7h0M97.5 810.9h0M93.3 824.9h0M96 827.9h0M98.5 811.5h0M114 810.6h0M114 814.1h0M96.3 826.5h0M93.4 815.1h0M112.4 834.3h0M95 832.7h0M98.9 809.3h0M96.8 834.1h0M96.6 809.8h0"/><path d="M92.8 818.6h0M104 821.1h0M105 823.5h0M110.7 822.9h0M101.7 823.8h0M105.6 831.5h0M94.7 808.6h0M105.5 827.9h0M95.9 834.7h0M105.6 825h0M113.5 820.1h0M102.4 825.5h0M98.9 812.9h0M111.9 826.7h0M105.5 828.9h0M106.9 830.4h0M102.5 814.9h0M113.4 824.3h0M95.6 813.5h0M95.2 817.3h0M97.7 834.8h0M109.9 810.5h0M105.3 811.1h0M96.3 833h0M107.8 832.8h0M97 810.1h0M107.3 824.9h0M110 828h0"/><path d="M108.1 808.5h0M111.7 815.9h0M109 812.8h0M110.3 811.7h0M107.7 821.9h0M107.8 830.3h0M107.8 830.7h0M109.5 823h0M114.4 812.6h0M107.6 811h0M112.9 827.9h0M114.7 832.9h0M112.4 838.3h0M99.6 829.2h0M100.8 816.9h0M106.6 815.3h0M94.7 820h0M113.5 810.3h0M94.2 819.7h0M108.5 810.8h0M104.2 830.9h0M110.5 824.4h0M97.4 816.3h0M101.3 816.9h0M101.7 810h0M96.2 809h0M101.1 817.4h0M110.7 829.2h0"/><path d="M108.4 823.9h0M105.9 820.2h0M92.7 831.2h0M110 826.3h0M112.8 829.5h0M94.3 807.2h0M98.7 834h0M92.6 817.9h0M96.1 812.3h0M104.7 821.5h0M101.1 814.8h0M95.5 823.8h0M92.8 818h0M114.3 833.9h0M111.2 811.3h0M113.1 811.3h0M92.5 813.4h0M110.3 814.5h0M103.3 828h0M103.3 836h0M94 833.8h0M96.4 830.7h0M108.8 834.3h0M100.5 833.1h0M105.4 818.9h0M95 834.9h0M96.9 828.4h0M110.5 830.7h0"/><path d="M100.6 820.9h0M98.6 834.3h0M99 820.3h0M97.6 813.1h0M93 816.2h0M112 828.9h0M114.3 833.6h0M108.4 817.4h0M95.5 826.8h0M101.2 809.1h0M96.4 830.3h0M114.4 809.4h0M111.1 831.1h0M114.6 826.1h0M94.5 832.3h0M106.6 815.5h0M101.5 821.5h0M110 827.4h0M95 836.7h0M97.2 818.9h0M97.3 837.3h0M93.4 811.4h0M92.9 807.1h0M110.1 832.1h0M115.3 821.9h0M111.8 810.2h0M101 828.8h0M113 810.6h0"/><path d="M112 828.1h0M112.9 834.2h0M103.7 833.3h0M102.4 831.5h0M98.6 827.7h0M111.4 832.9h0M113.1 810.3h0M101.1 811.4h0M93.1 833.4h0M98.5 815.4h0M110.7 820h0M114.5 815.7h0M96.9 827.9h0M109 813h0M113 819.7h0M105.3 812.9h0M113.7 822.8h0M103.1 818.6h0M102.1 815.9h0M105.5 833.3h0M103.4 813.3h0M109.4 808.9h0M108.6 818.7h0M109.8 818.9h0M111.3 820.3h0M102.9 820.9h0M101.5 818.7h0M114.3 808.2h0"/><path d="M99.2 822.4h0M95 833.5h0M114.6 828.2h0M94.6 829.6h0M112.4 831.5h0M93.1 832h0M109.1 830.6h0M92.6 828.9h0M112.8 824.5h0M108.1 808.6h0M93.5 826.3h0M99.6 831.3h0M99.5 826.8h0M93.8 811.5h0M101.1 815h0M98.5 820.3h0M95.5 832.1h0M111.9 833h0M106.4 836.7h0M102.3 835h0M109.6 831.2h0M110.9 817.8h0M102.9 817h0M94.5 826.1h0M97.1 809.1h0M109.1 830.1h0M112.8 830.6h0M114.9 807.9h0"/><path d="M104.5 818.4h0M109.7 828.7h0M104 820.9h0M105.8 808.8h0M95.3 824.6h0M103.5 816.4h0M103.9 812h0M102.5 819.1h0M106.6 812.8h0M96.6 814h0M109.7 835.7h0M93.9 819.5h0M105.5 830.1h0M101.3 826.2h0M109.2 835.3h0M93.3 822.3h0M115.1 835.6h0M101.8 826.5h0M93.9 814.7h0M101.2 813.4h0M110.1 829.2h0M94.2 825h0M108.4 820.3h0M112 830.3h0M102.4 824.3h0M110.3 815.9h0M102.4 833.5h0M113.6 807.3h0"/><path d="M95.8 819.9h0M102.7 820.1h0M105 830.4h0M97.1 812.7h0M105.5 828.1h0M113.6 815.4h0M109.9 813h0M113.6 814.8h0M107.3 832.7h0M113.7 830h0M109.1 823.1h0M111.5 832.2h0M112.9 833.7h0M110.6 831.3h0M97.5 808.5h0M106.6 811.4h0M102.7 825.6h0M103.5 813.1h0M110.6 835.8h0M112.3 827.1h0M103.3 831.6h0M101.5 823.6h0M95.1 821.4h0M96.2 811.8h0M105.5 833.5h0M112 828.4h0M112.9 833h0M114.1 805.2h0"/><path d="M100.6 827.9h0M104.6 830.9h0M104.8 817.7h0M111.3 812.6h0M114.3 826h0M100.6 826.8h0M92.8 824.8h0M106 831.6h0M101.7 815.6h0M103.9 812.3h0M95.6 815.3h0M107.4 834.6h0M105.1 831.6h0M97.6 814.9h0M94.4 820.5h0M96.3 832.2h0M99.4 817.4h0M96.2 812.4h0M94.7 817.7h0M105.3 815h0M98.2 832.7h0M108.3 830.9h0M111.5 823.6h0M108.9 818.8h0M100.2 812.5h0M105.9 827.7h0M97.2 827.5h0M113.6 805.5h0"/><path d="M109.1 820.4h0M98.4 809.9h0M96.3 832.3h0M104.9 812.1h0M97.5 812.7h0M102.6 813.5h0M114.1 824.5h0M98.5 816.4h0M94.9 830.2h0M104.7 820.2h0M92.6 814.8h0M108.8 827.8h0M105.3 810.7h0M103.6 821.3h0M93.6 829.1h0M115.3 823.1h0M113.7 833h0M104.6 836.8h0M95.2 809.1h0M111 827.4h0M106.4 825.5h0M100.1 824.1h0M107.5 822.6h0M95.4 827.3h0M93.9 817.6h0M111.8 816.1h0M112.4 835.4h0"/></g>
<g class="d" stroke="#f4a261" stroke-opacity="0.90"><path d="M125.5 831.7h0M130 832.4h0M118 842.3h0M131.5 834.4h0M124.6 831.2h0M118 838.5h0M138.2 835.6h0M131.2 848.9h0M130 832h0M123.1 834.7h0M121.4 830.5h0M133.6 837h0M129.8 848.4h0M117.3 831.8h0M117.7 824.4h0M125.5 837h0M131.9 829.3h0M133.9 848.7h0M138.5 847.2h0M117.8 839.3h0M127.6 851.9h0M119.6 829.5h0M120.2 845.7h0M126.2 846.3h0M118.4 847.7h0M125.3 848.5h0M136.4 831.9h0M121 843.6h0"/><path d="M125.4 838.2h0M120.8 833.9h0M123.9 846.6h0M127.7 829.9h0M134 844.9h0M130.3 853.4h0M120.2 847.9h0M132.6 850.2h0M134.2 830.9h0M135.1 830.4h0M139 849.1h0M137.8 829h0M123.3 837.7h0M132.3 831.4h0M122.1 837.3h0M131.9 828.9h0M122.1 834.8h0M126.2 848.6h0M122 847.9h0M135.6 826.6h0M128.5 845h0M121.6 848.2h0M121.2 839.8h0M130.2 838.1h0M131.2 853.1h0M130.6 841.1h0M139.4 850h0M118.8 850.9h0"/><path d="M133.6 831h0M122.9 849.4h0M119.2 839h0M124.1 828.2h0M120.6 846.8h0M126.6 852h0M119 827.4h0M124.8 854.7h0M130.5 828h0M134.7 826.7h0M131.4 827.3h0M131.4 833.1h0M124.4 839.8h0M127.9 852.4h0M122.2 826.5h0M125.1 834.9h0M136.1 842.2h0M121.5 842.4h0M132.6 848.7h0M121.2 837.8h0M126.7 840.9h0M131.6 850h0M137.5 845h0M131 830.1h0M136 830.8h0M137.9 839.3h0M130.2 847.2h0M130.1 829.9h0"/><path d="M124.4 839.2h0M129.4 843h0M119.3 845.4h0M127.5 851.4h0M130.1 833.6h0M132.7 837.8h0M127.7 831.9h0M129.3 847.9h0M128.5 843.3h0M137 832.9h0M130.7 849.9h0M122.7 827.9h0M128.4 851h0M139.4 844.7h0M117.3 827.8h0M138 848h0M124.1 830.2h0M125.1 842h0M130.9 839.3h0M124.3 850.3h0M121.3 823.7h0M123.2 833.8h0M132.3 829.8h0M118.5 825.8h0M135.1 827.7h0M119.1 823.3h0M132.1 848.2h0M139.1 830h0"/><path d="M122.2 838.3h0M126.1 851.7h0M120.9 823.6h0M125.4 840.6h0M130.9 830.6h0M130.2 851.1h0M122.9 839h0M122.7 832.3h0M125.2 852h0M137.2 846h0M121.1 846.7h0M129 842.3h0M135.2 846.3h0M138.3 827.5h0M136.8 832.1h0M120 826.8h0M118.8 848h0M131.8 836.8h0M139.1 844.7h0M128.6 836.2h0M137.3 838.1h0M124.6 837.2h0M119.2 844.8h0M131.9 831h0M133.2 829.1h0M126 831.8h0M121.6 848.4h0M138.6 838.4h0"/><path d="M138.1 844.9h0M126.3 843.6h0M118.2 831.4h0M132.8 829.5h0M134.8 841.1h0M120.1 840.6h0M123.2 825.9h0M118.8 846.6h0M125.5 832.7h0M139.4 851h0M121.1 849h0M132.9 831.7h0M138.9 846.2h0M127.6 849.2h0M134.7 836.6h0M120.9 830.5h0M117.7 832.1h0M131.1 839.2h0M132.2 843.1h0M124.2 837.4h0M131.6 850.9h0M138.2 841.3h0M130.2 842.1h0M134.8 848.4h0M121.5 845.2h0M135.8 848.5h0M120.7 845.3h0M139.4 850.4h0"/><path d="M133.8 838.4h0M132 836.1h0M137.9 836.8h0M129.4 846.6h0M137.1 846.2h0M132.8 831.3h0M121.2 845.3h0M120.6 846h0M136.8 843.4h0M124.3 850h0M126.4 833h0M121.4 828.7h0M132.5 847.7h0M135.8 847.5h0M134.4 848.6h0M136.8 842.2h0M135.8 849.5h0M119.4 832.8h0M122 850.7h0M136 825.3h0M124.9 840h0M122.1 836.5h0M135.8 845h0M121.2 844.9h0M121.7 836.2h0M121.1 850.6h0M126 836.7h0"/><path d="M126.2 858.1h0M118.6 825.6h0M130.3 849.3h0M126.4 835.4h0M135.9 834.1h0M120 832.2h0M123.6 829.1h0M117.1 842.7h0M123.5 830.2h0M122.1 845.7h0M137.2 849.9h0M137.4 829.6h0M120.1 850.4h0M133.4 841.5h0M135.3 853.5h0M122.7 828.4h0M128.8 842.2h0M136.3 842.6h0M125.4 829.5h0M138.8 829.9h0M123.9 849.2h0M120.5 837.9h0M122.4 837.7h0M118.7 836.8h0M126.4 832.5h0M137.1 854.3h0M123.4 852h0"/><path d="M121.5 850.9h0M133.9 848.9h0M124.2 835.4h0M117 844.4h0M121.1 847.2h0M119.9 830.1h0M133.6 836h0M137.3 839.2h0M120.5 837.7h0M138.3 832h0M135.3 847.2h0M120.2 839.6h0M136.6 841.3h0M133.7 828.5h0M137.9 836.1h0M125 831.1h0M122.4 840.2h0M130.3 849.3h0M137.2 845.5h0M137.8 832.5h0M119.5 824.9h0M124.4 845.9h0M128 852.6h0M128.8 835.1h0M134.6 833.1h0M133.1 839.7h0M127.4 843h0"/><path d="M128.2 827.8h0M138.5 848.5h0M122.5 846.8h0M129.3 841.1h0M134.4 844.5h0M132 842.1h0M126.1 853h0M138.5 850.7h0M139.3 840.3h0M137.6 849.5h0M122.9 850.2h0M117.2 825.9h0M135.3 853.4h0M124.9 838.7h0M120.4 831.3h0M127.2 841.7h0M118.4 837.4h0M129.7 841.9h0M118.9 838.8h0M128 852.3h0M127.6 849.6h0M125.7 847.7h0M134.8 852.4h0M128.4 849.8h0M118.8 843.7h0M125.7 850.5h0M121 829.3h0"/><path d="M126.5 837.7h0M137.4 836.3h0M117 842.5h0M136.5 836.2h0M130.4 828.6h0M137.5 840.5h0M128.2 830.8h0M120.6 843.5h0M123.4 849.8h0M128.7 829.2h0M118.4 843h0M123.5 838.5h0M132.9 845h0M133.4 853.5h0M128.1 848.5h0M133.3 834.5h0M138.8 843h0M131.4 825.3h0M134.3 839.8h0M134.6 830.7h0M124.5 833.3h0M128.1 835.6h0M123.2 825.8h0M127.1 849.5h0M118.2 842h0M135.2 848.9h0M132 843.8h0"/><path d="M123.7 832.5h0M136.9 829.8h0M117.6 824.5h0M122.6 835.2h0M126.2 848.3h0M133.1 844.5h0M120.4 823.2h0M135.4 844.2h0M119.3 842.5h0M124 830.1h0M130.7 850.8h0M134.4 851.4h0M135.4 846.5h0M117.7 825.3h0M125.3 844.3h0M137.4 832.2h0M134.8 847.3h0M129.4 848.6h0M128.5 847.1h0M124.1 833.1h0M137.2 856.7h0M133.2 829.6h0M133 845.9h0M136.8 833.2h0M137.2 847.2h0M126.6 850.9h0M129.1 825.6h0"/></g>
<g class="d" stroke="#e9c46a" stroke-opacity="0.90"><path d="M772.5 851.6h0M768.3 847.5h0M768.2 851.1h0M768.7 845.3h0M775.5 846.6h0M760.1 854.6h0M755.5 861.8h0M759.5 855.1h0M766.5 852h0M756.2 859.4h0M758.9 864.4h0M760.6 862.4h0M769.9 861.5h0M776.5 844.8h0M767.7 863.2h0M768.3 854.2h0M764.2 850.2h0M755.9 843.3h0M754.5 845.7h0M771.2 863.3h0M768.5 871.4h0M765.8 867.9h0M773.5 865.5h0M775.8 868.9h0M767.1 868.9h0M762.2 854.5h0M759.9 854.2h0M770 846.7h0M766.4 832.3h0M754.6 842.8h0"/><path d="M754.3 866.5h0M770.6 843.8h0M754.7 862.6h0M764.1 853.3h0M760 848.6h0M760.3 867.2h0M767.2 861.1h0M774.7 845.3h0M766.7 859.1h0M757.7 845h0M754.1 846.1h0M774.9 867.3h0M759.1 844.2h0M775.9 863.7h0M773.7 855h0M765.3 865h0M768.5 868.8h0M755.8 861.2h0M768.5 866.8h0M776.4 849.4h0M756.6 870.6h0M759.8 865.6h0M770 847h0M768.5 865.2h0M775.8 870h0M766.3 851.7h0M762.1 870.9h0M771.1 855.8h0M767.3 842.3h0M755.6 838.8h0"/><path d="M775.7 855.7h0M776.6 861.1h0M770.8 866.1h0M772.2 864.4h0M771.1 850.2h0M762.3 847.1h0M772.5 858h0M760.6 861h0M771.1 850.7h0M755.8 860.2h0M775 853.8h0M769.3 854.3h0M764.9 853.2h0M774.9 866.6h0M768.8 846.2h0M763.9 869.8h0M763.6 858.3h0M768.7 845.2h0M755 848.8h0M763.9 866.6h0M770.3 866.9h0M773.5 867h0M755.8 856.8h0M757.5 865.9h0M767.6 868.9h0M756.3 843.1h0M758.5 864.8h0M755.3 856.4h0M767.5 840.5h0M757 838.7h0"/><path d="M774.1 854.3h0M760.7 863.4h0M760.2 870.4h0M771.9 840h0M770.8 863.8h0M760.7 868.2h0M776.4 862.8h0M774.2 845.3h0M776.4 850.2h0M774.1 857.4h0M769.1 845.3h0M774.9 868.2h0M765.4 845.8h0M774.1 856.3h0M764.9 857h0M768.2 850.8h0M776.3 866.3h0M764.5 858.8h0M756.8 845.5h0M755.4 847.1h0M763.4 869.1h0M766.3 857.3h0M761.6 866.4h0M766.6 863.1h0M764.3 869.8h0M775.8 866.4h0M765.3 866.9h0M756.5 862.6h0M766.7 831.1h0M756.3 838.3h0"/><path d="M759.2 859.6h0M759.9 861h0M760.8 863.5h0M770.7 860.9h0M771.3 866.2h0M757.5 865.4h0M756.3 850.9h0M758.6 846.9h0M766.3 847.7h0M763.4 871.6h0M757.4 851.5h0M771.3 867.1h0M774 869.9h0M755.6 861h0M758.2 850.7h0M759.2 852.6h0M764.4 860.6h0M763.2 847.1h0M759.3 868.1h0M756.9 861.7h0M763.6 850.7h0M760.8 854.5h0M775 862h0M773.5 866.1h0M758.3 865.2h0M762.6 865.1h0M762.9 859.7h0M760 848.4h0M767.2 836.4h0"/><path d="M759.4 867.9h0M765.2 860.6h0M756.1 867.4h0M756.8 845.1h0M764.6 846.4h0M767.5 869.6h0M754.7 866.3h0M758.9 870.2h0M773.4 853h0M759.8 869.3h0M758.2 844.7h0M760 845.6h0M754.6 853.9h0M774.7 847.8h0M766.5 850.2h0M761.5 855.2h0M754.7 862.4h0M771.6 858.7h0M759.5 847.9h0M771.2 865.7h0M768.1 866.4h0M765.7 866h0M767.4 854.6h0M757.7 846.8h0M770.4 863h0M759 847.8h0M770 857.4h0M761.9 847.1h0M767.2 832.5h0"/><path d="M765 854.2h0M758 868.6h0M772 853.8h0M765.3 867.5h0M767.8 848.1h0M767.6 866.5h0M763.4 866.5h0M762 858h0M773.8 856.8h0M773.5 865.5h0M760.5 844.3h0M759.2 860.3h0M765.3 866h0M759.6 850.4h0M776.5 847.9h0M774 867.8h0M760.6 862.2h0M764.9 866.3h0M767.5 866h0M771.7 869.1h0M770.3 868.1h0M763.6 852.1h0M756 850.4h0M773.8 843.4h0M773.8 845.5h0M767.9 858.6h0M762.2 852.3h0M766.4 842.4h0M766.8 832.6h0"/><path d="M755.3 862.8h0M769.1 855.7h0M771.2 870.1h0M767.4 846.1h0M772.8 847.9h0M761.3 843.9h0M769.4 868.3h0M762.7 844.9h0M766.9 846.6h0M769.7 848.7h0M758.4 870.6h0M772.1 865.5h0M765.5 842.2h0M773.1 865.7h0M759.5 854.8h0M756 852.9h0M760.1 856.2h0M763.7 845.8h0M767.9 847.5h0M766.9 843.9h0M762.6 861.7h0M764.7 852.9h0M770 850.4h0M774.1 862.6h0M761.7 861.4h0M770.9 849.3h0M758 860.8h0M766.3 829.8h0M766.7 836.5h0"/><path d="M772.6 869.6h0M775.1 846.3h0M758.9 866.6h0M755.6 863.7h0M776.7 864.7h0M770 853.1h0M774.8 851.7h0M763.9 866.5h0M775.9 861.6h0M759.7 858.1h0M772.4 852.5h0M774.4 863.7h0M762.9 863.3h0M771 847.3h0M771.6 859.9h0M775.1 842.5h0M756.4 856.6h0M770.3 868.4h0M775.4 862.7h0M768.8 857.2h0M774.4 865.8h0M775.7 856.5h0M769.9 859.5h0M756.5 866.1h0M775.8 867.5h0M757.5 869h0M757.2 854.3h0M766.2 834.4h0M756.8 840.8h0"/><path d="M765.9 851.3h0M768.2 848.4h0M763.4 861.4h0M768.2 846.9h0M762.4 861.2h0M760.5 841.4h0M763.5 864.1h0M764.8 867.3h0M756.3 848.8h0M758.7 843.1h0M776.3 861.3h0M756.1 866.1h0M756 854.8h0M773 862.4h0M772.3 852.1h0M770.4 853h0M755.4 842.9h0M761.6 869.9h0M771.8 853.3h0M772.4 845.3h0M775.6 843.9h0M765.4 859.7h0M759.9 860.2h0M773.4 857.2h0M772.9 844.4h0M762.5 865.9h0M770 855.9h0M766.4 832.8h0M757.3 838.8h0"/><path d="M773.1 865.8h0M761.6 866.9h0M770.9 860.3h0M772.3 851.7h0M761.2 864.1h0M764.6 850.1h0M766.3 859.7h0M768.1 862h0M760.8 856.8h0M770.6 845.4h0M763.7 846.9h0M760 844.3h0M763.1 855.4h0M765.1 847.5h0M775.8 868.7h0M754.6 863.6h0M773.2 850.1h0M759.7 860.9h0M754.5 840.8h0M766 853.3h0M775.9 864.6h0M762.2 860.6h0M770.4 865h0M754.5 846.1h0M763.2 848.6h0M763.3 842.6h0M757.4 869.7h0M765.9 843.1h0M756.9 841h0"/><path d="M772.8 844.1h0M767.7 854.6h0M764.9 866.2h0M767.6 868.7h0M758.1 845.4h0M756.6 873h0M754.3 865.8h0M760.8 861.1h0M771 845.7h0M776.1 844.7h0M759.5 846.7h0M761.3 847.9h0M770.4 858.8h0M763.7 842.7h0M772.4 846.3h0M765.3 867.2h0M755.3 856.6h0M773.7 845.2h0M763.3 849.9h0M760.1 849.8h0M775.1 849.2h0M771.1 851.6h0M759.2 851.4h0M768.1 855.4h0M759.1 848.3h0M773.2 851.9h0M757.8 854.1h0M766.9 835.2h0M755.8 839.2h0"/></g>
<g class="d" stroke="#8ab17d" stroke-opacity="0.90"><path d="M789.3 867.9h0M798.6 870.1h0M781.7 879.6h0M783.9 869.9h0M782.7 886.7h0M793.5 873.1h0M783.2 879.1h0M795.3 866.4h0M796.2 864.4h0M782.3 882.7h0M788 868.5h0M799 864.7h0M796.7 863.7h0M797.6 867.4h0M796.7 866.3h0M790.3 869.8h0M780.1 869.2h0M787.3 880.2h0M795.3 866.8h0M790.7 870.2h0M789.5 883.4h0M780.3 874.9h0M791.6 869.8h0M778.9 872.6h0M793 867.2h0M795.1 891h0M787.4 874.3h0M794.5 879h0"/><path d="M796.3 868.9h0M779.3 870.7h0M789.5 885.5h0M789.8 867.9h0M790.5 889.8h0M779.5 888.4h0M790.7 863.3h0M784.4 873.4h0M798.5 864.2h0M788.9 865.9h0M789.9 883.9h0M779.2 869.2h0M793.3 888.6h0M798 873.2h0M788 868.9h0M782.9 865h0M791.2 867.2h0M788.7 884.2h0M799.2 882.7h0M793.4 870.1h0M782.8 873.3h0M797.4 887.5h0M780.3 873.4h0M782.2 889.4h0M793.2 890h0M794.4 869h0M783.6 884.9h0M787.5 862.4h0"/><path d="M783 865.5h0M784.5 890.1h0M794.3 874.1h0M779.9 881.7h0M786 870h0M780.4 885.5h0M797.4 882.4h0M782 868.3h0M791.2 864.8h0M785.4 886.2h0M795.9 882.9h0M779.6 876.7h0M786.5 867.9h0M791.2 863.5h0M780.8 882.1h0M784.7 871.2h0M785.2 864.6h0M796.2 866.7h0M783.6 887.4h0M785.8 882.3h0M785.8 877.4h0M779 885.8h0M781.9 868.1h0M779.5 887.1h0M783.7 878.1h0M790.4 881.4h0M781.7 879.9h0M795.6 884.2h0"/><path d="M778.5 883.4h0M782.8 872.7h0M788.9 867.4h0M795.7 869.2h0M789.4 865.9h0M788.2 882.9h0M792.5 869.1h0M778.1 882.2h0M789.5 879.4h0M779.7 868.8h0M791.3 874.4h0M781 874.4h0M784.5 887.2h0M794.3 873.9h0M798 868.7h0M780.5 874.2h0M798.5 864.1h0M795.8 867h0M780.8 889.9h0M791.8 878.2h0M784.3 866.9h0M783.4 866.3h0M785 885.6h0M779.4 887.9h0M799 867h0M791.1 867.6h0M797.7 881.6h0M785.7 870.4h0"/><path d="M797.8 889h0M790 888h0M800.2 877.6h0M799.5 874.2h0M781.9 869.6h0M787.6 880.5h0M798.6 874.6h0M783.2 888.3h0M788.9 868.6h0M792.4 883.5h0M778.9 867.4h0M782.4 875.2h0M785.7 868.3h0M781.1 865h0M790.3 868.1h0M789.5 887.1h0M781 869.4h0M783.8 864.2h0M788.2 890.3h0M787.5 867.2h0M789.5 877.4h0M791.1 868.4h0M779.5 889.9h0M782 872h0M786.3 881.8h0M798 871.1h0M799.8 881h0M781.8 888.7h0"/><path d="M780.9 883.5h0M779.9 880.9h0M800.2 874.9h0M784.5 888h0M799.3 872.2h0M787.5 870.2h0M794.9 870.2h0M782.3 885.4h0M799 867.4h0M791.5 879.9h0M787.9 870.6h0M791.3 886.6h0M797.6 866.2h0M787.3 883.2h0M794.8 865.6h0M792.1 866.5h0M790.2 872.5h0M790.9 889.4h0M789.9 876.9h0M798.5 863.2h0M790.7 867.4h0M780.8 885.2h0M780 887.3h0M790.2 867.5h0M780.2 869h0M783.5 872.1h0M795 884.7h0M791.4 889h0"/><path d="M783.2 888.5h0M790.1 881h0M779.8 879.8h0M800 885.3h0M787.7 886.5h0M789.8 867h0M791.2 870.3h0M784.5 883h0M797.8 891.1h0M790.9 887.7h0M793.9 869.1h0M798.8 877.1h0M785 890.4h0M780.4 889.2h0M798.4 865.7h0M778.4 871.3h0M799.3 867.5h0M799.4 867h0M797.7 878h0M788.7 885.7h0M795.8 867.9h0M799 869.5h0M785.7 870.1h0M795.3 868.5h0M788.9 868.5h0M795.2 877.3h0M785.7 870.7h0"/><path d="M784.3 871.4h0M781.7 887.2h0M799.1 886.4h0M799 865.8h0M783.4 862.7h0M787.9 872.1h0M796.5 882.3h0M780.3 873.5h0M792.2 881.5h0M780.2 871.2h0M786.3 886.3h0M786.2 869.9h0M781.9 875.6h0M780.5 884.6h0M781 871.2h0M796.4 887.5h0M784.5 887.3h0M783.2 881.2h0M799.3 873h0M790.6 872.5h0M789.5 883.3h0M784 889.3h0M786.4 884.9h0M798.1 871.5h0M790.6 871.5h0M786.7 872.5h0M799 863.9h0"/><path d="M778.6 890.8h0M794.9 866.1h0M797.9 881.8h0M787.9 872.1h0M779.1 889.3h0M796.8 886.1h0M793 866.6h0M782.1 885.4h0M785.8 877.8h0M793 869.8h0M779 883.5h0M798.5 864.2h0M784 879.3h0M789 871.2h0M781.5 868.7h0M783.7 874.8h0M797.4 879.5h0M782.4 877.1h0M790 888.6h0M781.9 872h0M797.6 871.8h0M780.5 884.9h0M794.6 887.2h0M798.5 864h0M790.7 870.2h0M792.8 881.2h0M788.8 870.5h0"/><path d="M783.3 873.4h0M786.6 871.6h0M780.5 882h0M788.4 865.9h0M791 886.8h0M791.3 874.6h0M778.4 863.5h0M780.9 888.1h0M796.8 881h0M787.4 871.5h0M799.2 885.5h0M784.1 888.5h0M786.8 888.2h0M796.6 866.6h0M798.9 866.6h0M789.8 864.9h0M800.1 889h0M790.6 883.5h0M792.5 864h0M794.2 881.2h0M796.7 866.5h0M780.8 883.2h0M799.8 872.6h0M785.1 873.3h0M791.3 875.8h0M800.1 888.1h0M789.1 889.4h0"/><path d="M787 868h0M786.3 885.7h0M794.9 869.5h0M792.4 877.9h0M787.2 878.9h0M784.7 870.5h0M792.5 866.8h0M783.4 865.4h0M799.2 888h0M785.3 875.4h0M789.7 881h0M785.2 871h0M799.3 878.1h0M780 885.4h0M785.2 866.9h0M779.5 888h0M779.9 886.9h0M787 867.6h0M790.6 882.8h0M788.3 868.4h0M779.1 885.1h0M787.2 890.3h0M781.5 867.1h0M796.8 885h0M799.8 867.9h0M787.6 877.6h0M797.5 865.1h0"/><path d="M781.8 886.4h0M797.2 868.7h0M785.5 876.4h0M779.5 885.2h0M793.3 886.3h0M787 867.6h0M795.2 872h0M787 874.5h0M789.1 886.4h0M785.4 887.9h0M782.1 882h0M790.1 875.6h0M788.7 888.7h0M778.8 864.3h0M791.2 864.1h0M785.4 888.5h0M790.1 887h0M784.5 889.9h0M778.2 883.4h0M781.5 872.4h0M785.8 881.2h0M788.8 878.5h0M794.7 880.3h0M791.2 868.3h0M790.1 877.7h0M796.3 873.7h0M778.4 878.6h0"/></g>
<rect x="56.05" y="770.70" width="779.05" height="160.20" fill="none" stroke="#000" stroke-width="2.00"/>
<path d="M66.30 930.90v-6.60M66.30 770.70v6.60M156.10 930.90v-6.60M156.10 770.70v6.60M245.90 930.90v-6.60M245.90 770.70v6.60M335.70 930.90v-6.60M335.70 770.70v6.60M425.50 930.90v-6.60M425.50 770.70v6.60M515.30 930.90v-6.60M515.30 770.70v6.60M605.10 930.90v-6.60M605.10 770.70v6.60M694.90 930.90v-6.60M694.90 770.70v6.60M784.70 930.90v-6.60M784.70 770.70v6.60" stroke="#000" stroke-width="1.90" fill="none"/>
<text x="66.30" y="947.70" text-anchor="middle" font-size="18.30">1900</text>
<text x="156.10" y="947.70" text-anchor="middle" font-size="18.30">2000</text>
<text x="245.90" y="947.70" text-anchor="middle" font-size="18.30">2100</text>
<text x="335.70" y="947.70" text-anchor="middle" font-size="18.30">2200</text>
<text x="425.50" y="947.70" text-anchor="middle" font-size="18.30">2300</text>
<text x="515.30" y="947.70" text-anchor="middle" font-size="18.30">2400</text>
<text x="605.10" y="947.70" text-anchor="middle" font-size="18.30">2500</text>
<text x="694.90" y="947.70" text-anchor="middle" font-size="18.30">2600</text>
<text x="784.70" y="947.70" text-anchor="middle" font-size="18.30">2700</text>
<path d="M56.05 897.60h6.60M835.10 897.60h-6.60M56.05 822.20h6.60M835.10 822.20h-6.60" stroke="#000" stroke-width="1.90" fill="none"/>
<text x="52.15" y="904.50" text-anchor="end" font-size="18.30">0.95</text>
<text x="52.15" y="829.10" text-anchor="end" font-size="18.30">1.00</text>
<text x="445.57" y="967.50" text-anchor="middle" font-size="18.20">Time - 2457000 [BTJD Days]</text>
<text transform="translate(13.40 850.80) rotate(-90)" text-anchor="middle" font-size="18.20">Normalized Flux + offset</text>
<circle cx="396.5" cy="854.10" r="2.5" fill="#e76f51"/>
<text x="421.3" y="858.00" font-size="13.60">Sector 23 - 0.00</text>
<circle cx="396.5" cy="873.48" r="2.5" fill="#f4a261"/>
<text x="421.3" y="877.38" font-size="13.60">Sector 24 - 0.01</text>
<circle cx="396.5" cy="892.86" r="2.5" fill="#e9c46a"/>
<text x="421.3" y="896.76" font-size="13.60">Sector 50 - 0.02</text>
<circle cx="396.5" cy="912.24" r="2.5" fill="#8ab17d"/>
<text x="421.3" y="916.14" font-size="13.60">Sector 51 - 0.04</text>
<g class="d" stroke="#e76f51" stroke-opacity="0.90"><path d="M1074 822.2h0M1065.2 820.5h0M1066.7 830h0M1056.6 832.1h0M1067.6 835.3h0M1057.6 839.5h0M1070.8 823h0M1070 823h0M1067.6 821.2h0M1063.1 822.7h0M1065.4 824h0M1066.4 821.3h0M1058.8 832.5h0M1062.2 833.2h0M1074.7 823.5h0M1069.1 832.4h0M1069.4 819.9h0M1074.6 835h0M1067.4 831.3h0M1069.4 830.7h0M1067.2 820.8h0M1073.8 827.8h0M1059.3 837.8h0M1059.3 832.8h0M1060.4 834.9h0M1064 808.1h0M1062.9 811.2h0M1064.2 808.2h0M1073.8 806h0M1073 810.1h0"/><path d="M1057.3 822.4h0M1072.5 834.2h0M1057.5 826.1h0M1058.1 819.8h0M1057.3 823.4h0M1063.9 833.5h0M1061.2 826.3h0M1070.2 837.9h0M1058 820h0M1070.1 821.5h0M1064.2 821.1h0M1069 824h0M1066.3 838.8h0M1063.8 836h0M1059.7 838.4h0M1060.6 828.7h0M1063.3 821.9h0M1072.3 829.4h0M1065.2 836.5h0M1061.3 832.1h0M1072.7 830.7h0M1073.5 836.2h0M1072.3 828.3h0M1060.4 819.7h0M1070.8 820.1h0M1064.2 807h0M1064.1 807h0M1062.7 811.5h0M1075.1 807h0M1074.5 815.3h0"/><path d="M1057.2 822.2h0M1056.9 834.8h0M1074.5 822.2h0M1072.8 825.6h0M1069.8 831.5h0M1057.9 835.5h0M1067.6 837.1h0M1057.5 823h0M1071.1 822.6h0M1073.8 834.1h0M1072.6 834.8h0M1065.1 828.1h0M1067.2 819.9h0M1074.6 820.9h0M1057.1 837.1h0M1073.6 829.3h0M1072.3 836.7h0M1056.6 834.4h0M1066.4 826.5h0M1073.5 832.1h0M1059.7 826.3h0M1056.6 826.6h0M1072 830.4h0M1064.6 839h0M1074.2 832.8h0M1063 818.7h0M1065.4 813.4h0M1073.6 811.7h0M1075.4 816.8h0M1072.9 813h0"/><path d="M1063.7 827.9h0M1066.3 833.9h0M1060.2 826.8h0M1059.5 825.7h0M1074.4 825.8h0M1060.1 834.9h0M1056.9 822.1h0M1058.5 828.8h0M1058.2 820.7h0M1066.6 820.2h0M1058.8 821.9h0M1067.7 837.3h0M1072.8 823.5h0M1071.3 824h0M1073.6 835.1h0M1074.4 831.7h0M1057.1 836.5h0M1057.6 826.3h0M1058.2 820.5h0M1072.4 820.6h0M1058.2 820.5h0M1073.8 823.9h0M1062.6 833.8h0M1068.4 832.2h0M1065.9 839.1h0M1065.2 816.5h0M1066.2 813.3h0M1073.5 810.9h0M1075.3 811.7h0M1074.2 803.7h0"/><path d="M1063.7 819.9h0M1070.4 838.5h0M1067.7 827.5h0M1057.6 831.7h0M1062 821.4h0M1071.7 820h0M1063.7 819.7h0M1056.6 820.6h0M1057.7 824.8h0M1065.3 837.4h0M1073 829.7h0M1069.9 820.7h0M1070.5 832.4h0M1071.3 836.1h0M1062.6 831.4h0M1057 825h0M1065.7 832.5h0M1062 820.1h0M1071.7 825.4h0M1073.8 825.8h0M1064.3 821.9h0M1058.7 820.8h0M1065.7 834.5h0M1057 830.9h0M1073.9 833.2h0M1063.5 815.9h0M1064.2 807.2h0M1074 814.7h0M1074.6 811.4h0"/><path d="M1070.2 820.5h0M1070.8 835.2h0M1056.8 829.2h0M1065.7 833.5h0M1072.3 828.8h0M1070.8 827.1h0M1063.8 824.9h0M1066.3 832.5h0M1059.7 831.7h0M1068.1 823.9h0M1071 828.9h0M1070.6 824.9h0M1070.4 838.9h0M1074.3 821.5h0M1058 820.1h0M1071.6 819.9h0M1065.1 820.1h0M1069.5 822.8h0M1064 821.3h0M1067.6 828.9h0M1060.7 830h0M1059.8 826.2h0M1057.3 826.9h0M1064 819.7h0M1067.8 831.5h0M1066.6 815.6h0M1065.7 817.6h0M1073.1 813.6h0M1074.7 809.8h0"/><path d="M1060.3 826.7h0M1070.2 820.3h0M1057 838.4h0M1059.9 822.3h0M1060.1 834.7h0M1072.2 832.9h0M1066.5 836.3h0M1066.8 839h0M1072.5 835.3h0M1057 833.2h0M1061.1 828.8h0M1070.4 827.5h0M1065.3 829.1h0M1072.8 832.5h0M1073.1 828.7h0M1061.8 823.9h0M1065.2 827.4h0M1074.7 822.8h0M1066.5 836.2h0M1067.1 821.1h0M1073.6 827.1h0M1070 820.2h0M1072.1 835.2h0M1061.1 829.3h0M1061.6 825.4h0M1063.7 808.5h0M1063.3 815h0M1075.1 806.7h0M1076.4 819.5h0"/><path d="M1058.3 835h0M1063.1 830.2h0M1072.2 822.9h0M1073.5 822.7h0M1057.1 836.9h0M1064.5 832h0M1064 827.6h0M1074.5 820.2h0M1065.8 822.8h0M1058.4 819.3h0M1067.2 820.6h0M1064.9 820.6h0M1064.2 834.9h0M1059.8 820.4h0M1061.6 822.2h0M1064.4 818.8h0M1066.7 826.9h0M1073.2 828.7h0M1062.3 820.8h0M1062.9 820.4h0M1072.2 831.5h0M1068.8 820.4h0M1059.5 833.5h0M1060.8 826.4h0M1074.1 837.1h0M1063 815.6h0M1064.2 806.9h0M1075.6 819.3h0M1074.4 806.5h0"/><path d="M1061.3 821.5h0M1071.2 835.3h0M1074.5 838.6h0M1071 827.9h0M1064.2 824.6h0M1066.5 821.8h0M1059.3 837.8h0M1062 833.6h0M1067.5 838.6h0M1066.2 833.9h0M1070.4 824.2h0M1072.4 833.9h0M1070.3 839h0M1060.9 818.7h0M1071.6 828.8h0M1060.1 832.9h0M1068.7 835.8h0M1056.6 818.4h0M1060.2 836.8h0M1057 836h0M1058.7 820.4h0M1059.1 829.3h0M1071.4 834.5h0M1061 819h0M1059.9 827.6h0M1068.1 819.6h0M1064.1 806.8h0M1074.8 804.9h0M1073.7 808h0"/><path d="M1071.6 828.2h0M1067.6 836h0M1061.7 832.2h0M1070 834h0M1066.6 830.4h0M1074 821h0M1072.4 836.7h0M1059.2 831.6h0M1060.1 829.1h0M1063.9 833.2h0M1066.6 826.1h0M1059.4 836.5h0M1072.1 820.8h0M1071 825.7h0M1073.9 828.3h0M1071.5 828h0M1061.6 821.2h0M1060.1 820.5h0M1061.1 831.8h0M1070.9 823.8h0M1062.8 824h0M1074.1 840.6h0M1059.3 833.5h0M1068.3 825.5h0M1072.4 827.3h0M1064.5 809.9h0M1064 809.2h0M1073.9 815.2h0M1073.5 809.4h0"/><path d="M1062.9 822.4h0M1072.1 838.7h0M1065.1 835.4h0M1061.7 833.9h0M1064.4 838h0M1071 838.3h0M1064 824.3h0M1073.3 837.3h0M1073.3 821.8h0M1061.5 819.9h0M1059.4 828.6h0M1066.9 825.1h0M1060.9 822.4h0M1073.4 822.5h0M1063.5 821.6h0M1067.3 832.7h0M1066.4 822h0M1074.5 821.7h0M1064.6 839.7h0M1067.9 829.2h0M1069.8 821.7h0M1065.2 834.5h0M1065.4 820.3h0M1069.3 829.5h0M1072.9 819.8h0M1065.2 813.3h0M1064.9 810.7h0M1074.6 810h0M1075.7 814h0"/><path d="M1067.6 839.4h0M1072.7 829.4h0M1057 834h0M1067.8 819h0M1061.1 823.3h0M1058.8 827.5h0M1058 823.1h0M1059.8 826.8h0M1073.4 820.6h0M1065.9 822.9h0M1063.1 829.4h0M1059.7 830.2h0M1058.8 831.2h0M1063.3 834.6h0M1063 833.1h0M1068.2 836h0M1062.5 828.9h0M1065 836.3h0M1059.2 824.1h0M1062.2 830.6h0M1065.5 819.9h0M1067.7 818h0M1073.4 824.7h0M1060 821.3h0M1063.2 834.4h0M1064.1 809.1h0M1064.2 808.9h0M1073.6 816.9h0M1073.5 809.3h0"/></g>
<g class="d" stroke="#f4a261" stroke-opacity="0.90"><path d="M1081.6 846.2h0M1083.1 833.2h0M1078.1 832.5h0M1091 841h0M1080.6 843.9h0M1084.4 840.5h0M1080.9 841.5h0M1082.1 834.7h0M1080.4 840.1h0M1090.3 847.4h0M1084.5 833.2h0M1083.1 836.5h0M1076.6 850.3h0M1083.5 845.9h0M1077.5 843.8h0M1078.2 832.9h0M1076.2 846.2h0M1079.6 837.2h0M1079 833.1h0M1092.2 835.8h0M1086.6 847.1h0M1085.4 832.5h0M1091.6 847.1h0M1080.9 847.3h0M1080.6 833.4h0"/><path d="M1082 848.3h0M1087 842.8h0M1091.5 833h0M1081.8 852h0M1092.1 845.8h0M1092.3 836.9h0M1078 832.9h0M1086.8 832.6h0M1091.4 848.7h0M1081.1 832.9h0M1085.7 846.6h0M1087.1 837.1h0M1089.1 835.6h0M1087.2 837.3h0M1089.4 832.6h0M1078.4 849.5h0M1083.6 833.3h0M1089.6 839.7h0M1090.5 833.5h0M1076.2 834.1h0M1083.5 842.3h0M1076.2 835.6h0M1081.8 840.5h0M1084.6 850.4h0M1077.4 839.7h0"/><path d="M1089.4 851.1h0M1086.6 847.5h0M1080.4 840.8h0M1077.1 850.1h0M1089.3 846.9h0M1084.4 844.6h0M1076.3 841.9h0M1078.6 837.6h0M1078.5 844.5h0M1076.7 844.9h0M1091 838.8h0M1092.9 838.6h0M1091.5 833.3h0M1083.4 843.6h0M1087.1 841.9h0M1090.3 847.9h0M1087.6 840.6h0M1081.8 833.5h0M1093.1 849.7h0M1084.9 843.2h0M1076.3 832.2h0M1085.3 844.7h0M1079.6 841.6h0M1077.4 832.7h0M1078.1 852h0"/><path d="M1081.9 833.9h0M1089.4 836.6h0M1091.9 836.7h0M1080.1 832.1h0M1089.3 833.9h0M1087.2 851.4h0M1080.7 834.2h0M1087.5 845.7h0M1079.8 843.3h0M1092.1 843.6h0M1076.3 841.3h0M1079.6 834.4h0M1081 833.1h0M1090.5 847.5h0M1088.7 847.8h0M1082.5 852.7h0M1077.2 841.1h0M1088.2 838.7h0M1092.6 835.5h0M1088.5 848.6h0M1089.4 840.3h0M1092.7 835.5h0M1093.1 844.7h0M1090.5 840.2h0M1085 848.6h0"/><path d="M1092.1 837.9h0M1090.8 847.6h0M1092.1 838.8h0M1091.4 847.5h0M1082.9 848.4h0M1084 839.3h0M1078.2 833.7h0M1079.6 837.4h0M1087.4 847.4h0M1080.9 835.4h0M1088 836.3h0M1093.3 833.1h0M1076.4 850.8h0M1092.5 833.2h0M1078.8 835.6h0M1089.5 833.1h0M1091.8 834.8h0M1091.8 840.3h0M1090.1 849.9h0M1083.4 841.3h0M1092.9 838.5h0M1085.5 843.6h0M1076.4 833.4h0M1091.9 835.6h0M1088.7 838.2h0"/><path d="M1090.4 845.5h0M1082.8 838.1h0M1093.4 836.4h0M1089.3 849h0M1091.9 832.7h0M1085.4 845.7h0M1079.6 840.7h0M1085.3 835h0M1076.9 847.5h0M1091 843.6h0M1086.5 844.1h0M1082 851.1h0M1086.8 836.5h0M1089.7 851.4h0M1088.6 834h0M1076.9 846.3h0M1088.6 843h0M1078.8 848.1h0M1090.8 845.6h0M1092.2 843.8h0M1079.8 849.8h0M1087.5 833.2h0M1084.1 849.4h0M1082.9 844.6h0M1076.8 833.9h0"/><path d="M1090.9 841.3h0M1091.9 847.8h0M1082.3 837.7h0M1078.8 841.3h0M1079.3 833.5h0M1080.6 840.3h0M1086 834h0M1092.6 850.3h0M1089.1 843.7h0M1082.1 831.9h0M1080.6 839.9h0M1084.5 833.4h0M1084.3 839.4h0M1082.5 849.9h0M1079.9 848.8h0M1077.5 851.2h0M1083.6 851h0M1088.7 846.2h0M1086 836.9h0M1082.1 842.2h0M1087.4 833h0M1076.3 840.2h0M1087.2 835.7h0M1087.6 844.5h0M1080.6 844.8h0"/><path d="M1080.9 838.2h0M1083.2 846.7h0M1076.6 832.9h0M1082.1 841.4h0M1076.7 834.3h0M1077.7 848.6h0M1085.4 834.6h0M1089.4 846.7h0M1081.9 836.2h0M1081.8 838.4h0M1076.3 842.2h0M1085.7 836.3h0M1078.1 832.8h0M1083.1 841.6h0M1083.7 851h0M1084.5 835.4h0M1087 833.1h0M1083.8 846.7h0M1092.5 832.9h0M1082.8 834.7h0M1087.2 837.3h0M1090.6 850.9h0M1092.6 845.4h0M1093 846.6h0M1077.5 851.6h0"/><path d="M1082.1 833.8h0M1080 835.5h0M1089.8 837.4h0M1084.4 847.9h0M1092.5 845h0M1084.6 846.9h0M1081.1 832.8h0M1081.1 833.2h0M1090.9 839.2h0M1080.9 833.4h0M1091.9 839.6h0M1078.4 847.2h0M1091.7 838h0M1085.6 847.5h0M1091.5 851.1h0M1083.3 847.9h0M1080.8 841.1h0M1087.3 834.5h0M1089.2 846.5h0M1080.2 850.5h0M1076.9 838.1h0M1082.5 847.6h0M1085.9 836.8h0M1090 844.9h0M1088.4 848.7h0"/><path d="M1080.9 837.7h0M1083 846.6h0M1089.9 835.1h0M1092.2 834.5h0M1078.1 846.6h0M1084.4 835.4h0M1076.6 846.2h0M1091.3 834.3h0M1081.1 849.7h0M1089.8 838.5h0M1086.5 842.5h0M1080.5 834.6h0M1086.8 846.6h0M1078.5 837.9h0M1088.5 840.5h0M1087.9 841.9h0M1084.5 846.9h0M1092.2 833.8h0M1077.8 834.8h0M1091.2 840.9h0M1085.7 843.9h0M1077.8 842.6h0M1084.2 842.4h0M1084.7 837.6h0M1088.1 833.6h0"/><path d="M1083.3 838.3h0M1081 847.6h0M1092.1 845.3h0M1090.5 833.1h0M1076.3 836.6h0M1087.2 840h0M1092.5 844.7h0M1081.2 841.8h0M1087.3 850.1h0M1078.9 842.7h0M1093.6 835.8h0M1082 835.5h0M1090.2 847.7h0M1086.9 846.6h0M1083 848.1h0M1085.7 837.4h0M1079.2 832.6h0M1089.8 834.7h0M1082.5 852.6h0M1087 839.4h0M1087.8 851.2h0M1091.3 838.5h0M1080.6 836h0M1077.5 845.8h0M1079.6 840.3h0"/><path d="M1081.2 850.3h0M1080.6 841.4h0M1085.3 841.6h0M1080.2 847.9h0M1090.4 843.8h0M1077.9 838.3h0M1093.4 850.4h0M1088.2 852h0M1085.2 844.1h0M1088.1 851.2h0M1086.3 835.1h0M1081.4 850.4h0M1078 836h0M1089.2 839.3h0M1092.1 834.5h0M1091.9 834.4h0M1077 832.8h0M1090.6 850.4h0M1078.1 837.6h0M1089 836.5h0M1090.5 852.8h0M1081.6 833.6h0M1081.3 848.7h0M1083.1 850.3h0M1088.6 835.3h0"/></g>
<g class="d" stroke="#e9c46a" stroke-opacity="0.90"><path d="M1193.9 846.7h0M1206 842.8h0M1204.8 849.6h0M1204.4 856.7h0M1197.4 859.5h0M1207.2 850.3h0M1199.6 846.1h0M1199.7 859.5h0M1207 846h0M1210.9 842.6h0M1196.1 847.5h0M1204.2 861.6h0M1209.5 857.8h0M1197.1 854.6h0M1200.4 853.7h0M1197.8 850.3h0M1210.9 860.9h0M1208.1 848.7h0M1208.7 847.8h0M1196.1 844.6h0M1204.1 843.2h0M1199.8 849.3h0M1205.3 852.8h0M1198 848.3h0M1210.5 855.4h0"/><path d="M1203.9 846.5h0M1207.3 846.7h0M1203.9 860.8h0M1207.5 843.3h0M1205.2 848.1h0M1194.8 844.2h0M1205.6 845.6h0M1211.4 851.9h0M1201.5 853.5h0M1197.5 853.8h0M1196.9 857h0M1198.9 860.5h0M1203.9 848.7h0M1199.4 852.6h0M1206.8 843.8h0M1205.8 861.3h0M1194.8 856.9h0M1200.9 859.9h0M1211.6 855.8h0M1200 853.2h0M1193.5 842.6h0M1210.9 852.5h0M1198.4 855.3h0M1204.9 842.9h0M1205.9 857.3h0"/><path d="M1207.4 851.2h0M1206.8 858.9h0M1194.4 846.5h0M1204.8 843.2h0M1196.8 861.3h0M1200.3 854h0M1197.4 843.7h0M1193.6 842.3h0M1203.6 845.9h0M1200 842.2h0M1210.2 853.6h0M1208.9 843h0M1199 842.2h0M1200.4 860.2h0M1205.1 841.4h0M1193.6 854.5h0M1209 857.6h0M1209.8 844.3h0M1197 849.3h0M1206.9 843.4h0M1205.9 842.6h0M1209.8 845.4h0M1205.3 852.2h0M1209.4 850.5h0M1210.4 860.8h0"/><path d="M1195.2 845.7h0M1211.8 842.1h0M1199.7 852.8h0M1207.1 857.8h0M1209.3 860.6h0M1197.2 845.1h0M1208.9 846.5h0M1204.8 851.4h0M1208.4 857.9h0M1210.4 849h0M1200.4 858h0M1200.1 844.2h0M1206.7 842.3h0M1198.3 861.5h0M1194.1 844h0M1207.5 857.5h0M1205.9 849.6h0M1201.4 842.3h0M1208.3 855.7h0M1195.4 850h0M1209 859h0M1198 848.7h0M1194.2 842.6h0M1196.3 845.8h0M1205.3 846.8h0"/><path d="M1204.8 860.8h0M1203.2 856.2h0M1206.9 848.4h0M1199 854h0M1194.7 855.8h0M1206.8 842.1h0M1198.2 844.2h0M1196.7 857.8h0M1195.2 848.5h0M1203.8 843.1h0M1195.2 842.2h0M1198.8 854.2h0M1203.4 853.6h0M1192.8 855.4h0M1199.6 843.3h0M1203.4 848.9h0M1195.3 859.9h0M1193.7 848.6h0M1210.9 849.2h0M1202.7 848.4h0M1204 849.4h0M1196.3 858.2h0M1211.6 844.6h0M1205.2 858.5h0M1210.5 847.3h0"/><path d="M1209.2 859.9h0M1209 854.6h0M1195.6 856.9h0M1205.8 843.3h0M1209.7 845.3h0M1204.6 841.6h0M1195.3 861.4h0M1200.7 842.8h0M1192.9 859.7h0M1203.9 849.6h0M1198.5 858.1h0M1196.7 842.2h0M1201 851h0M1193.4 850.5h0M1202.9 857.5h0M1211.5 842.4h0M1205.5 844.5h0M1210.1 858.6h0M1200 857.4h0M1196.7 844.8h0M1201.9 857.3h0M1202.3 857h0M1210.5 845h0M1200.3 848h0M1210.6 842.4h0"/><path d="M1208.1 843.4h0M1205 852.1h0M1201.7 857.5h0M1207.3 848h0M1192.9 841.6h0M1210.4 855.4h0M1209.5 842.8h0M1199.9 857.2h0M1202.5 842.7h0M1209.4 849.9h0M1195.9 842.5h0M1201.6 851.1h0M1203.4 847.5h0M1198.5 844.7h0M1202.3 857.6h0M1203.9 854.9h0M1204.3 847.8h0M1199.1 847.9h0M1195 859.5h0M1205.2 855.8h0M1210.4 846h0M1209 848.5h0M1200 856.5h0M1209 851.8h0M1193.9 852.1h0"/><path d="M1211.7 860.5h0M1205.4 849.6h0M1205.3 855.5h0M1200.9 861h0M1209.3 844.9h0M1206 856.7h0M1196.9 844.7h0M1199.5 851h0M1201.6 843.7h0M1196.4 847.5h0M1210.5 847.1h0M1210.4 860h0M1211.8 856h0M1210.3 842.1h0M1193.7 859.3h0M1203.2 843.1h0M1210.9 843.6h0M1206.3 855.5h0M1203.9 845.9h0M1201.1 843.7h0M1207 847.1h0M1194 850.1h0M1201.4 847.6h0M1194.6 842.6h0M1194.3 852.1h0"/><path d="M1208.9 846.2h0M1195 850.9h0M1205.2 854.2h0M1195.2 857.7h0M1196.6 855.2h0M1203.9 856.2h0M1195.9 849.3h0M1197.7 846.3h0M1203.9 842.4h0M1195.6 846.3h0M1197.7 842.7h0M1211.6 858.8h0M1198.8 856.8h0M1203.6 856.3h0M1198.7 855.2h0M1195.7 856.9h0M1210.2 849.2h0M1209.6 847.5h0M1206.1 843.8h0M1205 846.4h0M1210.1 859.4h0M1206.3 854.9h0M1210.6 847.9h0M1193.5 851.7h0M1193.5 842.7h0"/><path d="M1195.8 853.1h0M1206.6 854.6h0M1197.3 846.4h0M1208.2 844.8h0M1194.7 858.8h0M1210.8 855.5h0M1206.5 858h0M1206.7 860.6h0M1203.1 860.2h0M1205.4 848.3h0M1199.7 845.6h0M1202 859.4h0M1197.2 848.8h0M1210.1 852.8h0M1206.4 846.5h0M1209.8 847.1h0M1195.5 855.7h0M1199.4 842.3h0M1198.5 847.8h0M1197.7 847h0M1205.1 855.3h0M1201.2 844.1h0M1206.9 842.7h0M1206.8 856.4h0M1206.2 858.2h0"/><path d="M1203.4 860.2h0M1208.1 854.3h0M1200.6 842.2h0M1205.1 853.5h0M1196.4 841.8h0M1197 842.5h0M1207.3 852.1h0M1203.8 853.9h0M1196.9 843.6h0M1200.5 856.1h0M1200.3 861.9h0M1208.2 851.1h0M1204.6 844.4h0M1202.5 861.2h0M1200.9 860.1h0M1196 857.1h0M1211.6 855.3h0M1206.1 845.2h0M1192.9 845.4h0M1205.5 842.7h0M1209.6 844.2h0M1208.4 855.4h0M1202.2 849.4h0M1194.8 849.3h0M1211.6 845.3h0"/><path d="M1200.8 848.2h0M1198.3 842.1h0M1206.3 845.2h0M1203.6 854.6h0M1207.4 843.8h0M1194.6 850.7h0M1202.8 846.3h0M1209.5 845.4h0M1210.2 847.2h0M1197.5 842.7h0M1192.9 851.1h0M1197.1 845.9h0M1204.6 854.2h0M1203.8 858.3h0M1207.9 842.6h0M1200.7 858.1h0M1195.5 850.9h0M1199.4 848.4h0M1204 842.9h0M1195.1 843.8h0M1211.2 850.9h0M1193.3 846.8h0M1194.9 846.6h0M1208.7 847.2h0M1209.2 843.4h0"/></g>
<g class="d" stroke="#8ab17d" stroke-opacity="0.90"><path d="M1227.5 860.6h0M1226 853.9h0M1228.3 859.5h0M1221.3 868.6h0M1229.3 871.4h0M1218.7 866.1h0M1231.1 867.5h0M1220.5 861.3h0M1218.6 853.9h0M1220 853h0M1224.1 855.5h0M1222.1 872.8h0M1225.4 855.9h0M1213.6 855.8h0M1224.2 865.2h0M1226.8 866.1h0M1223.7 867.2h0M1213.5 865.1h0M1222.6 870.5h0M1230.7 851.9h0M1226.7 852.6h0M1229.6 866.2h0M1224.4 855.3h0M1227.2 852.9h0M1230.8 862.7h0"/><path d="M1215.8 855.4h0M1214.9 867.5h0M1216.4 856h0M1227.2 852.7h0M1225.2 858.6h0M1219.8 853h0M1228.6 854.9h0M1229.1 867.3h0M1221.1 870.6h0M1231.6 858.7h0M1214.3 860.2h0M1217.2 863.9h0M1222.2 871.6h0M1231.2 853.5h0M1215.8 857.1h0M1217.6 859.3h0M1230 867.5h0M1225.4 857h0M1230.3 863.4h0M1231 855h0M1217 866.9h0M1215.9 855.1h0M1214.8 867.5h0M1214.5 853.5h0M1225.6 863.8h0"/><path d="M1216.3 867.5h0M1230.9 865h0M1217.8 869.3h0M1224.8 865.2h0M1226.6 853.7h0M1216 864.4h0M1223.4 860h0M1215.1 856.6h0M1229.1 853.3h0M1226.6 853h0M1215.9 857.7h0M1224.6 868.1h0M1231.5 856h0M1228.7 870.6h0M1213.8 866.9h0M1231 863.8h0M1220.8 871.4h0M1229.6 853.5h0M1220.3 861.4h0M1226.9 867.9h0M1224.3 855h0M1218.5 865.3h0M1222.7 869.6h0M1231.6 853.6h0M1218.1 870.9h0"/><path d="M1227.4 868.1h0M1220.8 853.6h0M1223.1 856h0M1226 853.6h0M1216.5 864h0M1224.8 861.7h0M1229.2 853.9h0M1225 870h0M1220.1 863.7h0M1213.7 861.7h0M1217.9 865.2h0M1227.7 855.3h0M1223.3 872.2h0M1232.3 861.5h0M1222.5 854.1h0M1229.3 865.9h0M1218.1 871.6h0M1215.3 866.8h0M1223.4 853.5h0M1214.2 866.8h0M1231.1 866.9h0M1223.4 870.4h0M1217.7 867.1h0M1231 871.2h0M1232.1 854.6h0"/><path d="M1231.6 853.8h0M1220 853.9h0M1220.6 857.1h0M1228.5 857.2h0M1221 858.8h0M1219.9 858.7h0M1229.6 864.2h0M1226.6 856.1h0M1214.9 864.2h0M1216.4 865.6h0M1226.2 857.2h0M1225.5 865.4h0M1221.8 852.8h0M1226.4 852.6h0M1222.5 852.4h0M1228.5 863.5h0M1222.9 871.6h0M1230.9 867.1h0M1215.6 868.6h0M1226.2 856.8h0M1221.4 866.7h0M1219.2 856.5h0M1219.2 854h0M1221.9 852.8h0M1218 853.3h0"/><path d="M1214.5 868.9h0M1222.2 868.1h0M1226.2 853h0M1216.7 856.8h0M1221.3 860.4h0M1216.8 853.1h0M1216.4 867h0M1231 858.2h0M1230 853.2h0M1228.1 862.3h0M1218.8 865h0M1218.5 871h0M1218.5 855.2h0M1219.7 861.3h0M1224.5 854.9h0M1217.3 853.3h0M1222 861.1h0M1228.5 867.8h0M1222.3 859.6h0M1222.2 869.6h0M1223.7 863.8h0M1216.1 871h0M1226.8 854.5h0M1223.1 864.3h0M1222.5 867.2h0"/><path d="M1231.6 871.4h0M1223.9 871.7h0M1222.8 866.9h0M1218.6 862h0M1222.3 862.8h0M1229.3 868.9h0M1231.7 853.1h0M1230.3 870.1h0M1219.8 856h0M1225 852.6h0M1213.5 868.4h0M1220.1 855.1h0M1218.7 854.4h0M1228.9 868.3h0M1220.5 867.7h0M1219 864.9h0M1224.6 867.5h0M1222.2 862h0M1214.3 861.4h0M1223.8 852.3h0M1219.3 870.5h0M1219.9 866.1h0M1224.9 857.2h0M1213.5 866h0M1231.2 864.8h0"/><path d="M1215.1 855.3h0M1213.8 859.2h0M1219.9 867.7h0M1214.2 861.4h0M1229.3 853.1h0M1228.1 854h0M1231.8 859.6h0M1218.2 864.1h0M1228.4 864.9h0M1218.2 852h0M1214.1 866.6h0M1227.3 867.3h0M1226.3 855.8h0M1229 852.8h0M1226.2 852.3h0M1216.2 864.7h0M1215.7 867.3h0M1214.4 855.4h0M1230.2 872.5h0M1217.9 862.8h0M1224.2 854h0M1218.8 859h0M1231.1 860h0M1213.5 860.4h0M1219.6 869.5h0"/><path d="M1230.4 854.3h0M1218.6 865.4h0M1225.3 867.4h0M1224.3 865h0M1224.7 857.1h0M1218.4 866.1h0M1230.4 858.8h0M1226 858.1h0M1224.8 858.2h0M1220.1 863.6h0M1224 861.1h0M1226.5 856.2h0M1219.1 855.4h0M1220.7 854.7h0M1225.5 872.3h0M1222.3 856h0M1213.5 868.9h0M1219.3 871.3h0M1221.7 866.1h0M1213.4 862.6h0M1230 859.4h0M1225.8 859.4h0M1227.5 853.3h0M1217.9 864.6h0M1219.9 865h0"/><path d="M1223.6 867.5h0M1226.8 865.2h0M1223.4 858h0M1221.2 854.5h0M1221.6 870h0M1213.4 871.9h0M1231.9 868.6h0M1217.2 864.5h0M1215.9 856.8h0M1216 865h0M1214.7 867.3h0M1216.7 854.1h0M1215.5 860.2h0M1223.9 852.9h0M1222.2 865.2h0M1218.8 863.5h0M1230.1 852.4h0M1229.3 854.3h0M1214.6 866.5h0M1227.2 857.3h0M1219.4 870h0M1230.7 861.4h0M1223.4 852.2h0M1225.7 853.7h0M1231.9 853.5h0"/><path d="M1221 861.6h0M1218.5 853.3h0M1217.6 862.2h0M1216.7 869.1h0M1230.8 854.3h0M1224.2 855.5h0M1222.8 863.2h0M1223.5 871.1h0M1216.3 852.8h0M1219.7 855h0M1230.4 866.6h0M1215.2 861.9h0M1227 858.3h0M1219.8 857.2h0M1222.5 854.8h0M1221.3 854.1h0M1224.1 864.2h0M1229.4 862.7h0M1217.7 868h0M1222.3 867.5h0M1221.8 852.9h0M1217 865.1h0M1218.4 862.8h0M1215.7 866.8h0M1226.9 870.6h0"/><path d="M1222.1 864h0M1230.8 867.1h0M1226.8 868.8h0M1223.5 856.4h0M1230 862.4h0M1231.8 870.7h0M1231.6 869.1h0M1223.9 853h0M1226.5 863h0M1216.3 859.5h0M1217 871.7h0M1218.7 853.6h0M1219 868.8h0M1225.6 856.1h0M1222.5 853.5h0M1223.6 859h0M1214.9 859h0M1215.9 868h0M1228.2 868h0M1225.1 862h0M1220.5 870.9h0M1213.7 857.2h0M1223.3 869.7h0M1231.8 859h0M1218.9 856.9h0"/></g>
<g class="d" stroke="#2a9d8f" stroke-opacity="0.90"><path d="M1237.8 866.2h0M1235.8 870.2h0M1234.1 874.7h0M1233.5 867.7h0M1245.2 864.1h0M1246.4 880.5h0M1247.2 876.9h0M1250.9 875h0M1238.4 866.9h0M1236.9 865.1h0M1235 876.4h0M1237 867.4h0M1243.9 876.4h0M1249.4 864.8h0M1251.6 872.2h0M1241.3 865.1h0M1239.7 875.9h0M1250.1 876h0M1235.2 876.6h0M1236.1 876.5h0M1238.8 874.4h0M1242 870.2h0M1248.7 865.5h0M1247.5 875.2h0M1233.5 877.8h0"/><path d="M1247.9 877.9h0M1251.2 866.8h0M1250.5 871.6h0M1247.4 870.1h0M1247.2 876.5h0M1240.4 878.5h0M1244.1 878h0M1236.3 875h0M1241 871h0M1251.6 873.9h0M1237.5 864.2h0M1246.5 875.2h0M1241.8 866h0M1245.7 875.6h0M1235.4 863.8h0M1239.6 868.9h0M1234.1 865.6h0M1235.6 874.9h0M1242.3 865.6h0M1250.2 864.8h0M1249.6 879.3h0M1244.5 881.3h0M1244 864.3h0M1246.1 881.5h0M1237.8 878.7h0"/><path d="M1238.4 868h0M1251.1 881.6h0M1236.3 876.4h0M1247.2 869.4h0M1247.6 864h0M1248.6 883.1h0M1241.5 868.8h0M1245.1 875.2h0M1250.6 866.9h0M1236.9 874.3h0M1246.7 878.4h0M1236.3 881.6h0M1237.2 875.6h0M1235.3 876.8h0M1239 864.3h0M1239 867.7h0M1241.3 876.9h0M1251.5 867.9h0M1250.5 871.9h0M1235.5 875.3h0M1244.6 877.8h0M1250.9 873.9h0M1243.8 870.3h0M1243.7 875.3h0M1238 873.2h0"/><path d="M1249.8 875.4h0M1249.2 869.3h0M1245.3 870.9h0M1237.2 865.2h0M1250.1 863.7h0M1246.9 877.1h0M1238.9 878.2h0M1238.2 865.2h0M1241.8 869h0M1251.4 878.1h0M1244.1 875.2h0M1241.6 864.2h0M1234.5 873.5h0M1239.8 865.7h0M1244.9 868.4h0M1248.1 878.4h0M1249.5 865h0M1250.8 881.6h0M1248.6 875.7h0M1247.1 880.6h0M1234.9 864.1h0M1242.8 867.7h0M1234.5 876.6h0M1243.1 862.6h0M1244 867.2h0"/><path d="M1251.9 876.9h0M1244.7 865.2h0M1245.2 874.6h0M1251.5 875.4h0M1250.4 880.3h0M1234.7 879h0M1246.3 881.1h0M1241.3 878.5h0M1244.2 878.3h0M1247.6 863.7h0M1248.8 866.2h0M1239.8 881.7h0M1249.7 874.1h0M1234.2 870.1h0M1243.4 875.1h0M1242.5 880.8h0M1246.8 878h0M1243.3 873h0M1246.7 868.4h0M1237.6 869h0M1239.2 876.7h0M1246.8 864.1h0M1234.8 874.6h0M1240.3 865.8h0M1238.6 873h0"/><path d="M1234.3 868.7h0M1244.8 868h0M1243.4 879h0M1237.9 876.5h0M1239.5 865.1h0M1241 864.1h0M1248.1 866.8h0M1247.3 872.7h0M1244.9 865.6h0M1239.8 865.9h0M1251.7 880.6h0M1247.3 865.7h0M1244.1 868.9h0M1250 875.6h0M1242.1 876.6h0M1238.7 865.6h0M1245.2 873.6h0M1248.3 863.7h0M1234.1 881.7h0M1234.8 867.3h0M1233.8 864.8h0M1247.5 874.5h0M1251.3 874.6h0M1234.2 877h0M1248.6 870.6h0"/><path d="M1250.2 872h0M1242.4 872.9h0M1238.2 864.4h0M1250 865.1h0M1241.4 864.3h0M1241 873.5h0M1248.6 869h0M1247.7 879.4h0M1239.9 872h0M1236.3 863.3h0M1242.6 874.8h0M1239.5 879.4h0M1242.6 872.3h0M1245.7 869.1h0M1247.9 866.3h0M1239.7 878.9h0M1248.9 878h0M1247 866.1h0M1244.8 876.2h0M1245.9 875.7h0M1240 877.8h0M1250.9 878.6h0M1247.4 864.9h0M1248.3 866.9h0M1233.7 865.3h0"/><path d="M1245 863.6h0M1233.4 870.8h0M1243.6 877.4h0M1235.6 863.3h0M1248.9 881.6h0M1249.1 877.7h0M1243.3 872.7h0M1247.9 869.5h0M1239.9 873.9h0M1245.6 878.6h0M1233.3 878.7h0M1235.7 879h0M1242.3 875.4h0M1248.2 870.7h0M1235.7 876.6h0M1234.5 877.5h0M1247.7 866h0M1242.4 871.5h0M1235.8 881.2h0M1245.9 882h0M1251.1 865.1h0M1239.6 875.4h0M1241.7 875.3h0M1250.1 865.1h0M1251.2 870.3h0"/><path d="M1233.8 866.3h0M1243.8 864.9h0M1243.5 869.3h0M1236 879.1h0M1240.1 867.1h0M1239.8 874.1h0M1235.2 863.9h0M1251.4 862.6h0M1242.1 881.2h0M1248.9 864.5h0M1240.9 871.8h0M1240 882.7h0M1237.1 871.3h0M1245.4 881.5h0M1249.9 879.1h0M1239.3 867.8h0M1247.7 863.8h0M1234.5 878.5h0M1249.2 868.8h0M1249.8 873.8h0M1238.7 865.3h0M1249.7 866.3h0M1245.3 872.3h0M1243 869.5h0M1239.6 866.2h0"/><path d="M1239.6 872.2h0M1251.9 867h0M1246.1 881.3h0M1250 872.3h0M1247.5 873.2h0M1235.1 863.9h0M1236.2 875.1h0M1246.6 875.3h0M1239.5 864.3h0M1251.1 863.8h0M1241.8 864.8h0M1250.3 875.2h0M1247 865.1h0M1237.6 866.6h0M1238.9 878.5h0M1236.3 866.7h0M1250.9 863.6h0M1243.9 863.2h0M1249.2 878.1h0M1247.7 882.4h0M1247.9 875.6h0M1238.7 874h0M1251 870.3h0M1243.4 865.1h0M1242.1 864.3h0"/><path d="M1250.3 863.5h0M1248.1 865.3h0M1245.3 877.4h0M1242.2 868.3h0M1251.2 880.4h0M1250.4 877.8h0M1236.7 877.3h0M1236.9 872.6h0M1240.3 873.6h0M1241.1 878.8h0M1243.7 863.1h0M1248.8 864.2h0M1239.7 863.8h0M1247.1 879.4h0M1238.3 869.1h0M1237.8 882.3h0M1244 881.1h0M1238.6 875.3h0M1248.5 863.8h0M1249.2 864.6h0M1243.5 864h0M1237.2 879.3h0M1246.9 879h0M1250.8 864.2h0M1241.2 871.4h0"/><path d="M1249.1 864h0M1243 867.2h0M1243.9 869.1h0M1249.5 872.7h0M1243.9 866.8h0M1238.5 872.4h0M1240.3 864.9h0M1251.1 863.2h0M1242.7 873.6h0M1239.9 872.8h0M1242.4 868.1h0M1251.8 878.9h0M1235.3 875.7h0M1243.4 878.7h0M1234.5 866h0M1236.4 871.6h0M1244.5 865.8h0M1242.3 874.7h0M1240.3 874.4h0M1246.1 867.1h0M1235.8 866h0M1242.3 865.3h0M1235.2 875.8h0M1239.7 881.2h0M1234.6 863.6h0"/></g>
<g class="d" stroke="#287271" stroke-opacity="0.90"><path d="M1743.4 878.7h0M1739.9 890.7h0M1731.6 892.8h0M1741.6 885.7h0M1728.6 879.1h0M1727.9 879.2h0M1740.2 887.5h0M1736.4 888.2h0M1727.5 885.6h0M1737.2 893.6h0M1734.5 892.7h0M1737.5 891.2h0M1742.9 886.4h0M1740.4 876.2h0M1728.1 885.1h0M1728.9 877.1h0M1740.3 888.6h0M1726 893.7h0M1737.6 875.5h0M1742 876h0M1736.2 882.2h0M1727.3 884.7h0M1727.3 884.2h0M1729.6 883.9h0M1733.5 887.9h0"/><path d="M1734.4 880.4h0M1728.4 886.6h0M1741 887.3h0M1727.6 877.9h0M1736.1 877.1h0M1735.7 877.1h0M1741.2 879.9h0M1736.6 876.4h0M1736.9 894h0M1725.6 879.5h0M1726.5 883.5h0M1730 880.2h0M1725.6 880.1h0M1734.7 880.4h0M1741.8 876.9h0M1739.1 888.6h0M1743.6 887.1h0M1737.5 894.6h0M1729.1 892.5h0M1742.1 881.2h0M1739 890.2h0M1728 876.3h0M1740.1 876.2h0M1744.9 892.1h0M1734.1 891.6h0"/><path d="M1732.6 876.2h0M1743.8 887.3h0M1737.4 876.9h0M1744.1 878.5h0M1730.2 880.5h0M1739.3 882h0M1733.6 877.6h0M1740.5 891.3h0M1734.5 884.3h0M1737.6 888h0M1733.1 875.2h0M1727.1 877.5h0M1727.6 880.4h0M1732.3 881.4h0M1728.5 878.2h0M1743.6 877.3h0M1737.2 876.6h0M1732.8 877.3h0M1735.8 876.5h0M1739.2 885h0M1734.4 878.1h0M1735.2 892.6h0M1734.8 875.1h0M1736.6 893.5h0M1730.6 880.9h0"/><path d="M1739.7 883.4h0M1732.3 877.1h0M1735.9 877.6h0M1732.6 890.3h0M1726.2 879.9h0M1732.8 876.6h0M1729.5 882.7h0M1734.6 888.8h0M1736.4 885.6h0M1725.5 886.1h0M1741.5 875.6h0M1736.3 894.5h0M1730.7 877h0M1735.6 884.7h0M1737.3 884.5h0M1741.4 878.2h0M1735.4 894.3h0M1731.2 877.5h0M1744.2 879.7h0M1740.1 890.9h0M1743.3 883.1h0M1735.6 883.6h0M1737.5 893.9h0M1729.4 887.4h0M1735 876.5h0"/><path d="M1736.8 879.3h0M1739.9 891.1h0M1743.6 877.3h0M1743.1 893.7h0M1736.3 877.6h0M1743.4 884.3h0M1732.5 875.4h0M1730.1 891.3h0M1727.7 876.3h0M1729.4 884.8h0M1741.2 882.9h0M1727.2 891.2h0M1726.3 876.3h0M1741 888.3h0M1737.4 894.1h0M1732.9 894.4h0M1735.5 878.5h0M1744.2 886.7h0M1733.2 881.5h0M1741.4 879.5h0M1742.6 888.1h0M1741.7 876.5h0M1743.5 891.7h0M1739.3 890.6h0M1725.8 879.8h0"/><path d="M1726.4 882.2h0M1729.4 886h0M1733.5 894h0M1734.2 879.3h0M1741.1 890.9h0M1732.7 889.4h0M1733.2 887.3h0M1726.3 881.8h0M1725.9 876.8h0M1740.1 876.4h0M1730.1 877.8h0M1740.9 890.6h0M1738.2 890.9h0M1736.2 876.8h0M1727 876.5h0M1731.2 886.4h0M1743.8 886.6h0M1739.4 884.6h0M1734 887.8h0M1736.5 889h0M1732.2 882.9h0M1742.3 886.7h0M1737.6 878h0M1739.2 884.4h0M1734 891.3h0"/><path d="M1733.5 877.8h0M1743.8 890.6h0M1736.5 876.2h0M1730.5 886.7h0M1743.3 880.2h0M1729.4 877.2h0M1725.6 876.9h0M1727.7 878.3h0M1728.4 882.4h0M1729.6 877.9h0M1728.4 895.9h0M1728.8 877.1h0M1731.7 894h0M1738 877.1h0M1740.1 878.8h0M1731.6 881.9h0M1737.5 882.8h0M1743.7 888.3h0M1726.3 886.3h0M1729.9 889.7h0M1740.5 881.1h0M1726.4 877.8h0M1727.9 877.7h0M1738.7 879.1h0M1743 888.3h0"/><path d="M1734 893.5h0M1739.9 883.2h0M1728 879.2h0M1735.4 877.7h0M1731.5 886.9h0M1730.6 878.4h0M1735.9 883h0M1728.5 885h0M1732.1 895.4h0M1732.7 877.4h0M1731.6 887h0M1733.8 894.3h0M1734.6 887.7h0M1729.4 879.5h0M1739.9 886h0M1726.9 890.1h0M1736 886.6h0M1730.5 877.1h0M1730.9 883h0M1744.5 877.6h0M1740.1 876.1h0M1726.6 890.2h0M1732.5 886.7h0M1743.1 894.5h0M1731.5 894.5h0"/><path d="M1733.1 886.8h0M1739.3 876.9h0M1730.4 890.1h0M1740.4 876.7h0M1735.5 890h0M1727.4 895.4h0M1744.1 890.2h0M1733 877.9h0M1743.1 886.1h0M1737.9 887.1h0M1729.8 877.5h0M1730.3 887.2h0M1732.1 878.3h0M1737.6 881.5h0M1744.9 883.6h0M1726.5 881.7h0M1735.3 876.5h0M1726.1 884.5h0M1737.7 882.4h0M1733.2 886.5h0M1731.7 878.1h0M1732.6 877.1h0M1740.3 892h0M1741.7 887.8h0M1741.2 891.2h0"/><path d="M1731.1 891.8h0M1742.5 894.2h0M1738.4 881.2h0M1739.9 894.9h0M1738.8 891h0M1728 887.1h0M1728.3 876h0M1741.2 891.6h0M1744.7 876.9h0M1730.9 892.2h0M1741 889.6h0M1737.5 890.9h0M1736.5 878.7h0M1729.8 877.6h0M1738.9 890.3h0M1742.7 887.5h0M1744.2 879.4h0M1730.8 877.4h0M1734.9 882.2h0M1726.4 875.7h0M1744.9 890.1h0M1741.4 882.6h0M1725.5 879h0M1726.9 883.1h0M1727.1 876.2h0"/><path d="M1727.6 889.9h0M1739.2 877.4h0M1728.8 888.5h0M1745 889.5h0M1725.7 879.3h0M1736.6 886.1h0M1731 884.9h0M1730.2 892h0M1743.8 876.3h0M1734.5 881.1h0M1731.5 876.5h0M1729.4 876.8h0M1732.6 891.2h0M1744.3 890.2h0M1735.8 887.4h0M1730.6 882.6h0M1741.7 881.5h0M1729.4 876.5h0M1737.8 890.2h0M1730.4 876.4h0M1734.1 883.1h0M1733.1 889.1h0M1743.5 893.3h0M1730.9 876.8h0M1742.1 878h0"/><path d="M1742.5 892.9h0M1742 890.7h0M1728.4 886.4h0M1729 891.6h0M1738.3 893.2h0M1737.3 893h0M1737.2 885.8h0M1728.4 879.4h0M1731.2 888.5h0M1732 875.3h0M1736.3 885.2h0M1727.2 879.9h0M1728.4 891.3h0M1736.3 879h0M1731 889h0M1729.4 890.5h0M1742.5 876.3h0M1731.8 892.2h0M1731 894.5h0M1734.8 876.5h0M1736.8 877.7h0M1728.7 878.3h0M1743.5 880.4h0M1737.5 887h0M1731.2 888.9h0"/></g>
<g class="d" stroke="#264653" stroke-opacity="0.90"><path d="M1757.1 887.8h0M1754.8 887.7h0M1755.1 885.4h0M1747.6 892.8h0M1752.1 901.3h0M1762.3 904.7h0M1763.5 895.3h0M1762.6 899.6h0M1754.1 885.7h0M1749.5 900.4h0M1748.3 887.3h0M1756 898.3h0M1759 890h0M1753.5 888.4h0M1750.1 900h0M1760.7 886.3h0M1749.1 886.8h0M1750.2 886.7h0M1758.2 899.3h0M1762.6 890.7h0M1755 900.6h0M1757.5 889.4h0M1757.7 897.8h0M1756.9 885.3h0M1753 900.3h0"/><path d="M1746.6 894.2h0M1754.7 903.1h0M1761.5 899.2h0M1757.3 898.1h0M1759.9 887.2h0M1753.2 891.9h0M1751.8 886h0M1748 902.9h0M1753.6 901.3h0M1746.5 900.4h0M1746.9 888.1h0M1760.5 885.2h0M1752.2 904.6h0M1762.8 894h0M1749.9 889.2h0M1761.1 899.9h0M1759.8 900.3h0M1760.6 901.1h0M1757.2 886.4h0M1762.4 903.8h0M1746.7 900.6h0M1757 900.2h0M1760.1 898.5h0M1756.7 888.5h0M1751.8 890h0"/><path d="M1758.9 902.2h0M1753.7 887h0M1762.4 898.4h0M1746.1 886.5h0M1749.7 904.7h0M1750.4 898.5h0M1758.4 888.5h0M1756.7 896.5h0M1752.3 901.2h0M1754.6 885h0M1761.3 899.5h0M1764 896.9h0M1758.1 900.6h0M1754.7 891.9h0M1751.3 898.8h0M1751.2 904.2h0M1746.7 899h0M1751.6 893h0M1757.7 898.3h0M1745.8 900.9h0M1749.2 894.1h0M1756.9 889.9h0M1747.8 897.4h0M1753.5 888.7h0M1752.2 903.8h0"/><path d="M1762.4 899.6h0M1751.3 900.7h0M1754.3 895.5h0M1763.5 886.6h0M1754.2 901.2h0M1759.5 891.3h0M1752.3 897.8h0M1764.2 895.6h0M1764.2 886.6h0M1748.3 894.4h0M1756.6 891.5h0M1753.8 903.8h0M1757.2 886h0M1751.8 902.9h0M1747.2 893.4h0M1752.3 889h0M1746.4 887.7h0M1749.9 898.1h0M1761.6 900.7h0M1762.3 890h0M1749.5 898.6h0M1760.7 896h0M1763.2 902.8h0M1761.2 896.2h0M1757.5 886.7h0"/><path d="M1746.4 900h0M1763.2 885.9h0M1761.9 900.8h0M1765 903.1h0M1762.9 889.9h0M1755.2 903.5h0M1754.8 896.2h0M1760.2 897.9h0M1751.3 886h0M1756.9 900.2h0M1748.4 893.7h0M1763.5 895h0M1754 889.8h0M1755.6 886.5h0M1760 890.4h0M1753.3 897.8h0M1751.6 891h0M1759.2 887.8h0M1753.3 886.2h0M1757.9 900.4h0M1747.3 899.8h0M1759.6 887.3h0M1752.2 886.9h0M1753.9 892.8h0M1760.4 885.2h0"/><path d="M1761 885.5h0M1748.6 894.4h0M1761.8 893.4h0M1747.9 893.9h0M1753.2 898.6h0M1756.8 900.9h0M1763.4 900.7h0M1746.1 896.4h0M1747.6 897.5h0M1760.9 886.5h0M1754 897.9h0M1757.2 899.8h0M1764.6 887.8h0M1754 895.1h0M1762.2 895.6h0M1760.7 900.2h0M1763.1 891.8h0M1746.3 900.7h0M1751.3 893.9h0M1750 886.3h0M1761.7 892.5h0M1761.9 888.7h0M1756.7 887.1h0M1761.1 895.7h0M1761.2 892.3h0"/><path d="M1754.4 889.3h0M1761.4 898.8h0M1755.8 890.6h0M1748.8 893.3h0M1756 887.7h0M1754.2 886.4h0M1755.7 887h0M1747.6 902.5h0M1757.8 888.5h0M1756.5 899.1h0M1748.7 887.8h0M1751.5 887.6h0M1748.8 886.1h0M1753.7 891.9h0M1752.8 888.4h0M1763.3 895.9h0M1760 897.9h0M1761 902.8h0M1755.6 896.4h0M1753.8 903.5h0M1747.5 904.7h0M1756.8 897.2h0M1763.8 889h0M1754.5 899.7h0M1755.5 888.3h0"/><path d="M1751.6 891.9h0M1750.7 886.7h0M1764 891h0M1761.8 887.7h0M1753.2 887.1h0M1761.1 898.2h0M1751.9 888.7h0M1757.8 886.3h0M1763.9 902.2h0M1748.5 889.4h0M1759.6 893.8h0M1758.7 903.3h0M1750 896.9h0M1746.5 901.7h0M1752.9 895.2h0M1755.5 900.9h0M1758.5 885.6h0M1764.4 898.5h0M1748.7 897.4h0M1764.7 902.9h0M1757.7 891.3h0M1746.1 888h0M1761 890.5h0M1753.5 893.4h0M1756.8 890.7h0"/><path d="M1760.2 893.1h0M1746.9 898.9h0M1746.6 887h0M1762.3 886.2h0M1752.3 887h0M1755.8 885.1h0M1753.7 886.1h0M1763.2 886.4h0M1755.4 900.3h0M1749.8 903.4h0M1759.8 901.1h0M1764.8 893.9h0M1759.1 898.6h0M1761.4 886h0M1752.9 899.6h0M1750 887.8h0M1746.5 888h0M1750.4 903h0M1760.6 885.3h0M1764.6 904.5h0M1748.6 900.9h0M1753.1 888.2h0M1758.6 887.1h0M1764.7 904.5h0M1756.7 897.4h0"/><path d="M1748.3 897.3h0M1760.8 898.9h0M1754.8 893.6h0M1757.5 889.1h0M1746.1 889h0M1747.5 886.7h0M1754.4 903.9h0M1761.5 899.4h0M1756.7 895.3h0M1750.6 898.6h0M1763.8 899.8h0M1762.6 887.8h0M1746 886.3h0M1748.7 889h0M1758.6 896.3h0M1753.5 900.6h0M1759.3 887.3h0M1757.3 896.7h0M1750.3 886.9h0M1756 898.8h0M1759.9 886.4h0M1752.5 888.2h0M1764 886.6h0M1752.5 897.9h0M1759.9 891.8h0"/><path d="M1754.2 886.5h0M1755.3 898.2h0M1755.7 896.5h0M1756.7 885.6h0M1760.1 894.9h0M1754.2 892.1h0M1756.8 888h0M1760.2 899.2h0M1757.3 904.6h0M1762.4 888.9h0M1757.7 886h0M1762.4 896.9h0M1757.1 894.3h0M1759.9 892h0M1763.5 893.4h0M1762.9 902.8h0M1758.3 898.8h0M1749.8 893.7h0M1757.3 904.4h0M1761.6 894.3h0M1750 886.6h0M1755.5 895.7h0M1755.6 901.6h0M1750.2 898.1h0M1759.9 889.9h0"/><path d="M1758.1 884.9h0M1758.6 903.4h0M1748.8 893.3h0M1760.8 884.6h0M1763.4 897.3h0M1758 897h0M1764.1 886.7h0M1760.3 886.3h0M1758.5 893.6h0M1758.8 893.3h0M1752.1 898.8h0M1759.3 897.6h0M1748.2 904.2h0M1752.9 897.9h0M1764.8 892.6h0M1759.2 900.6h0M1759.4 903.7h0M1760.6 891.6h0M1762.9 892.3h0M1747.6 902.1h0M1749 885.2h0M1760.7 886.5h0M1754.4 903.9h0M1754 893.7h0M1750.6 900.9h0"/></g>
<rect x="1021.20" y="770.70" width="780.30" height="160.20" fill="none" stroke="#000" stroke-width="2.00"/>
<path d="M1120.40 930.90v-6.60M1120.40 770.70v6.60M1265.15 930.90v-6.60M1265.15 770.70v6.60M1409.90 930.90v-6.60M1409.90 770.70v6.60M1554.65 930.90v-6.60M1554.65 770.70v6.60M1699.40 930.90v-6.60M1699.40 770.70v6.60" stroke="#000" stroke-width="1.90" fill="none"/>
<text x="1120.40" y="947.70" text-anchor="middle" font-size="18.30">1800</text>
<text x="1265.15" y="947.70" text-anchor="middle" font-size="18.30">2000</text>
<text x="1409.90" y="947.70" text-anchor="middle" font-size="18.30">2200</text>
<text x="1554.65" y="947.70" text-anchor="middle" font-size="18.30">2400</text>
<text x="1699.40" y="947.70" text-anchor="middle" font-size="18.30">2600</text>
<path d="M1021.20 888.40h6.60M1801.50 888.40h-6.60M1021.20 824.00h6.60M1801.50 824.00h-6.60" stroke="#000" stroke-width="1.90" fill="none"/>
<text x="1017.30" y="895.30" text-anchor="end" font-size="18.30">0.5</text>
<text x="1017.30" y="830.90" text-anchor="end" font-size="18.30">1.0</text>
<text x="1411.35" y="967.50" text-anchor="middle" font-size="18.20">Time - 2457000 [BTJD Days]</text>
<text transform="translate(988.30 850.80) rotate(-90)" text-anchor="middle" font-size="18.20">Normalized Flux + offset</text>
<circle cx="1361.2" cy="795.90" r="2.5" fill="#e76f51"/>
<text x="1386.2" y="799.80" font-size="13.60">Sector 15 - 0.00</text>
<circle cx="1361.2" cy="815.27" r="2.5" fill="#f4a261"/>
<text x="1386.2" y="819.17" font-size="13.60">Sector 16 - 0.13</text>
<circle cx="1361.2" cy="834.64" r="2.5" fill="#e9c46a"/>
<text x="1386.2" y="838.54" font-size="13.60">Sector 22 - 0.21</text>
<circle cx="1361.2" cy="854.01" r="2.5" fill="#8ab17d"/>
<text x="1386.2" y="857.91" font-size="13.60">Sector 23 - 0.29</text>
<circle cx="1361.2" cy="873.38" r="2.5" fill="#2a9d8f"/>
<text x="1386.2" y="877.28" font-size="13.60">Sector 24 - 0.37</text>
<circle cx="1361.2" cy="892.75" r="2.5" fill="#287271"/>
<text x="1386.2" y="896.65" font-size="13.60">Sector 49 - 0.46</text>
<circle cx="1361.2" cy="912.12" r="2.5" fill="#264653"/>
<text x="1386.2" y="916.02" font-size="13.60">Sector 50 - 0.54</text>
<text x="82.02" y="465.40" text-anchor="middle" font-size="18.30"><tspan class="m">−</tspan>0.2</text>
<text x="185.89" y="465.40" text-anchor="middle" font-size="18.30">0.0</text>
<text x="289.76" y="465.40" text-anchor="middle" font-size="18.30">0.2</text>
<text x="393.64" y="465.40" text-anchor="middle" font-size="18.30">0.4</text>
<text x="497.51" y="465.40" text-anchor="middle" font-size="18.30">0.6</text>
<text x="601.38" y="465.40" text-anchor="middle" font-size="18.30">0.8</text>
<text x="705.26" y="465.40" text-anchor="middle" font-size="18.30">1.0</text>
<text x="809.13" y="465.40" text-anchor="middle" font-size="18.30">1.2</text>
<text x="1046.81" y="465.40" text-anchor="middle" font-size="18.30"><tspan class="m">−</tspan>0.2</text>
<text x="1150.85" y="465.40" text-anchor="middle" font-size="18.30">0.0</text>
<text x="1254.89" y="465.40" text-anchor="middle" font-size="18.30">0.2</text>
<text x="1358.93" y="465.40" text-anchor="middle" font-size="18.30">0.4</text>
<text x="1462.97" y="465.40" text-anchor="middle" font-size="18.30">0.6</text>
<text x="1567.01" y="465.40" text-anchor="middle" font-size="18.30">0.8</text>
<text x="1671.05" y="465.40" text-anchor="middle" font-size="18.30">1.0</text>
<text x="1775.09" y="465.40" text-anchor="middle" font-size="18.30">1.2</text>
</svg>
</body></html>
